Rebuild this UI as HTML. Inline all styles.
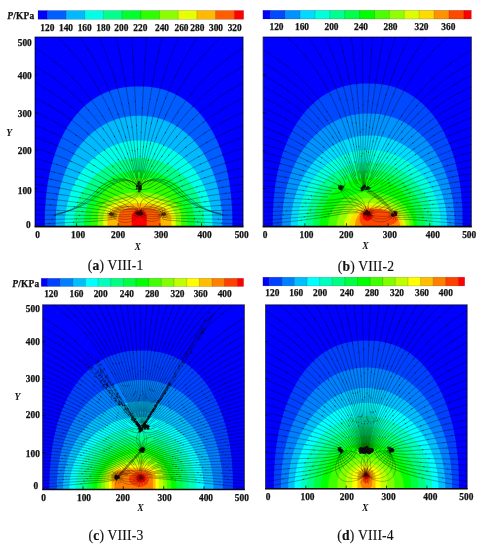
<!DOCTYPE html>
<html lang="en"><head><meta charset="utf-8"><title>Pressure contours and streamlines VIII-1 to VIII-4</title>
<style>
html,body{margin:0;padding:0;background:#fff}
svg{display:block}
.t{font-family:"Liberation Serif","DejaVu Serif",serif;font-weight:bold;font-size:9.4px;fill:#111;stroke:#111;stroke-width:.25px}
.ti{font-family:"Liberation Serif","DejaVu Serif",serif;font-weight:bold;font-style:italic;font-size:9.6px;fill:#111}
.cap{font-family:"Liberation Serif","DejaVu Serif",serif;font-size:13.6px;fill:#111;stroke:#111;stroke-width:.15px}
.sl{fill:none;stroke:#000;stroke-opacity:.55;stroke-width:.6}
.sl2{fill:none;stroke:#000;stroke-opacity:.5;stroke-width:.5}
.sv{fill:none;stroke:#000;stroke-opacity:.38;stroke-width:.5}
.sk{fill:none;stroke:#000;stroke-opacity:.75;stroke-width:.6}
.ar{fill:#000;fill-opacity:.5}
.bl{fill:#0a0a0a;fill-opacity:.9}
.fr{fill:none;stroke:#000;stroke-opacity:.75;stroke-width:.9}
.tk{stroke:#000;stroke-width:.8;stroke-opacity:.85}
</style></head><body>
<svg width="485" height="550" viewBox="0 0 485 550">
<rect width="485" height="550" fill="#fff"/>
<g>
<rect x="38" y="10.5" width="9.65" height="8.8" fill="#0000ff"/>
<rect x="47.3" y="10.5" width="18.99" height="8.8" fill="#005dff"/>
<rect x="66" y="10.5" width="18.99" height="8.8" fill="#00b9ff"/>
<rect x="84.7" y="10.5" width="18.99" height="8.8" fill="#00ffe8"/>
<rect x="103.4" y="10.5" width="18.99" height="8.8" fill="#00ff8b"/>
<rect x="122.1" y="10.5" width="18.99" height="8.8" fill="#00ff2e"/>
<rect x="140.8" y="10.5" width="18.99" height="8.8" fill="#2eff00"/>
<rect x="159.5" y="10.5" width="18.99" height="8.8" fill="#8bff00"/>
<rect x="178.2" y="10.5" width="18.99" height="8.8" fill="#e8ff00"/>
<rect x="196.9" y="10.5" width="18.99" height="8.8" fill="#ffb900"/>
<rect x="215.6" y="10.5" width="18.99" height="8.8" fill="#ff5d00"/>
<rect x="234.3" y="10.5" width="9.35" height="8.8" fill="#ff0000"/>
<line x1="47.3" x2="47.3" y1="10.5" y2="19.3" stroke="#000" stroke-opacity=".33" stroke-width=".5"/>
<line x1="66" x2="66" y1="10.5" y2="19.3" stroke="#000" stroke-opacity=".33" stroke-width=".5"/>
<line x1="84.7" x2="84.7" y1="10.5" y2="19.3" stroke="#000" stroke-opacity=".33" stroke-width=".5"/>
<line x1="103.4" x2="103.4" y1="10.5" y2="19.3" stroke="#000" stroke-opacity=".33" stroke-width=".5"/>
<line x1="122.1" x2="122.1" y1="10.5" y2="19.3" stroke="#000" stroke-opacity=".33" stroke-width=".5"/>
<line x1="140.8" x2="140.8" y1="10.5" y2="19.3" stroke="#000" stroke-opacity=".33" stroke-width=".5"/>
<line x1="159.5" x2="159.5" y1="10.5" y2="19.3" stroke="#000" stroke-opacity=".33" stroke-width=".5"/>
<line x1="178.2" x2="178.2" y1="10.5" y2="19.3" stroke="#000" stroke-opacity=".33" stroke-width=".5"/>
<line x1="196.9" x2="196.9" y1="10.5" y2="19.3" stroke="#000" stroke-opacity=".33" stroke-width=".5"/>
<line x1="215.6" x2="215.6" y1="10.5" y2="19.3" stroke="#000" stroke-opacity=".33" stroke-width=".5"/>
<line x1="234.3" x2="234.3" y1="10.5" y2="19.3" stroke="#000" stroke-opacity=".33" stroke-width=".5"/>
<rect x="38" y="10.5" width="205.6" height="8.8" fill="none" stroke="#000" stroke-opacity=".3" stroke-width=".5"/>
</g>
<g>
<rect x="262.9" y="10.3" width="7.74" height="8.7" fill="#0000ff"/>
<rect x="270.3" y="10.3" width="15.19" height="8.7" fill="#0049ff"/>
<rect x="285.2" y="10.3" width="15.19" height="8.7" fill="#0092ff"/>
<rect x="300.1" y="10.3" width="15.19" height="8.7" fill="#00dbff"/>
<rect x="315" y="10.3" width="15.19" height="8.7" fill="#00ffdb"/>
<rect x="329.9" y="10.3" width="15.19" height="8.7" fill="#00ff92"/>
<rect x="344.8" y="10.3" width="15.19" height="8.7" fill="#00ff49"/>
<rect x="359.7" y="10.3" width="15.19" height="8.7" fill="#00ff00"/>
<rect x="374.5" y="10.3" width="15.19" height="8.7" fill="#49ff00"/>
<rect x="389.4" y="10.3" width="15.19" height="8.7" fill="#92ff00"/>
<rect x="404.3" y="10.3" width="15.19" height="8.7" fill="#dbff00"/>
<rect x="419.2" y="10.3" width="15.19" height="8.7" fill="#ffdb00"/>
<rect x="434.1" y="10.3" width="15.19" height="8.7" fill="#ff9200"/>
<rect x="449" y="10.3" width="15.19" height="8.7" fill="#ff4900"/>
<rect x="463.9" y="10.3" width="7.44" height="8.7" fill="#ff0000"/>
<line x1="270.3" x2="270.3" y1="10.3" y2="19" stroke="#000" stroke-opacity=".33" stroke-width=".5"/>
<line x1="285.2" x2="285.2" y1="10.3" y2="19" stroke="#000" stroke-opacity=".33" stroke-width=".5"/>
<line x1="300.1" x2="300.1" y1="10.3" y2="19" stroke="#000" stroke-opacity=".33" stroke-width=".5"/>
<line x1="315" x2="315" y1="10.3" y2="19" stroke="#000" stroke-opacity=".33" stroke-width=".5"/>
<line x1="329.9" x2="329.9" y1="10.3" y2="19" stroke="#000" stroke-opacity=".33" stroke-width=".5"/>
<line x1="344.8" x2="344.8" y1="10.3" y2="19" stroke="#000" stroke-opacity=".33" stroke-width=".5"/>
<line x1="359.7" x2="359.7" y1="10.3" y2="19" stroke="#000" stroke-opacity=".33" stroke-width=".5"/>
<line x1="374.5" x2="374.5" y1="10.3" y2="19" stroke="#000" stroke-opacity=".33" stroke-width=".5"/>
<line x1="389.4" x2="389.4" y1="10.3" y2="19" stroke="#000" stroke-opacity=".33" stroke-width=".5"/>
<line x1="404.3" x2="404.3" y1="10.3" y2="19" stroke="#000" stroke-opacity=".33" stroke-width=".5"/>
<line x1="419.2" x2="419.2" y1="10.3" y2="19" stroke="#000" stroke-opacity=".33" stroke-width=".5"/>
<line x1="434.1" x2="434.1" y1="10.3" y2="19" stroke="#000" stroke-opacity=".33" stroke-width=".5"/>
<line x1="449" x2="449" y1="10.3" y2="19" stroke="#000" stroke-opacity=".33" stroke-width=".5"/>
<line x1="463.9" x2="463.9" y1="10.3" y2="19" stroke="#000" stroke-opacity=".33" stroke-width=".5"/>
<rect x="262.9" y="10.3" width="208.4" height="8.7" fill="none" stroke="#000" stroke-opacity=".3" stroke-width=".5"/>
</g>
<g>
<rect x="41.2" y="278.3" width="6.62" height="8.2" fill="#0000ff"/>
<rect x="47.5" y="278.3" width="12.95" height="8.2" fill="#0040ff"/>
<rect x="60.2" y="278.3" width="12.95" height="8.2" fill="#0080ff"/>
<rect x="72.8" y="278.3" width="12.95" height="8.2" fill="#00bfff"/>
<rect x="85.5" y="278.3" width="12.95" height="8.2" fill="#00ffff"/>
<rect x="98.1" y="278.3" width="12.95" height="8.2" fill="#00ffbf"/>
<rect x="110.8" y="278.3" width="12.95" height="8.2" fill="#00ff80"/>
<rect x="123.4" y="278.3" width="12.95" height="8.2" fill="#00ff40"/>
<rect x="136.1" y="278.3" width="12.95" height="8.2" fill="#00ff00"/>
<rect x="148.7" y="278.3" width="12.95" height="8.2" fill="#40ff00"/>
<rect x="161.4" y="278.3" width="12.95" height="8.2" fill="#80ff00"/>
<rect x="174" y="278.3" width="12.95" height="8.2" fill="#bfff00"/>
<rect x="186.7" y="278.3" width="12.95" height="8.2" fill="#ffff00"/>
<rect x="199.3" y="278.3" width="12.95" height="8.2" fill="#ffbf00"/>
<rect x="212" y="278.3" width="12.95" height="8.2" fill="#ff8000"/>
<rect x="224.6" y="278.3" width="12.95" height="8.2" fill="#ff4000"/>
<rect x="237.3" y="278.3" width="6.32" height="8.2" fill="#ff0000"/>
<line x1="47.5" x2="47.5" y1="278.3" y2="286.5" stroke="#000" stroke-opacity=".33" stroke-width=".5"/>
<line x1="60.2" x2="60.2" y1="278.3" y2="286.5" stroke="#000" stroke-opacity=".33" stroke-width=".5"/>
<line x1="72.8" x2="72.8" y1="278.3" y2="286.5" stroke="#000" stroke-opacity=".33" stroke-width=".5"/>
<line x1="85.5" x2="85.5" y1="278.3" y2="286.5" stroke="#000" stroke-opacity=".33" stroke-width=".5"/>
<line x1="98.1" x2="98.1" y1="278.3" y2="286.5" stroke="#000" stroke-opacity=".33" stroke-width=".5"/>
<line x1="110.8" x2="110.8" y1="278.3" y2="286.5" stroke="#000" stroke-opacity=".33" stroke-width=".5"/>
<line x1="123.4" x2="123.4" y1="278.3" y2="286.5" stroke="#000" stroke-opacity=".33" stroke-width=".5"/>
<line x1="136.1" x2="136.1" y1="278.3" y2="286.5" stroke="#000" stroke-opacity=".33" stroke-width=".5"/>
<line x1="148.7" x2="148.7" y1="278.3" y2="286.5" stroke="#000" stroke-opacity=".33" stroke-width=".5"/>
<line x1="161.4" x2="161.4" y1="278.3" y2="286.5" stroke="#000" stroke-opacity=".33" stroke-width=".5"/>
<line x1="174" x2="174" y1="278.3" y2="286.5" stroke="#000" stroke-opacity=".33" stroke-width=".5"/>
<line x1="186.7" x2="186.7" y1="278.3" y2="286.5" stroke="#000" stroke-opacity=".33" stroke-width=".5"/>
<line x1="199.3" x2="199.3" y1="278.3" y2="286.5" stroke="#000" stroke-opacity=".33" stroke-width=".5"/>
<line x1="212" x2="212" y1="278.3" y2="286.5" stroke="#000" stroke-opacity=".33" stroke-width=".5"/>
<line x1="224.6" x2="224.6" y1="278.3" y2="286.5" stroke="#000" stroke-opacity=".33" stroke-width=".5"/>
<line x1="237.3" x2="237.3" y1="278.3" y2="286.5" stroke="#000" stroke-opacity=".33" stroke-width=".5"/>
<rect x="41.2" y="278.3" width="202.4" height="8.2" fill="none" stroke="#000" stroke-opacity=".3" stroke-width=".5"/>
</g>
<g>
<rect x="262.9" y="277.2" width="6.61" height="8.7" fill="#0000ff"/>
<rect x="269.2" y="277.2" width="12.91" height="8.7" fill="#0040ff"/>
<rect x="281.8" y="277.2" width="12.91" height="8.7" fill="#0080ff"/>
<rect x="294.4" y="277.2" width="12.91" height="8.7" fill="#00bfff"/>
<rect x="307" y="277.2" width="12.91" height="8.7" fill="#00ffff"/>
<rect x="319.7" y="277.2" width="12.91" height="8.7" fill="#00ffbf"/>
<rect x="332.3" y="277.2" width="12.91" height="8.7" fill="#00ff80"/>
<rect x="344.9" y="277.2" width="12.91" height="8.7" fill="#00ff40"/>
<rect x="357.5" y="277.2" width="12.91" height="8.7" fill="#00ff00"/>
<rect x="370.1" y="277.2" width="12.91" height="8.7" fill="#40ff00"/>
<rect x="382.7" y="277.2" width="12.91" height="8.7" fill="#80ff00"/>
<rect x="395.3" y="277.2" width="12.91" height="8.7" fill="#bfff00"/>
<rect x="407.9" y="277.2" width="12.91" height="8.7" fill="#ffff00"/>
<rect x="420.6" y="277.2" width="12.91" height="8.7" fill="#ffbf00"/>
<rect x="433.2" y="277.2" width="12.91" height="8.7" fill="#ff8000"/>
<rect x="445.8" y="277.2" width="12.91" height="8.7" fill="#ff4000"/>
<rect x="458.4" y="277.2" width="6.31" height="8.7" fill="#ff0000"/>
<line x1="269.2" x2="269.2" y1="277.2" y2="285.9" stroke="#000" stroke-opacity=".33" stroke-width=".5"/>
<line x1="281.8" x2="281.8" y1="277.2" y2="285.9" stroke="#000" stroke-opacity=".33" stroke-width=".5"/>
<line x1="294.4" x2="294.4" y1="277.2" y2="285.9" stroke="#000" stroke-opacity=".33" stroke-width=".5"/>
<line x1="307" x2="307" y1="277.2" y2="285.9" stroke="#000" stroke-opacity=".33" stroke-width=".5"/>
<line x1="319.7" x2="319.7" y1="277.2" y2="285.9" stroke="#000" stroke-opacity=".33" stroke-width=".5"/>
<line x1="332.3" x2="332.3" y1="277.2" y2="285.9" stroke="#000" stroke-opacity=".33" stroke-width=".5"/>
<line x1="344.9" x2="344.9" y1="277.2" y2="285.9" stroke="#000" stroke-opacity=".33" stroke-width=".5"/>
<line x1="357.5" x2="357.5" y1="277.2" y2="285.9" stroke="#000" stroke-opacity=".33" stroke-width=".5"/>
<line x1="370.1" x2="370.1" y1="277.2" y2="285.9" stroke="#000" stroke-opacity=".33" stroke-width=".5"/>
<line x1="382.7" x2="382.7" y1="277.2" y2="285.9" stroke="#000" stroke-opacity=".33" stroke-width=".5"/>
<line x1="395.3" x2="395.3" y1="277.2" y2="285.9" stroke="#000" stroke-opacity=".33" stroke-width=".5"/>
<line x1="407.9" x2="407.9" y1="277.2" y2="285.9" stroke="#000" stroke-opacity=".33" stroke-width=".5"/>
<line x1="420.6" x2="420.6" y1="277.2" y2="285.9" stroke="#000" stroke-opacity=".33" stroke-width=".5"/>
<line x1="433.2" x2="433.2" y1="277.2" y2="285.9" stroke="#000" stroke-opacity=".33" stroke-width=".5"/>
<line x1="445.8" x2="445.8" y1="277.2" y2="285.9" stroke="#000" stroke-opacity=".33" stroke-width=".5"/>
<line x1="458.4" x2="458.4" y1="277.2" y2="285.9" stroke="#000" stroke-opacity=".33" stroke-width=".5"/>
<rect x="262.9" y="277.2" width="201.8" height="8.7" fill="none" stroke="#000" stroke-opacity=".3" stroke-width=".5"/>
</g>
<clipPath id="cpa"><rect x="35" y="37" width="208.1" height="189.4"/></clipPath>
<g clip-path="url(#cpa)">
<rect x="35" y="37" width="208.1" height="189.4" fill="#0000ff"/>
<path fill="#005dff" d="M133.2 86.5L140 86.4 145.5 86.6 150.5 87 155.5 87.7 160.5 88.8 165 90 170.4 92 174.9 94 179.5 96.4 183.6 99 187.8 102 192 105.5 196 109.3 199.5 113 203 117.2 206.5 121.9 209.5 126.5 212.5 131.5 215.5 137.3 218 142.7 220.5 148.8 222.5 154.5 224.5 160.8 226.5 168.3 228 175.1 229.3 182 231.1 196 232.2 211 232.5 228 44.7 228 45 211 46 196.6 47.5 184.5 50 171.3 51.5 165.2 53.5 158.2 57.5 146.8 59.5 142 62.5 135.7 65 131 68 126 71 121.5 74 117.4 77.5 113.2 81 109.5 84.5 106.1 88.2 103 92 100.1 96 97.5 100.3 95 104.5 93 109.4 91 114 89.5 118 88.5 123 87.5 128 86.9 133.2 86.5Z"/>
<path fill="#00b9ff" d="M128.5 116.4L136 115.7 141 115.7 149.5 116.4 154.5 117.2 158.5 118.2 163.5 119.8 167 121.2 171.5 123.2 175 125.2 179 127.7 182.5 130.2 186.5 133.4 190 136.6 193.3 140 196.8 144 202.3 151.5 204.8 155.5 207.9 161 212.3 170.5 214.2 175.5 216.2 181.5 218.8 191.5 220.9 203 221.6 209.5 222.1 215.5 222.4 228 55.6 228 55.8 217 56.7 206 58.3 196 60.8 185 63.8 175.5 67.2 167 71.7 158 76.7 150 81.6 143.5 84.7 140 88.5 136.1 91.5 133.4 95.5 130.2 102 125.7 108.5 122.3 116 119.3 123.5 117.2 128.5 116.4Z"/>
<path fill="#00ffe8" d="M135.1 140.5L141.5 140.5 145.5 140.7 149.5 141.3 154 142.2 157.5 143.2 162 144.8 165.5 146.2 169.5 148.2 173 150.2 179 154.3 182 156.7 185.5 159.8 190.9 165.5 195.3 171 199.8 178 203.7 185.5 207.2 194 209.7 202.5 211.3 210 212.3 218.5 212.6 228 64.7 228 64.9 220 65.8 211.5 67.4 203.5 69.8 195 72.7 187.5 75.8 181 79.7 174.5 84.7 167.5 89.1 162.5 94.5 157.4 100.5 152.7 107 148.6 114 145.3 121.5 142.7 128 141.3 132 140.7 135.1 140.5Z"/>
<path fill="#00ff8b" d="M134.2 158L140.5 157.8 147.5 158.3 155 159.8 161.5 161.8 168 164.7 173.5 167.8 179 171.7 184.5 176.6 189.4 182 193.4 187.5 197 193.6 200 200.2 202.5 207.7 204 214.5 204.8 221.5 205 228 73.5 228 73.7 221.5 74.5 214.5 76 207.7 78 201.5 80.5 195.6 83.2 190.5 86.8 185 90.8 180 95 175.6 99.5 171.7 105 167.8 110.5 164.7 116 162.2 122 160.2 128 158.8 134.2 158Z"/>
<path fill="#00ff2e" d="M136.1 170L140.5 169.9 146.5 170.3 152 171.3 158.5 173.2 164.5 175.9 169.5 178.7 175 182.8 178.5 186 182.2 190 186.3 195.5 188.9 200 191.2 205 192.8 209.5 194.3 215.5 195.2 222 195.3 228 83.6 228 83.7 223 84.3 218 85.2 213 87.2 206.5 89.1 202 91.8 197 94.8 192.5 97.6 189 102 184.5 106 181.2 111 177.8 115.5 175.3 120.5 173.2 125.5 171.7 130 170.7 136.1 170Z"/>
<path fill="#2eff00" d="M133.6 178L139 177.8 144.3 178 150 179 153.7 180 159 182 163 184 167.6 187 172 190.6 175.4 194 178.2 197.5 181.2 202 183.7 207 185.7 212.5 186.8 217 187.6 223 187.7 228 90.2 228 90.3 223.5 90.8 219 91.7 214.5 92.9 210.5 94.7 206 96.7 202 99.3 198 102 194.6 105.5 191 109 188 112.5 185.5 115.9 183.5 120.1 181.5 124.2 180 127.8 179 133.6 178Z"/>
<path fill="#8bff00" d="M127 193.2L133.5 192.6 142.5 192.5 147 192.6 152 193.2 157 194.2 162 195.7 167 197.8 171 200.1 174 202.5 176.5 205.1 178.5 207.9 180 211 180.7 213.5 181.1 216.5 181.2 228 97.8 228 97.8 217.5 98.3 213.5 99.2 210.5 100.2 208.5 101.5 206.4 103 204.5 105.5 202.1 108 200.1 111 198.3 114.5 196.6 118.5 195.2 122 194.2 127 193.2Z"/>
<path fill="#e8ff00" d="M130.3 198L136 197.6 141.5 197.5 147 197.8 152 198.5 156.5 199.5 160 200.6 164 202.3 167 204.1 169.5 205.9 171.6 208 173.1 210 174.7 213 175.3 215 175.8 217.5 175.8 228 103.2 228 103.2 218.5 103.7 215 104.3 213 105.3 211 107.5 207.9 109.4 206 111.5 204.4 114 202.8 117 201.4 123 199.4 126.9 198.5 130.3 198Z"/>
<path fill="#ffb900" d="M131.6 203.5L136 203.2 142 203.2 146 203.4 150.5 203.8 155 204.7 158.5 205.7 161.5 206.8 164.5 208.4 166 209.5 168 211.3 169 212.5 170.5 215 171 216.5 171.5 219.5 171.5 228 107.5 228 107.5 220 108 216.5 109 214 110 212.5 111.3 211 113 209.5 115 208.1 117.5 206.8 120 205.8 126 204.2 131.6 203.5Z"/>
<path fill="#ff5d00" d="M134.1 207.5L142.5 207.4 149 207.9 153.7 209 156 210 157.5 211 158.6 212 159.5 213.2 160 214.2 160.5 216 160.6 228 118.4 228 118.5 216.5 119 214.2 120 212.5 120.9 211.5 122.2 210.5 125.3 209 129.5 208 134.1 207.5Z"/>
<path fill="#ff0000" d="M137.3 210.5L141 210.5 142.8 211 144.4 212 145.8 213.5 146.3 214.5 146.7 216.5 146.8 228 131.7 228 131.7 217 132.2 214.5 133.1 213 134.1 212 135.7 211 137.3 210.5Z"/>
<path class="sl" d="M35.3 224.2L93.3 221.3 107.3 220.1 116.2 218.6M242.8 224.2L184.8 221.4 171.5 220.4 166.6 219.9 162.5 219.2M35.3 219.8L60.5 219.2 96.2 218.5 108.1 217.9 110.8 217.5 114.2 216.6 117 216.4M242.8 219.8L212.7 219.1 182.6 218.6 168.6 218 165.1 217.6 162.4 217.1M35.3 215L64 215 108.1 215.8 110.2 215.7 111.6 215.4M242.8 215L212 215.1 170 216 165.8 215.9 163.7 215.6M35.3 209.8L58.4 210.4 79.4 211.4 101 212.9 110.8 214M242.8 209.8L222.5 210.3 207.1 211 186.2 212.3 164.5 214.2M35.3 204.2L50.7 205 63.3 205.8 79.3 207.2 91.1 208.5 100.1 209.7 107 210.9 111.1 212.1 114.2 213.7 117.6 214.3M242.8 204.2L227.4 205 215.5 205.7 191.8 207.9 184.2 208.8 173.1 210.5 165.6 212.1 163 213.1M35.3 198.1L50 199.2 62.5 200.5 73.6 201.9 88.2 204 99.2 206 106 207.6 110 208.9 115.1 211.1 118.4 212.2M242.8 198.1L226.1 199.4 212.8 200.8 201.7 202.2 185.8 204.7 178.2 206.1 170.8 207.9 164.8 209.9 160.3 211.9M35.3 191.4L50.6 193.1 63.8 195 76.2 197.1 90.6 200 99.5 202.1 105.5 203.8 110.8 205.8 121 210.3M242.8 191.4L227.5 193.1 214.3 194.9 202.6 196.9 188.2 199.8 178.6 202 171.3 204.2 164.7 206.7 157.8 210.1M35.3 184.2L50.5 186.4 65 189 78 191.9 92.9 195.7 101.6 198.4 108.2 200.7 115.9 204.1 123.9 208.4M242.8 184.2L226.9 186.5 213.1 189 200.8 191.7 185.9 195.5 177.8 197.8 170.5 200.3 162.2 204.1 154.3 208.5M35.3 176.3L51.1 179.2 66.1 182.7 79.6 186.4 94.3 191.1 104.8 194.9 112.6 198.1 124.4 204.3 128.9 207.5M242.8 176.3L226.3 179.4 212 182.6 199.1 186.1 183.8 191 174.5 194.3 166.1 197.7 159.9 200.9 155 203.6 152.7 205.2 149.9 207.3M35.3 167.7L50.3 171.1 65.2 175.2 78.5 179.5 92.9 184.9 101.3 188.4 117.9 195.9 127.1 200.9 130.1 202.8 132.2 204.6 133.9 206.8M242.8 167.7L226.4 171.4 212.3 175.4 198.3 179.9 183.9 185.4 171.6 190.6 160.2 195.8 151.7 200.7 148.7 202.5 146.6 204.4 144.4 207.1M35.3 158.4L51.5 162.8 64.8 167.2 72 169.9 79.2 172.7 93.3 179 102.7 183.5 117.1 190.8 124.1 194 134.8 199.2 136.4 200.5 137.2 201.7 137.8 203.7 138.3 207.1M242.8 158.4L227.3 162.6 213.9 166.9 199.5 172.4 186.1 178.3 176 183.1 161 190.8 154.7 193.7 143.5 199.4 141.9 200.8 141.2 202 140.6 204 140.1 206.8M35.3 148.3L46 151.6 55.9 155.1 66.3 159.2 76.5 163.8 84.7 167.7 94 172.7 106.7 180 115.1 185.1 123.1 189.4M242.8 148.3L231.4 151.8 221.5 155.3 211.1 159.4 200.9 164 192.7 168 184.7 172.2 173.7 178.5 161.7 185.7 154.3 189.6M35.3 137.3L46.5 141.3 57.5 145.8 67.6 150.6 78.2 156.1 86.7 160.9 95 166.1 104.3 172.3 118.6 182.5 122.7 185.1 125.8 186.8 129 188.3 132.3 189.3 135.1 189.6 137.2 189.3M242.8 137.3L232.9 140.8 223.8 144.4 215.5 148 207.3 152 196.2 158 184.8 164.8 175.5 171 159.5 182.4 153.5 186.1 149.8 188 146.5 189.1 143.7 189.6 142.3 189.6 141 189.3M35.3 125.3L47.6 130.4 59 135.8 69.4 141.5 80.2 148 88.9 153.9 97.4 160.1 106.7 167.5 122.2 180.5 126.2 183.4 129.8 185.6M242.8 125.3L230.5 130.4 219.1 135.7 208.6 141.4 198.5 147.5 189.7 153.4 180.7 159.9 171.9 166.9 155.8 180.5 151.9 183.4 148.3 185.6M35.3 112.3L48 118.2 59.7 124.5 69.8 130.8 80.7 138.4 91.2 146.6 101.8 155.7 110.4 163.9 126.7 180.3 131.1 183.8 133.4 185.4 135.2 186.4M242.8 112.3L230.1 118.2 218.4 124.5 208.2 130.7 197.3 138.3 186.8 146.4 176.2 155.6 167.6 163.8 154.4 177.3 150.8 180.7 146.5 184.2 142.9 186.3M35.3 98.1L42.2 101.6 48.3 105 55 108.9 60.9 112.6 66.7 116.5 71.8 120.2 77.3 124.5 82.7 129 87.9 133.6 94.1 139.4 99 144.3 104.4 149.9 114.5 161.4 127.3 177.2M242.8 98.1L235.9 101.6 229.8 104.9 223.1 108.8 217.2 112.5 211.4 116.4 205.7 120.5 200.2 124.8 194.8 129.3 189.6 134 183.4 139.7 178 145.1 172.7 150.7 163 161.8 150.3 177.6M35.3 82.8L42.6 86.9 49.8 91.2 56.8 95.9 63.1 100.4 69.7 105.5 75.6 110.5 80.8 115.2 86.8 121.1 92.1 126.6 97.7 132.9 102.7 138.7 107.5 144.7 112.6 151.4 117.5 158.2 131.1 178.6 134.2 182.4 137.9 186.6M242.8 82.8L235.5 86.9 228.3 91.2 221.2 95.8 215 100.3 208.3 105.4 202.4 110.3 197.2 115 191.2 120.9 185.9 126.5 180.2 132.7 175.3 138.5 170 145.1 165.4 151.2 160.5 158.1 146.9 178.5 143.5 182.9 140.1 186.5M35.3 66.1L43 70.8 50 75.5 57.4 80.9 64 86.1 70.3 91.6 76.4 97.3 82.3 103.3 87.9 109.6 93.8 116.5 99.8 124.3 105.6 132.2 111.1 140.3 115.5 147.4 120.2 155.2 131.9 176.7 133.7 179.8M242.8 66.1L235 70.8 228 75.5 220.7 80.8 214.1 86 207.2 91.9 201.1 97.7 195.2 103.7 189.6 109.9 183.7 116.9 177.7 124.6 172 132.6 166.5 140.7 162 147.8 157.4 155.7 146.5 176 144.4 179.6M35.3 47.9L43.4 53.4 51.3 59.2 59 65.3 65.8 71.3 72.3 77.7 79 84.8 85.4 92.2 91.4 100 97.5 108.5 103.3 117.3 109.1 126.8 114.3 136 118.2 143.4 122.5 152.2 126.1 159.8 133.9 177.8 137.1 184M242.8 47.9L234.6 53.3 226.7 59.1 219.1 65.2 212.2 71.2 205.7 77.5 198.9 84.6 192.5 92.1 186.5 99.8 180.4 108.3 174.6 117.1 168.8 126.6 163.6 135.8 159.1 144.5 155.4 152 151.9 159.7 144.1 177.7 140.6 184.5M131.6 37.3L133.5 68 135.5 105.1 137 135.8 138.4 172.2M146.6 37.3L144.5 68 142.6 103 140.7 142.1 139.6 172.2M116.2 37.3L119.6 52.3 122.7 68.1 125.7 84.7 128.9 104.7 131.5 122.7 133.7 140.1 138.8 186M161.9 37.3L158.5 52.3 155.2 68.1 152.3 84.6 149.2 104 146.4 122.7 144 141.4 139.2 186M99.3 37.3L105.3 51.5 110.6 66 115.5 81.3 120.5 98.8 125.3 117.8 129.3 135.6 133 154.1 137.2 178.2M178.8 37.3L172.7 51.5 167.4 65.9 162.4 81.2 157.4 98.7 152.6 117.7 148.3 136.9 145 154 140.8 178.2M80.1 37.3L84.5 43.6 89 50.7 93.3 57.9 97.3 65.3 101.1 72.8 105 81 108.6 89.4 112.1 97.8 118.9 116.2 122 125.5 125.1 135.5 129.9 152.3 136.2 177.4 138.1 184.2M198 37.3L193.6 43.6 189 50.7 184.7 57.9 180.7 65.2 176.8 72.7 172.9 80.9 169.3 89.3 165.8 97.7 162.3 106.8 158.8 116.7 155.5 126.7 152.4 136.7 147.8 152.9 141.8 177.4 140 184.1M57.4 37.3L63.5 43.1 69.3 49.2 74.9 55.5 80.6 62.5 85.6 69.3 90.8 76.8 95.3 83.8 99.9 91.7 104.9 100.9 109.6 110.3 114.3 120.5 118.5 130.1 122.4 139.8 126.1 149.7 129 158.3 133.8 172.9M220.7 37.3L214.6 43.1 208.8 49.1 203.2 55.4 197.4 62.4 192.3 69.1 187.1 76.6 182.2 84.3 177.6 92.1 172.7 101.4 168 110.8 163.3 120.9 159.1 130.6 155.2 140.3 151.6 150.2 148.7 158.8 144 173.5"/>
<path class="ar" d="M48.2 223.6L50 222.8L50.1 224.1ZM72.2 222.4L74 221.6L74.1 222.9ZM222.9 223.2L221 223.8L221.1 222.5ZM199 222.1L197 222.7L197.1 221.4ZM51.2 219.4L53.1 218.7L53.1 220ZM75.2 218.9L77.1 218.2L77.1 219.5ZM219.9 219.2L218 219.8L218 218.5ZM195.9 218.8L194 219.4L194 218.1ZM54.2 215L56.1 214.4L56.1 215.7ZM78.2 215.3L80.1 214.7L80.1 216ZM227.9 215L226 215.7L226 214.4ZM203.9 215.2L202 215.9L202 214.6ZM57.2 210.4L59.1 209.8L59.1 211.1ZM81.2 211.6L83.1 211L83 212.3ZM224.9 210.3L223 211L223 209.7ZM200.9 211.3L199.1 212.1L199 210.8ZM49.2 204.9L51.1 204.3L51 205.6ZM73.1 206.7L75.1 206.2L74.9 207.5ZM221.9 205.3L220.1 206.1L220 204.8ZM198 207.4L196.2 208.2L196.1 206.9ZM52.1 199.4L54.1 199L54 200.3ZM76 202.2L78 201.8L77.8 203.1ZM229.9 199.1L228.1 199.9L228 198.6ZM206.1 201.7L204.3 202.5L204.1 201.3ZM55.1 193.7L57 193.4L56.9 194.7ZM78.7 197.6L80.7 197.3L80.5 198.6ZM227 193.2L225.2 194.1L225 192.8ZM203.3 196.8L201.5 197.8L201.3 196.5ZM57.9 187.8L59.9 187.5L59.7 188.7ZM81.4 192.8L83.4 192.6L83.1 193.9ZM224.1 187L222.4 188L222.1 186.7ZM200.6 191.7L198.9 192.8L198.6 191.6ZM49.9 179L51.9 178.7L51.7 180ZM73.3 184.6L75.3 184.5L74.9 185.8ZM96.2 191.7L98.2 191.8L97.8 193ZM221.3 180.5L219.6 181.5L219.3 180.3ZM198.1 186.5L196.5 187.7L196.1 186.4ZM52.7 171.8L54.7 171.7L54.4 172.9ZM75.7 178.6L77.7 178.6L77.3 179.8ZM98.2 187.1L100.2 187.2L99.7 188.4ZM229.2 170.8L227.5 171.8L227.3 170.6ZM206.2 177.3L204.6 178.5L204.2 177.3ZM183.6 185.5L182.1 186.8L181.6 185.6ZM55.4 164.1L57.4 164.1L57 165.3ZM78 172.2L80 172.3L79.5 173.5ZM99.8 182.1L101.8 182.4L101.3 183.5ZM226.5 162.8L224.9 164L224.5 162.8ZM203.8 170.7L202.3 172L201.8 170.8ZM181.8 180.3L180.4 181.7L179.9 180.6ZM47.6 152.2L49.6 152.2L49.2 153.4ZM70 160.8L72 161L71.4 162.2ZM91.5 171.4L93.5 171.7L92.9 172.8ZM112.3 183.4L114.3 183.8L113.6 184.9ZM223.9 154.4L222.3 155.7L221.9 154.4ZM201.7 163.6L200.3 165L199.7 163.8ZM180.4 174.7L179.1 176.2L178.5 175ZM50.2 142.8L52.2 142.9L51.7 144.1ZM72 152.8L74 153.1L73.4 154.3ZM92.8 164.7L94.8 165.2L94.1 166.3ZM112.7 178.2L114.6 178.8L113.8 179.9ZM221.4 145.4L219.9 146.8L219.4 145.6ZM199.9 156L198.5 157.5L197.9 156.3ZM179.4 168.4L178.1 170L177.4 168.9ZM52.6 132.8L54.6 133L54.1 134.2ZM73.8 144.1L75.7 144.6L75.1 145.7ZM93.7 157.4L95.7 158L94.9 159.1ZM112.5 172.4L114.4 173.1L113.6 174.1ZM229.1 131L227.6 132.4L227.1 131.3ZM207.7 141.9L206.4 143.5L205.7 142.4ZM187.5 154.9L186.4 156.6L185.6 155.5ZM168.6 169.7L167.6 171.4L166.7 170.4ZM54.9 122L56.9 122.3L56.3 123.4ZM75.3 134.6L77.2 135.2L76.5 136.2ZM94.3 149.2L96.2 150L95.3 151ZM112 165.5L113.8 166.4L112.9 167.3ZM226.7 120L225.3 121.5L224.7 120.4ZM206 132.2L204.8 133.8L204.1 132.8ZM186.7 146.5L185.7 148.2L184.9 147.2ZM168.9 162.5L168 164.3L167.1 163.4ZM47.6 104.6L49.6 105L48.9 106.1ZM67.9 117.4L69.8 118L69 119ZM86.6 132.5L88.4 133.2L87.6 134.2ZM103.8 149.2L105.5 150.2L104.5 151ZM119.4 167.4L121.1 168.5L120.1 169.3ZM224.4 108L223.1 109.6L222.4 108.4ZM204.5 121.5L203.4 123.1L202.6 122.1ZM186.3 137L185.3 138.8L184.4 137.9ZM169.6 154.3L168.8 156.1L167.9 155.3ZM49.9 91.3L51.8 91.8L51.1 92.9ZM69.4 105.3L71.3 106L70.4 107ZM87.1 121.4L88.9 122.4L88 123.3ZM103.2 139.3L104.9 140.3L103.8 141.1ZM117.6 158.4L119.2 159.6L118.1 160.4ZM231.6 89.2L230.3 90.7L229.6 89.6ZM211.8 102.7L210.7 104.4L209.9 103.4ZM193.7 118.5L192.8 120.3L191.9 119.3ZM177.4 136L176.7 137.9L175.7 137.1ZM162.7 155L162.1 156.9L161.1 156.2ZM52 76.9L53.9 77.5L53.1 78.6ZM70.7 91.9L72.5 92.7L71.6 93.7ZM87.5 109L89.2 110.1L88.2 110.9ZM102.4 127.8L104 129L103 129.7ZM115.7 147.8L117.3 149.1L116.2 149.7ZM229.4 74.6L228.2 76.2L227.4 75.1ZM210.4 89.2L209.3 90.9L208.5 89.9ZM193.2 105.9L192.4 107.7L191.4 106.9ZM177.9 124.4L177.3 126.3L176.3 125.6ZM164.3 144.2L163.9 146.2L162.8 145.5ZM152.4 165L152.1 167L150.9 166.4ZM53.9 61.2L55.8 61.9L55 62.9ZM71.8 77.2L73.6 78.1L72.7 79ZM87.7 95.2L89.4 96.3L88.3 97.1ZM101.6 114.7L103.2 115.9L102.1 116.6ZM113.9 135.3L115.4 136.7L114.2 137.3ZM124.6 156.8L126 158.2L124.8 158.8ZM227.3 58.7L226.2 60.4L225.4 59.3ZM209.1 74.3L208.2 76.1L207.3 75.1ZM192.7 91.8L192.1 93.7L191 92.9ZM178.5 111.2L178 113.1L176.9 112.4ZM166 131.6L165.6 133.6L164.5 133ZM155 153L154.8 154.9L153.6 154.4ZM132.5 52.2L133.3 54L132 54.1ZM133.9 76.1L134.7 78L133.4 78.1ZM135.2 100.1L136 102L134.7 102ZM136.4 124.1L137.1 125.9L135.8 126ZM137.5 148L138.2 149.9L136.9 150ZM145.1 59.2L145.6 61.1L144.3 61ZM143.7 83.1L144.2 85L142.9 85ZM142.4 107.1L142.9 109L141.6 108.9ZM141.2 131L141.8 133L140.5 132.9ZM140.2 155L140.8 156.9L139.5 156.9ZM120.1 54.8L121.1 56.5L119.8 56.8ZM124.5 78.4L125.5 80.1L124.2 80.3ZM128.4 102L129.4 103.8L128.1 104ZM131.9 125.8L132.8 127.6L131.5 127.8ZM134.8 149.6L135.6 151.4L134.4 151.6ZM158.8 50.8L159 52.8L157.7 52.6ZM154.1 74.4L154.4 76.4L153.1 76.1ZM150.1 98L150.4 100L149.2 99.8ZM146.6 121.8L147 123.8L145.7 123.6ZM143.6 145.6L144 147.6L142.7 147.4ZM107.2 56.7L108.4 58.2L107.2 58.7ZM114.9 79.4L116.1 81L114.9 81.4ZM121.4 102.5L122.5 104.2L121.2 104.5ZM127.1 125.8L128.2 127.5L126.9 127.8ZM132 149.3L133 151L131.7 151.3ZM172.2 52.9L172.2 54.9L171 54.4ZM164.3 75.5L164.3 77.5L163.1 77.1ZM157.5 98.5L157.6 100.5L156.4 100.2ZM151.7 121.8L151.9 123.8L150.6 123.5ZM146.7 145.3L147 147.3L145.7 147ZM87.3 48L88.8 49.3L87.8 50ZM99.1 68.9L100.6 70.3L99.4 70.9ZM109.2 90.7L110.5 92.2L109.3 92.7ZM117.7 113.1L119 114.6L117.8 115.1ZM125.3 135.9L126.4 137.5L125.2 137.9ZM131.6 159L132.7 160.7L131.4 161ZM187.1 53.9L186.7 55.9L185.5 55.2ZM175.7 75.1L175.5 77L174.3 76.5ZM166.1 97L166 99L164.8 98.6ZM157.8 119.6L157.9 121.6L156.6 121.2ZM150.7 142.5L150.9 144.5L149.6 144.1ZM68.7 48.5L70.4 49.5L69.5 50.4ZM84 67L85.6 68.2L84.6 68.9ZM97.2 87L98.7 88.3L97.6 89ZM108.5 108.2L110 109.6L108.8 110.2ZM118.5 130L119.8 131.5L118.6 132ZM127 152.4L128.3 154L127 154.4ZM204.7 53.7L203.9 55.5L202.9 54.7ZM189.9 72.6L189.4 74.5L188.3 73.8ZM177.2 92.9L176.9 94.9L175.7 94.3ZM166.3 114.3L166.1 116.3L164.9 115.8ZM156.8 136.4L156.7 138.4L155.5 137.9ZM148.7 158.9L148.7 160.9L147.5 160.5Z"/>
<path fill="none" stroke="#000" stroke-opacity=".5" stroke-width=".65" d="M140.5 186.0C149.0 176.5 163.0 178.0 177.0 190.0C191.0 203.0 205.0 211.5 223.0 214.5M140.5 186.0C151.2 175.2 166.3 176.9 180.3 189.3C194.3 203.0 207.2 212.4 225.2 215.6M140.5 186.0C147.0 177.7 160.0 179.0 174.0 190.6C188.0 203.0 203.0 210.7 221.0 213.5M137.5 186.0C129.0 176.5 115.0 178.0 101.0 190.0C87.0 203.0 73.0 211.5 55.0 214.5M137.5 186.0C126.8 175.2 111.7 176.9 97.7 189.3C83.7 203.0 70.8 212.4 52.8 215.6M137.5 186.0C131.0 177.7 118.0 179.0 104.0 190.6C90.0 203.0 75.0 210.7 57.0 213.5"/><path class="sl2" d="M139.3 212.5C136.1 224.8 117.3 226.1 112.5 214.3M139.3 212.5C135.8 220.8 117.1 222.1 112.5 214.3M139.3 212.5C135.6 217.3 116.8 218.6 112.5 214.3M139.3 212.5C135.4 214.4 116.6 215.6 112.5 214.3M139.3 212.5C135.1 210.6 116.4 211.9 112.5 214.3M139.3 212.5C134.9 207.4 116.2 208.7 112.5 214.3M139.3 212.5C134.7 203.7 115.9 204.9 112.5 214.3"/><path class="sl2" d="M139.3 212.5C142 223.3 158.4 224.6 162.7 214.3M139.3 212.5C142.3 219.8 158.7 221 162.7 214.3M139.3 212.5C142.5 216.7 158.9 218 162.7 214.3M139.3 212.5C142.7 214.2 159.1 215.4 162.7 214.3M139.3 212.5C143 210.9 159.3 212.2 162.7 214.3M139.3 212.5C143.2 208.1 159.6 209.3 162.7 214.3M139.3 212.5C143.4 204.8 159.8 206.1 162.7 214.3"/><path class="sl2" d="M138.6 191C136 199 122 202 100 207.5M138.2 190.5C134 197 118 199.5 96 204M138.9 191.3C137.5 201 126 204.5 112 209M139.4 191C142 199 156 202 178 207.5M139.8 190.5C144 197 160 199.5 182 204M139.1 191.3C140.5 201 152 204.5 166 209"/><path class="sl2" d="M138.5 210.5C137 205 128 205 116 210.5M137.5 211C134 207.5 127 208 118 212M140.5 210.5C142 205 151 205 163 210.5M141.5 211C145 207.5 152 208 161 212"/><g fill="#0b0b0b" fill-opacity="0.75"><ellipse cx="139" cy="187" rx="1.6" ry="2.9"/><circle cx="137" cy="189" r="0.7"/><circle cx="138.6" cy="189.3" r="0.8"/><circle cx="139.7" cy="189.8" r="1"/><circle cx="137.2" cy="186.2" r="1.2"/><circle cx="139.7" cy="191.2" r="0.7"/><circle cx="138.1" cy="184.1" r="1.1"/><circle cx="139.9" cy="189" r="1.3"/><circle cx="140.6" cy="186.4" r="1.3"/><circle cx="140.8" cy="183.9" r="0.8"/><circle cx="140.4" cy="187.6" r="1.4"/><circle cx="140.5" cy="188.9" r="1.5"/><circle cx="136.8" cy="186.2" r="1"/><circle cx="138.1" cy="183.1" r="0.7"/><circle cx="139" cy="182.4" r="1.3"/><circle cx="138.6" cy="191.1" r="0.8"/><circle cx="136.6" cy="188.4" r="0.9"/></g><g fill="#2a0000" fill-opacity="0.7"><ellipse cx="139.6" cy="212.8" rx="2.7" ry="1.4"/><circle cx="137.9" cy="213.2" r="1.1"/><circle cx="136.7" cy="213.4" r="1"/><circle cx="140.6" cy="214.6" r="0.9"/><circle cx="139.2" cy="214.7" r="1.1"/><circle cx="141.8" cy="214.1" r="0.8"/><circle cx="140.5" cy="210.7" r="1.1"/><circle cx="140.8" cy="211.9" r="1.1"/><circle cx="142.5" cy="213.5" r="0.8"/><circle cx="142.1" cy="214.1" r="0.9"/><circle cx="141.6" cy="213.6" r="1"/><circle cx="137.2" cy="213.1" r="1.2"/><circle cx="136.3" cy="213" r="1"/></g><path class="sl2" d="M112.2 214.3L116.9 214.3M112.2 214.5L116.2 216.3M112 214.7L114.9 218.9M111.8 214.8L113 218.5M111.6 214.8L111 219M111.4 214.7L109 218.3M111.2 214.5L107.6 216.1M111.2 214.3L106.7 214.1M111.2 214.1L107 212.5M111.4 213.9L108.6 210.7M111.6 213.8L110.3 209.3M111.8 213.8L112.6 210.1M112 213.9L115.1 210.1M112.1 214.1L115.6 212.3"/><path class="sl2" d="M163.7 214.3L168.1 214.7M163.6 214.6L167.7 217M163.5 214.7L165.8 217.8M163.3 214.8L163.8 218.3M163.1 214.8L162.3 219M162.9 214.7L160.3 217.6M162.7 214.5L157.9 216.4M162.7 214.3L158.2 214.6M162.7 214.1L158.8 212.6M162.9 213.9L159.3 210.2M163.1 213.8L161.9 208.8M163.3 213.8L164.7 209M163.5 213.9L165.6 210.9M163.7 214.1L167.1 212.5"/><path class="sl2" d="M141.5 212.5L146.1 212.2M141.3 213.5L145.5 215.6M140.5 214.3L142.6 217.9M139.4 214.6L139.2 218.5M138.6 214.4L137.1 217.2M137.9 213.7L134.3 216.2M137.5 212.6L134.4 212.7M137.9 211.5L135.1 209.6M138.5 210.9L136.7 208M139.6 210.6L139.7 206.6M140.5 210.9L142.3 208M141.2 211.5L144 209.7"/><g fill="#3a0000" fill-opacity="0.55"><ellipse cx="111.7" cy="214.3" rx="1.4" ry="1.4"/><circle cx="109.8" cy="213.7" r="0.6"/><circle cx="109.5" cy="214.2" r="0.9"/><circle cx="112.6" cy="215.2" r="0.5"/><circle cx="110.8" cy="214.7" r="0.7"/><circle cx="110.9" cy="213.1" r="0.8"/><circle cx="110.9" cy="213.8" r="0.8"/><circle cx="111.6" cy="215.9" r="0.6"/><circle cx="111.1" cy="212.7" r="0.6"/><circle cx="109.7" cy="213.7" r="0.7"/></g><g fill="#3a0000" fill-opacity="0.55"><ellipse cx="163.2" cy="214.3" rx="1.4" ry="1.4"/><circle cx="165" cy="213.9" r="1"/><circle cx="162.8" cy="212.4" r="0.6"/><circle cx="164.1" cy="214.2" r="0.6"/><circle cx="161.3" cy="215.1" r="0.6"/><circle cx="164.7" cy="212.6" r="0.6"/><circle cx="162.5" cy="213.8" r="0.7"/><circle cx="165.4" cy="214.9" r="0.7"/><circle cx="165.2" cy="213.6" r="0.9"/><circle cx="163.7" cy="215.2" r="0.8"/></g>
</g>
<rect class="fr" x="35" y="37" width="208.1" height="189.4"/>
<line class="tk" x1="76.6" x2="76.6" y1="226.4" y2="223.2"/>
<line class="tk" x1="35" x2="38.2" y1="188.5" y2="188.5"/>
<line class="tk" x1="118.2" x2="118.2" y1="226.4" y2="223.2"/>
<line class="tk" x1="35" x2="38.2" y1="150.6" y2="150.6"/>
<line class="tk" x1="159.9" x2="159.9" y1="226.4" y2="223.2"/>
<line class="tk" x1="35" x2="38.2" y1="112.8" y2="112.8"/>
<line class="tk" x1="201.5" x2="201.5" y1="226.4" y2="223.2"/>
<line class="tk" x1="35" x2="38.2" y1="74.9" y2="74.9"/>
<line x1="34.6" x2="243.5" y1="226.6" y2="226.6" stroke="#000" stroke-opacity=".88" stroke-width="1.6"/>
<clipPath id="cpb"><rect x="263.1" y="37" width="208.3" height="189.4"/></clipPath>
<g clip-path="url(#cpb)">
<rect x="263.1" y="37" width="208.3" height="189.4" fill="#0000ff"/>
<path fill="#0049ff" d="M356.7 84L362.6 83.6 369.1 83.5 375.1 83.7 380.6 84.2 385.6 85 390.6 86.1 395.6 87.6 400.6 89.5 405.1 91.6 409.6 94.1 414.1 97 418.2 100 422.6 103.8 426.6 107.7 430.1 111.6 434.1 116.6 437.6 121.5 441.1 127.2 444.1 132.6 447.1 138.9 449.6 144.8 452.1 151.5 454.1 157.7 456.1 165 457.6 171.5 459.1 179.1 460.3 186.5 461.2 194.5 462.4 210 462.7 228 272.7 228 272.9 213.5 273.6 200.5 275.1 186.7 276.1 180.2 277.6 172.3 280.6 160.2 282.6 153.6 284.6 147.9 289.1 137.1 294.1 127.5 297.1 122.6 300.6 117.5 304.1 113 307.1 109.5 313.7 103 317.2 100 321.2 97 325.1 94.5 329.6 91.9 333.6 90 338.6 88 343.1 86.6 347.4 85.5 352.1 84.6 356.7 84Z"/>
<path fill="#0092ff" d="M359 114L363.6 113.6 369.6 113.5 374.6 113.7 379.1 114.1 383.1 114.8 387.6 115.8 392.6 117.3 396.6 118.7 401.1 120.7 405.6 123.1 410.6 126.2 414.1 128.8 417.1 131.2 421.1 134.8 424.3 138 427.9 142 431.4 146.5 433.9 150 437.3 155.5 439.8 160 442.3 165 444.9 171 448.4 181 449.9 186.5 451.4 192.5 453.3 204 454.4 215.5 454.7 228 282 228 282.3 216 283.2 205.5 284.8 195 286.9 186 289.8 176.5 293.3 167.5 297.4 159 300.3 154 302.8 150 308.4 142.5 314.1 136.2 320.1 130.7 324.1 127.6 327.6 125.2 334.6 121.2 339.1 119.2 342.6 117.8 347.6 116.2 351.1 115.3 359 114Z"/>
<path fill="#00dbff" d="M362.1 135.7L371.6 135.4 376.1 135.7 380.1 136.3 384.6 137.2 388.6 138.2 393.1 139.8 396.6 141.2 403.6 144.7 410.6 149.3 416.6 154.1 420.2 157.5 423.9 161.5 429.5 168.5 433.9 175.5 437.9 183 441.4 191.5 443.8 199.5 445.9 209 447 218 447.3 228 290.7 228 290.9 219.5 291.9 210.5 293.8 201 296.3 192.5 299.2 185 302.9 177.5 306.8 171 312.4 163.5 317.6 157.7 323.6 152.2 329.6 147.7 333.6 145.2 337.1 143.2 343.6 140.3 351.1 137.8 358.1 136.2 362.1 135.7Z"/>
<path fill="#00ffdb" d="M364.1 150L371.6 149.8 379.6 150.6 387.1 152.2 393.6 154.3 400.1 157.2 407.1 161.3 413.1 165.7 418.6 170.8 423.6 176.4 428.1 182.6 432.1 189.4 435.1 196 437.6 203.1 439.6 211.4 440.6 218.5 441 228 297.6 228 297.8 221 298.6 213.7 300.1 206.4 302.1 199.7 304.6 193.4 308.1 186.5 311.9 180.5 316.1 175 321.1 169.7 326.1 165.3 331.6 161.2 337.6 157.7 344.1 154.7 351.1 152.3 357.6 150.8 364.1 150Z"/>
<path fill="#00ff92" d="M356.6 163.2L364.1 162.2 367.6 162 375.1 162.2 382.1 163.3 388.1 164.8 394.6 167.3 400.6 170.3 406.6 174.2 412.1 178.7 416.8 183.5 420.8 188.5 424.9 195 427.8 201 430.2 207.5 431.8 214 432.8 221 433 228 305.6 228 305.7 222 306.4 216 307.8 209.5 309.4 204.5 311.4 199.5 314.2 194 317.4 189 320.9 184.5 324.6 180.5 328.6 176.8 334.1 172.7 339.1 169.7 345.1 166.8 350.6 164.8 356.6 163.2Z"/>
<path fill="#00ff49" d="M369.1 170L374.6 170.3 380.1 171.1 385.1 172.4 390.6 174.3 395.6 176.7 400.6 179.8 405.1 183.3 409.1 187 413 191.5 416.2 196 419 201 421.2 206 423 211.5 424.2 217 424.9 222.5 425 228 313.2 228 313.3 222.5 314 217 315.3 211 317 206 319.4 200.5 322.3 195.5 326 190.5 329.1 187 333.1 183.2 337.6 179.8 342.6 176.7 347.6 174.3 353.1 172.4 358.1 171.1 363.6 170.3 369.1 170Z"/>
<path fill="#00ff00" d="M362.2 178L368.6 177.7 374.5 178 379.8 179 383.4 180 388.5 182 393.2 184.5 397.1 187 401.1 190.3 405.1 194.4 408.3 198.5 411.3 203.5 413.5 208 415.3 213.5 416.4 218 416.9 222.5 417.1 228 319.7 228 319.8 224 320.1 220 321.1 214.8 322.6 209.8 324.1 206.2 326.1 202.3 328.1 199 331.1 195 334.1 191.8 337.1 189 341.1 186 346.1 183 350.5 181 353.4 180 356.9 179 362.2 178Z"/>
<path fill="#49ff00" d="M360.1 192.7L365.6 192.1 372.6 192.1 375.1 192.2 381.1 193.2 386.6 194.7 390.6 196.2 394.6 198.2 398.6 200.6 402.6 203.8 405.4 206.5 407.8 209.5 410.3 213.5 411.8 217 412.9 220.5 413.4 224 413.5 228 328 228 328.1 224.5 328.3 222 329 219 329.9 216 331.2 213 332.9 210 334.7 207.5 337.1 204.7 341.6 200.7 344.6 198.7 348.1 196.7 351.6 195.2 356.1 193.7 360.1 192.7Z"/>
<path fill="#92ff00" d="M363.7 198.5L367.6 198.1 372.6 198.1 376.6 198.4 381.6 199.2 385.6 200.2 389.6 201.6 393.1 203.2 396.6 205.2 399.6 207.3 402.6 209.9 405.1 212.8 406.9 215.5 408.6 219 409.5 222 409.9 225 410 228 336.6 228 336.6 225 336.9 222.5 337.4 220 338.3 217.5 339.4 215 340.9 212.5 343.6 209 347.6 205.3 350.6 203.3 352.6 202.1 355.6 200.8 358.1 199.8 363.7 198.5Z"/>
<path fill="#dbff00" d="M364.1 203.7L368.1 203.1 372.6 203 376.1 203.2 380.1 203.7 384.6 204.8 387.6 205.7 391.1 207.2 394.1 208.7 397.1 210.7 399.6 212.9 402 215.5 403.4 217.5 404.5 219.5 405.4 222 405.9 224.5 406 228 344 228 344.2 223.5 344.8 220.5 345.8 218 346.8 216 349.2 212.5 352.6 209.2 356.1 206.8 360.6 204.7 364.1 203.7Z"/>
<path fill="#ffdb00" d="M367.1 206L370.1 205.6 373.1 205.5 377.1 205.8 380.6 206.3 383.6 207 386.7 208 390.1 209.4 393 211 395.1 212.5 397.5 214.5 399.3 216.5 400.7 218.5 401.7 220.5 402.6 223 402.9 225 403 228 349.6 228 349.7 224 350.5 220.5 352 217 354 214 356.8 211 360.1 208.7 363.1 207.2 367.1 206Z"/>
<path fill="#ff9200" d="M367.1 208.6L369.1 208.1 373.1 208 376.6 208.2 380.1 208.7 385.6 210.1 386.1 210.5 388.1 211.1 388.6 211.5 389.1 211.5 389.6 212 390.1 212.1 390.6 212.5 391.1 212.6 392.1 213.5 392.6 213.6 393.6 214.5 394.1 214.6 397.5 218 397.6 218.5 398.5 219.5 398.5 220 399 220.5 399.1 221.5 399.5 222 399.9 224 400 228 355 228 355 225 355.4 222 356.3 219 357.8 216 359.3 214 361.6 211.7 364.6 209.6 367.1 208.6Z"/>
<path fill="#ff4900" d="M366.8 209.5L370.1 209 378.6 209.5 380.1 209.8 382.1 210 383.1 210.4 384.6 210.5 385.1 210.9 386.6 211 387.1 211.5 388.1 211.5 388.6 212 389.1 212 389.6 212.5 390.1 212.5 390.6 213 391.1 213 392.1 214 392.6 214 393.6 215 394.1 215 397.1 218 397.1 218.5 397.6 219 397.7 219.5 397.6 220.5 395.7 222.5 393.3 224 389.1 225.6 384.6 226.7 377.6 227.7 373.6 228 368.1 227.9 365.6 227.3 363.1 225.9 360.8 223.5 359.7 221 359.5 218.5 359.7 217 360.2 215.5 361.6 213 363.8 211 365.5 210 366.8 209.5Z"/>
<path fill="#ff0000" d="M366.1 211L368.6 210.9 370.3 211.5 372 213 372.5 214 372.5 216.5 371.9 218 371.2 219 369.6 220.4 367.6 221 365.6 220.5 364.1 219.3 363.1 217.8 362.6 216.1 362.6 214.5 363.1 213 364.1 212 366.1 211Z"/>
<path class="sl" d="M263.4 224.2L296.8 220.8 308.6 219.3 320.4 217.7 339.7 214.3 348.7 213 357.1 212.7 359.9 212.8 362 213.1M471.1 224.2L440.4 222 416.7 219.9 398.5 219.1 397.8 219.3 397.1 219.2M263.4 220.3L298.3 217.4 310.8 216.2 321.3 215 340.6 212.1 346.9 211.4 351.1 211.1 358.1 211.5M471.1 220.3L415.9 217.3 397.7 217.3 396.3 217.6M263.4 216.1L299.7 214 317.2 212.7 322.8 212.2 342.2 209.7 347.1 209.3 352 209.3 355.5 209.6 360.3 210.5 362.3 211 363.6 211.6M471.1 216.1L450.8 215.5 415.8 214.7 410.9 214.8 398.3 215.6 395.6 215.5 394.9 215.6M263.4 211.8L312.4 209.9 322.8 209.4 334.7 208.1 344.4 207.2 348.6 207.1 352.8 207.3M471.1 211.8L448 211.5 415.1 211.9 406.7 212.5 400.5 213.3 395.6 214.1M263.4 207.2L321.5 206.5 327.8 206.1 341 204.8 348 204.6 352.9 205 357.7 206.1 361.5 207.8 363.3 208.9 364.9 210.2M471.1 207.2L457.1 207.2 446.6 207.5 413.7 209.1 407.5 209.7 400.6 211 397.2 211.9 394.7 213.1M263.4 202.3L283.7 202.5 312.4 203.2 323.6 203.3 331.3 202.9 341 201.8 347.3 201.7 351.5 202 355.6 202.9 359.5 204.4 361.9 205.9M471.1 202.3L455.7 202.8 444.5 203.4 422.9 205.2 409.7 206.6 403.5 207.7 399.4 208.8 396.8 209.7 395.5 210.3 393.7 211.4 392.3 212.9 391.2 213.8M263.4 197.2L284.4 197.9 315.1 199.8 326.3 200.2 330.5 200 334.7 199.7 345.1 198.1 346.5 198 348.6 198.1 352 198.7 356.1 199.8 358.7 200.8 360.5 201.8 362.2 203.1 363.6 204.6 365.1 207 366.4 209.5M471.1 197.2L455.7 198 443.9 199 426.5 201.1 409.2 203.6 403 204.8 396.4 207.1 393.8 208.3 392.6 209 389.2 211.3 388.3 212.4M263.4 191.7L285.8 193.2 317.1 196.3 328.3 197M471.1 191.7L455.8 193 442.5 194.5 425.9 197.1 409.4 200.2 401.3 202.2 396 204.2 390.3 206.8 385.4 209.5 384.4 210.4M263.4 186L276 187.1 286.4 188.2 297.5 189.7 320.4 193 326.6 193.7 330.8 194 332.9 194 335.7 193.7 337.8 193.3 339.7 192.7 341 191.9 341.9 190.9 342 190.2 341.6 188.9M471.1 186L455.1 187.8 441.3 189.8 424.1 193.3 408.4 197 400.3 199.3 395.7 200.9 386.2 205.3 380.1 208.7 378.9 209.5M263.4 180L276.6 181.6 288.4 183.3 299.4 185.2 322.8 189.7 331.8 191M471.1 180L455.2 182.2 441.4 184.7 427.1 188.1 412.9 191.9 402.9 195 394.3 198 381.6 204 375.1 208.1M263.4 173.6L277.2 175.7 289.6 178 301.2 180.6 327.7 187.2 333.2 188.3 336.7 188.6M471.1 173.6L454.5 176.4 440.2 179.6 433.4 181.3 425.4 183.7 410.1 188.7 400.2 192.3 391.1 195.9 382.9 199.9 377.9 202.5 376.1 203.6 372.4 206.8 371.5 207.8 370.7 208.9M263.4 166.9L278.5 169.8 293.5 173.3 306.3 176.9 325.7 183.1M471.1 166.9L458.7 169.3 448.5 171.6 437 174.8 427 178 415.2 182.4 397.1 189.9 386.2 194.6 376.9 199.5M263.4 159.8L273.7 162 283.2 164.4 293.2 167.3 303.2 170.6 313.7 174.4 325.4 179.1 335 183.4 339.3 185.8M471.1 159.8L460.2 162.2 450.7 164.7 440.6 167.7 430.7 171.1 422.3 174.5 412.6 178.6 381.7 193.4 373 198 371.3 199.2 370.3 200.2 369.1 201.9 368.5 203.2 368 205.9 367.9 209.4M263.4 152.3L273.6 154.9 282.3 157.4 291.6 160.5 300.8 163.9 309.2 167.4 318.8 171.7 328.1 176.4 334.2 179.9M471.1 152.3L459.6 155.2 448.8 158.5 438.3 162.2 427.9 166.4 419.6 170.1 411.5 174.2 385.7 188.3 380.7 190.8 373.6 193.9M263.4 144.4L275.5 147.9 286.7 151.9 299 156.9 311 162.6 322.1 168.6 331.6 174.5 335.6 177.4 338.2 179.7 340.1 181.8 341.2 183.6M471.1 144.4L461 147.3 451 150.5 441.2 154.3 431.6 158.5 421.5 163.4 411.1 169.1 404.5 173 389.1 182.8 379.4 188.4 375.6 190.2 373 191.1 370.2 191.7 368.2 191.5M263.4 136L274 139.5 283.8 143.3 292.8 147.2 301.6 151.5 311.4 156.9 320.4 162.4 328.5 167.9 335 173.2M471.1 136L459.1 139.9 448.6 143.9 437.8 148.7 426.5 154.4 417.4 159.6 407.3 165.9 400.4 170.6 386.3 181 380.5 184.9M263.4 127.2L271.3 130.1 279.1 133.2 286.8 136.6 293 139.8 301 144.2 308.8 148.9 315.8 153.5 322.6 158.4 328.7 163.1 334.4 168.2 338.8 172.7 341.9 176.6 344 180.2 344.7 182.1 345 183.5 344.8 184.9 344.5 185.6 344.2 186.1 343 187M471.1 127.2L459.2 131.5 447.6 136.4 437.6 141.3 426.6 147.5 415.9 154.2 406.2 161 396.8 168.3 382.9 180 377.8 183.8 374.9 185.7 372.5 187.1 369.9 188.2 367.8 188.7M263.4 117.9L270.6 120.8 277.6 123.8 283.9 126.9 290.1 130.1 295.6 133.2 301.5 136.9 307.3 140.9 313.6 145.3 319.7 150 325.1 154.5 330.2 159.2 334.7 163.7 338.4 167.8 341.9 172.2 344.6 176.3 346.2 179.5M471.1 117.9L463.9 120.7 457.4 123.4 451.1 126.3 445.4 129.1 439.9 132 434.4 135.2 422.7 142.8 412.4 150.1 402.6 158 393.2 166.4 380.1 179 374.2 184M263.4 108.1L271.1 111.4 278 114.8 284.9 118.4 290.9 121.9 296.2 125.2 303.1 130.1 309.3 134.7 315.2 139.6 322.1 145.6 328.6 151.9 333.9 157.5 338.8 163.4 342.5 168.5 345.5 173.3 347.7 177.6 350.7 184.7 352.3 187 354.5 188.8 357 190.1 359.6 190.8 361 191 362.4 190.9M471.1 108.1L464 111.1 457.6 114 450.7 117.4 444.6 120.7 438.6 124.3 432.7 128.1 426.9 132.1 420.7 136.7 410.4 145 401 153.4 396 158.3 389.7 164.9 377 178.9 372.5 183.3 368.7 186.3M263.4 97.7L270.4 101 276.6 104.2 283.3 108 289.3 111.6 295.1 115.5 300.2 119.2 306.2 124 312 129.1 318.2 134.8 323.6 140.2 328.9 145.9 333.9 151.7 337.7 156.7 341.7 162.4 345.1 167.8 348 173.4M471.1 97.7L464.1 100.9 457.8 104 451 107.6 445 111.2 439.1 114.9 433.3 118.9 427.1 123.5 421.2 128.4 414.8 133.8 409.1 139 403.6 144.4 398.3 150 393.2 155.7 386.4 163.8 376.1 177M263.4 86.8L270.9 90.6 278.2 94.7 284.8 98.7 291.2 103.1 297.3 107.6 303.3 112.5 309 117.7 315 123.6 322.2 131.2 327.7 137.6 333.3 144.7 338.6 152.1 342.3 158 345.8 164.1 348.9 170.4 353.1 180 354 181.9 355.2 183.7 357.1 185.7 358.8 187 361.3 188.2 363.3 188.7M471.1 86.8L463.5 90.5 456.1 94.4 448.9 98.7 441.9 103.3 435.6 107.8 429.6 112.5 423.2 118 416.5 124.2 410 130.6 404.3 136.7 398.7 143 393.8 148.9 385 160.7 373.2 178 366.4 186.9M263.4 75.3L271.4 79.6 279.2 84.3 286.7 89.4 293.5 94.4 299.9 99.8 306.1 105.4 312 111.4 318.1 118.2 323.9 125.2 330.3 133.5 335.5 141 340.3 148.7 343.4 154.2 346.6 160.4 349.7 167.5 354.4 179.2 355.7 181.7 357.3 184M471.1 75.3L463 79.5 455.8 83.7 448.7 88.2 441.8 93 435.1 98.1 428.7 103.5 423.1 108.8 416.6 115.2 410.5 121.9 404 129.3 397.9 136.9 392.9 143.7 387.3 151.7 381.7 160.6 370.3 179.9M263.4 63.1L271.9 68 279.5 72.9 286.9 78.2 293.5 83.4 299.8 89 306.3 95.4 312.5 102 318.3 109 323.8 116.3 329 123.7 334.4 132 339 139.8 343.6 148.4 347.7 157.3 350.3 163.8 354.8 176.4 356.4 180.2 357.4 182.1 358.6 183.8 360 185.3 361.6 186.6M471.1 63.1L463.1 67.5 455.4 72.3 447.9 77.4 440.6 82.9 433.6 88.7 427 94.9 420.6 101.4 414.1 108.7 407.4 116.8 401 125.2 395 133.7 389.6 141.9 383.9 151.6 378.1 162 366.9 184.5M263.4 50.2L271.8 55.3 279.3 60.4 286.6 65.9 293.5 71.8 300.2 78 306.5 84.5 312.5 91.4 318.5 99.1 324.5 107.7 330.5 117.2 336.4 127.5 341.2 136.9 345.6 146.4 349 154.8 351.8 162.7 356 176.1M471.1 50.2L462.7 55.2 455 60.2 447.7 65.5 440.6 71.2 433.8 77.3 427.3 83.6 421.1 90.3 415.2 97.3 408.8 105.6 402.3 114.7 396.2 124.1 390 134.3 385.3 142.8 380.2 152.8 375.8 162.3 370.8 173.9M362 37.3L362.6 70.2 363 105.2 363 142.3 362.7 173.8 362.9 178.7 363.2 181.5 363.9 184.2 365.1 187.5M372.5 37.3L367.2 113.4 363.8 167.2 363.5 174.9 363.6 179.8 364 183.3 364.9 186.7M351.2 37.3L353.3 52.6 355 67.9 356.6 83.2 358.2 102.7 359.6 122.3 360.6 139 361.2 151.6 361.7 171.2 362 176.1 362.4 179.6M383.3 37.3L380.4 53.1 377.5 70.4 374.5 90.5 371.3 113.3 368.5 135.6 365.4 162 364.5 172.5 364.2 178.7M339.2 37.3L343 51.5 346.4 65.8 349.5 80.9 352.4 97.4 355.8 120.3 358.1 139 359.2 150.2 360.7 170.4 361.2 176 362.1 180.8 362.7 182.8 363.4 184.8M395.3 37.3L390.2 53.3 385.4 70.9 380.6 90.6 375.6 113.1 371.2 135.8 366.8 162.1 365 176.6 364.7 180.8 364.8 184.3M325.2 37.3L328.1 43.7 331.2 50.7 334 57.9 336.9 65.8 341.8 81.1 346.6 98.7 349.1 108.9 351.7 120.5 355.3 139 357.4 152.9 360 173.7M409.3 37.3L402.8 50.5 396.7 64.6 391.1 79.7 385.3 97 379.9 115.1 374.4 135.4 368.9 159.9 366.4 173M308.3 37.3L312.7 43.6 316.9 50.1 320.9 56.7 324.9 64 328.7 71.5 332.2 79.2 335.4 86.9 338.7 95.4 342 104.6 345.1 113.9 348.3 124.7 351.1 134.8 353.3 143.6 355 151.8 358.7 173.2 359.9 178.7 360.8 181.3 361.7 183.3 362.8 185.1 364 186.7M426.2 37.3L421.2 44 416.4 50.9 411.5 58.6 407 66.5 402.7 74.5 398.4 83.3 394.1 92.9 390 102.6 385.4 114.3 381.3 125.5 377.7 136.1 373.9 148.8 370.3 161.6 367.3 173.9 365.8 181.4 365.4 184.2 365.4 186.3M287.2 37.3L293.8 43.5 299.6 49.6 305.2 55.9 310.8 63 316.1 70.4 321.1 78 325.7 85.9 330.3 94.5 334.9 104 339.1 113.6 343.6 124.6 347.1 134.5 350 143.1 352.1 150.5 354.4 159.4 357.9 175.1 358.8 178.4 359.8 181.1M447.3 37.3L441.1 42.9 434.6 49.3 428.9 55.5 423 62.4 417.5 69.6 412.3 77.1 407.4 84.7 402.4 93.2 396.7 103.6 391.4 114.3 386.4 125.1 381.7 136 376.7 149.1 372.5 161 367 179.1"/>
<path class="ar" d="M276.2 222.9L278.1 222L278.2 223.3ZM300.1 220.4L301.9 219.5L302.1 220.8ZM323.9 217.1L325.6 216.1L325.9 217.4ZM451.3 222.8L449.3 223.3L449.4 222ZM427.3 220.8L425.4 221.3L425.5 220ZM279.2 219L281.1 218.2L281.2 219.5ZM303.2 216.9L305 216.1L305.1 217.4ZM327 214.2L328.8 213.2L329 214.5ZM448.2 219.1L446.3 219.6L446.4 218.3ZM424.3 217.8L422.3 218.3L422.4 217ZM282.3 215L284.1 214.2L284.2 215.5ZM306.2 213.5L308.1 212.7L308.2 214ZM330.1 211.2L331.9 210.3L332.1 211.6ZM456.2 215.6L454.3 216.2L454.3 214.9ZM432.2 215L430.3 215.7L430.3 214.4ZM285.3 211L287.2 210.2L287.2 211.5ZM309.3 210.1L311.1 209.3L311.2 210.6ZM453.2 211.6L451.3 212.2L451.3 210.9ZM429.2 211.8L427.3 212.4L427.3 211.1ZM277.3 207L279.2 206.3L279.2 207.6ZM301.3 206.7L303.2 206L303.2 207.3ZM450.2 207.4L448.3 208.1L448.3 206.8ZM426.2 208.5L424.4 209.2L424.3 207.9ZM280.3 202.4L282.2 201.8L282.2 203.1ZM304.3 203L306.2 202.4L306.2 203.7ZM458.2 202.7L456.3 203.4L456.3 202.1ZM434.3 204.2L432.4 205L432.3 203.7ZM283.3 197.8L285.2 197.3L285.1 198.6ZM307.2 199.3L309.2 198.7L309.1 200ZM455.2 198L453.4 198.8L453.3 197.5ZM431.4 200.5L429.5 201.3L429.4 200.1ZM286.2 193.2L288.2 192.8L288.1 194.1ZM310.1 195.6L312.1 195.1L312 196.4ZM452.3 193.4L450.5 194.2L450.3 192.9ZM428.5 196.7L426.7 197.7L426.5 196.4ZM278.2 187.4L280.2 186.9L280.1 188.2ZM302.1 190.3L304 189.9L303.8 191.2ZM449.4 188.6L447.6 189.5L447.4 188.3ZM425.8 192.9L424 193.9L423.8 192.7ZM281.2 182.2L283.1 181.9L282.9 183.1ZM304.8 186.2L306.8 185.9L306.6 187.2ZM457.3 181.9L455.5 182.8L455.4 181.5ZM433.8 186.5L432.1 187.5L431.8 186.3ZM410.6 192.7L409 193.8L408.6 192.6ZM284 177L286 176.7L285.8 178ZM307.5 182.1L309.5 182L309.1 183.2ZM454.4 176.4L452.7 177.5L452.4 176.2ZM431.1 182L429.5 183.2L429.1 181.9ZM408.3 189.4L406.7 190.7L406.3 189.4ZM276.1 169.3L278.1 169L277.8 170.3ZM299.4 174.9L301.4 174.8L301 176.1ZM451.6 170.9L449.9 172L449.6 170.7ZM428.6 177.5L427 178.7L426.6 177.5ZM406.2 186.1L404.7 187.5L404.2 186.3ZM278.9 163.3L280.9 163.2L280.6 164.4ZM301.9 170.2L303.9 170.1L303.5 171.4ZM448.9 165.2L447.2 166.4L446.9 165.1ZM426.2 172.9L424.6 174.2L424.1 173ZM404.2 182.6L402.8 184L402.2 182.9ZM281.7 157.2L283.7 157.2L283.2 158.4ZM304.2 165.3L306.2 165.4L305.7 166.7ZM456.7 156.1L455.1 157.3L454.7 156ZM434 163.9L432.5 165.2L432 164ZM412.2 173.8L410.8 175.3L410.2 174.1ZM391.1 185.3L389.7 186.8L389.1 185.6ZM284.3 151L286.3 151L285.8 152.2ZM306.3 160.4L308.3 160.6L307.8 161.8ZM454 149.6L452.4 150.8L452 149.5ZM431.7 158.4L430.3 159.8L429.7 158.7ZM410.4 169.5L409.1 171L408.4 169.9ZM390.1 182.3L388.8 183.8L388.1 182.6ZM276.6 140.5L278.6 140.6L278.1 141.8ZM298.6 150L300.6 150.3L300 151.5ZM319.5 161.7L321.4 162.3L320.7 163.4ZM451.4 142.8L449.8 144.1L449.3 142.9ZM429.6 152.8L428.1 154.3L427.6 153.1ZM408.8 165L407.6 166.5L406.9 165.4ZM389.3 178.8L388.1 180.5L387.3 179.4ZM279.2 133.2L281.2 133.4L280.7 134.6ZM300.6 143.9L302.6 144.4L301.9 145.5ZM320.8 157L322.7 157.6L321.9 158.7ZM459 131.6L457.5 132.9L457 131.7ZM437.1 141.5L435.8 143L435.2 141.9ZM416.5 153.8L415.3 155.4L414.6 154.3ZM397.2 168L396.1 169.7L395.3 168.7ZM281.7 125.8L283.7 126L283.1 127.2ZM302.5 137.6L304.5 138.1L303.7 139.2ZM321.8 151.8L323.7 152.6L322.9 153.6ZM456.4 123.9L454.9 125.2L454.4 124.1ZM435 134.8L433.8 136.4L433.1 135.3ZM415.1 148.2L413.9 149.8L413.2 148.8ZM396.6 163.4L395.6 165.2L394.7 164.2ZM284.1 117.9L286 118.3L285.4 119.4ZM304.2 130.9L306.1 131.5L305.4 132.6ZM322.7 146.2L324.5 147L323.6 148ZM453.9 115.8L452.4 117.2L451.9 116.1ZM433.1 127.8L431.9 129.4L431.2 128.4ZM413.9 142.2L412.8 143.9L412 142.9ZM396.1 158.3L395.2 160.1L394.3 159.2ZM276.8 104.3L278.8 104.7L278.1 105.8ZM297.1 117L299 117.6L298.3 118.6ZM315.6 132.3L317.4 133.2L316.5 134.1ZM332.1 149.7L333.8 150.7L332.9 151.5ZM451.4 107.4L450.1 108.9L449.5 107.8ZM431.3 120.4L430.2 122.1L429.4 121ZM412.8 135.7L411.8 137.4L411 136.5ZM395.9 152.7L395.1 154.5L394.1 153.7ZM279.2 95.3L281.1 95.7L280.4 96.8ZM298.9 108.9L300.8 109.6L299.9 110.6ZM316.5 125.2L318.3 126.1L317.3 127ZM332.2 143.3L333.9 144.4L332.9 145.2ZM458.7 93.1L457.3 94.5L456.7 93.4ZM438.4 105.8L437.2 107.5L436.5 106.4ZM419.9 121L418.9 122.8L418 121.9ZM403 138.1L402.2 140L401.2 139.1ZM387.9 156.8L387.3 158.7L386.2 157.9ZM281.4 85.8L283.4 86.3L282.6 87.4ZM300.5 100.3L302.4 101.1L301.5 102.1ZM317.4 117.3L319.1 118.4L318.1 119.2ZM332.2 136.3L333.8 137.4L332.7 138.2ZM344.7 156.7L346.1 158.1L345 158.7ZM456.3 83.3L455 84.9L454.3 83.8ZM436.6 97L435.4 98.7L434.7 97.7ZM418.8 113.1L417.9 114.9L417 114ZM402.7 130.9L402 132.8L401 132ZM388.4 150.2L387.9 152.1L386.8 151.4ZM274.5 69.7L276.4 70.2L275.7 71.2ZM293.9 83.8L295.7 84.5L294.9 85.5ZM311.1 100.5L312.8 101.5L311.9 102.3ZM325.9 119.3L327.6 120.5L326.5 121.3ZM338.8 139.5L340.3 140.9L339.2 141.5ZM349.2 161.2L350.6 162.7L349.3 163.2ZM454 73.2L452.8 74.8L452 73.7ZM434.9 87.7L433.8 89.4L433 88.4ZM417.8 104.5L417 106.4L416 105.5ZM402.6 123.1L402 125L400.9 124.2ZM389 142.9L388.6 144.9L387.5 144.2ZM377.2 163.8L377 165.8L375.8 165.2ZM276.8 58.8L278.8 59.3L278 60.4ZM295.6 73.7L297.4 74.5L296.5 75.5ZM312.1 91L313.8 92.1L312.8 92.9ZM326.2 110.5L327.8 111.7L326.7 112.4ZM338.3 131.2L339.7 132.6L338.6 133.2ZM348.3 153L349.6 154.5L348.4 155ZM451.8 62.5L450.6 64.2L449.9 63.1ZM433.3 77.7L432.4 79.5L431.5 78.6ZM416.9 95.3L416.2 97.2L415.2 96.3ZM402.5 114.5L402 116.4L400.9 115.7ZM389.7 134.8L389.4 136.8L388.3 136.1ZM378.7 156.1L378.5 158.1L377.3 157.5ZM362.4 56.2L363.1 58.1L361.8 58.1ZM362.7 80.2L363.4 82.1L362.1 82.1ZM363 104.2L363.6 106.1L362.3 106.1ZM363 128.2L363.6 130.1L362.3 130.1ZM362.9 152.2L363.5 154.1L362.2 154.1ZM371.5 52.2L372 54.1L370.7 54ZM369.8 76.1L370.3 78L369 78ZM368.1 100L368.6 102L367.3 101.9ZM366.5 124L367 125.9L365.7 125.8ZM365 147.9L365.5 149.9L364.2 149.8ZM354 59L354.9 60.8L353.6 61ZM356.5 82.9L357.3 84.7L356 84.8ZM358.5 106.8L359.3 108.7L358 108.7ZM360.1 130.7L360.9 132.6L359.6 132.7ZM361.2 154.7L361.9 156.6L360.6 156.6ZM380.1 54.9L380.4 56.9L379.1 56.7ZM376.3 78.6L376.6 80.6L375.3 80.4ZM372.8 102.4L373.2 104.3L371.9 104.1ZM369.7 126.1L370.1 128.1L368.8 127.9ZM366.8 150L367.2 151.9L365.9 151.8ZM342.9 50.7L343.9 52.4L342.7 52.7ZM348.1 74.1L349.1 75.9L347.8 76.1ZM352.4 97.7L353.3 99.5L352 99.7ZM355.9 121.5L356.8 123.3L355.5 123.4ZM358.7 145.3L359.5 147.1L358.2 147.3ZM389.1 57.3L389.2 59.3L388 58.9ZM383 80.5L383.2 82.5L381.9 82.2ZM377.7 103.9L377.9 105.9L376.6 105.6ZM372.9 127.4L373.1 129.4L371.9 129.1ZM368.7 151L369 153L367.7 152.8ZM332 52.8L333.3 54.3L332.1 54.8ZM340 75.4L341.2 77L339.9 77.4ZM346.6 98.5L347.7 100.2L346.4 100.5ZM352 121.9L353 123.6L351.7 123.8ZM356.3 145.5L357.2 147.2L355.9 147.4ZM403.6 48.9L403.3 50.9L402.2 50.3ZM394.3 71L394.3 73L393.1 72.6ZM386.4 93.7L386.4 95.7L385.2 95.3ZM379.5 116.6L379.6 118.6L378.3 118.3ZM373.4 139.9L373.6 141.9L372.4 141.6ZM368.2 163.3L368.5 165.3L367.2 165ZM319.2 53.9L320.8 55.2L319.7 55.9ZM330.3 75.2L331.7 76.6L330.5 77.2ZM339.4 97.4L340.7 99L339.5 99.4ZM347 120.2L348.1 121.8L346.9 122.2ZM353.2 143.3L354.2 145.1L353 145.3ZM416.9 50.2L416.4 52.1L415.3 51.4ZM404.7 70.8L404.4 72.8L403.2 72.2ZM394.3 92.5L394.1 94.5L392.9 93.9ZM385.2 114.7L385.2 116.7L384 116.3ZM377.4 137.4L377.4 139.4L376.2 139ZM370.6 160.4L370.7 162.4L369.5 162ZM303.2 53.6L304.9 54.6L303.9 55.5ZM317.6 72.8L319.2 74L318.1 74.7ZM329.7 93.5L331.2 94.9L330 95.5ZM339.8 115.3L341.1 116.8L339.9 117.3ZM348.2 137.7L349.4 139.3L348.2 139.7ZM354.7 160.8L355.8 162.5L354.5 162.8ZM433.6 50.3L432.8 52.1L431.9 51.3ZM418.2 68.7L417.6 70.6L416.6 69.8ZM405 88.7L404.6 90.7L403.5 90ZM393.6 109.8L393.3 111.8L392.2 111.2ZM383.6 131.6L383.4 133.6L382.2 133.1ZM375 154L374.9 156L373.7 155.6Z"/>
<path class="sl" stroke-width="0.7" d="M368.6 189.2Q383.3 197.9 393.7 211.7M367.9 190.1Q382.7 198.6 393.2 212.2M367.1 190.9Q382.2 199.3 392.8 212.8M366.4 191.8Q381.6 200 392.3 213.3"/><path class="sl2" d="M367.3 213.5C370.8 224.1 389.2 224.8 393.5 214.5M367.3 213.5C371 220.2 389.3 220.9 393.5 214.5M367.3 213.5C371.1 216.8 389.4 217.5 393.5 214.5M367.3 213.5C371.3 211 389.7 211.7 393.5 214.5M367.3 213.5C371.5 207.9 389.8 208.6 393.5 214.5M367.3 213.5C371.6 204.2 389.9 204.9 393.5 214.5"/><path class="sl2" d="M341.5 189.5C352 185.8 368.6 201.9 365.3 212.5M341.5 189.5C348.5 189.4 365.2 205.5 365.3 212.5M341.5 189.5C345.1 192.9 361.7 209.1 365.3 212.5M341.5 189.5C341.6 196.5 358.3 212.6 365.3 212.5"/><g fill="#0b0b0b" fill-opacity="0.6"><ellipse cx="340.7" cy="187.5" rx="1.9" ry="1.6"/><circle cx="341.2" cy="189.9" r="0.9"/><circle cx="342.7" cy="186.5" r="1.2"/><circle cx="340.9" cy="185.5" r="0.9"/><circle cx="341.2" cy="188.6" r="1.3"/><circle cx="339.2" cy="188" r="1.4"/><circle cx="340.4" cy="189.3" r="0.9"/><circle cx="339" cy="186" r="1.2"/><circle cx="340.5" cy="189.1" r="0.9"/><circle cx="340" cy="188.7" r="0.8"/><circle cx="343.6" cy="186.9" r="0.9"/><circle cx="342.4" cy="187.7" r="1.3"/><circle cx="340.9" cy="186.4" r="1.2"/></g><g fill="#0b0b0b" fill-opacity="0.75"><ellipse cx="365.5" cy="188.5" rx="2.9" ry="1.8"/><circle cx="367.9" cy="187.3" r="1.4"/><circle cx="367.7" cy="188.9" r="1.2"/><circle cx="362.3" cy="188.1" r="1"/><circle cx="363.1" cy="187" r="1.3"/><circle cx="361.8" cy="188.2" r="1.2"/><circle cx="369.7" cy="188.3" r="1"/><circle cx="368.5" cy="186.6" r="0.7"/><circle cx="364.7" cy="185.9" r="1.3"/><circle cx="364.6" cy="186.3" r="0.8"/><circle cx="368.6" cy="188" r="0.9"/><circle cx="364.6" cy="185.7" r="0.9"/><circle cx="363.7" cy="186.4" r="1.3"/><circle cx="368.3" cy="187.8" r="0.9"/><circle cx="362.2" cy="190" r="1.3"/><circle cx="361.7" cy="190.1" r="1.1"/><circle cx="362.7" cy="190.3" r="0.8"/></g><path class="sl2" d="M368.3 213.5L374.8 213M368.2 214L374 216.7M367.9 214.4L371.1 219.4M367.5 214.6L368.6 219.2M367.1 214.6L366.1 220.3M366.7 214.4L362.4 219.4M366.4 214.1L362.2 216.2M366.3 213.6L359.5 213.9M366.4 213.2L361.1 211M366.7 212.8L364.1 208.9M367.1 212.6L365.7 205.8M367.5 212.6L368.5 206.8M368 212.9L371.3 209.3M368.2 213.2L374 210.4"/><path class="sl2" d="M395.3 214.6L401.1 215M395.2 215L399.4 217.4M395 215.3L397.5 218.1M394.5 215.5L395.6 220M394.1 215.5L393 220.2M393.7 215.3L390.5 219.1M393.4 214.9L388.5 217M393.3 214.5L388.6 214.4M393.4 214.1L388 211.8M393.7 213.7L390.9 210.5M394 213.5L392.3 207.9M394.5 213.5L395.2 209.1M394.9 213.7L397.3 210.1M395.2 214L400.3 211.5"/><g fill="#2a0000" fill-opacity="0.75"><ellipse cx="367.3" cy="213.6" rx="2.1" ry="1.7"/><circle cx="370" cy="214.8" r="1.1"/><circle cx="366.7" cy="210.9" r="1.1"/><circle cx="365.7" cy="213.6" r="0.9"/><circle cx="364.4" cy="213.6" r="1.3"/><circle cx="366.2" cy="214.5" r="0.9"/><circle cx="368.9" cy="212.7" r="1.1"/><circle cx="368.6" cy="213.1" r="1.2"/><circle cx="369.2" cy="213.1" r="1.1"/><circle cx="368.8" cy="212.8" r="1.1"/><circle cx="367.3" cy="211.2" r="1.1"/><circle cx="368" cy="215.6" r="1"/><circle cx="365" cy="213.9" r="1.4"/></g><g fill="#2a0000" fill-opacity="0.75"><ellipse cx="394.3" cy="214.5" rx="1.7" ry="1.7"/><circle cx="396.2" cy="212.5" r="1.4"/><circle cx="392.7" cy="214.2" r="0.7"/><circle cx="392.5" cy="215.3" r="1.1"/><circle cx="392.1" cy="214.8" r="1.1"/><circle cx="394.5" cy="212.1" r="1.2"/><circle cx="392.7" cy="215.3" r="1.5"/><circle cx="393.5" cy="215.9" r="0.8"/><circle cx="395.7" cy="214.3" r="1"/><circle cx="395.8" cy="215.2" r="1"/><circle cx="395.8" cy="213.4" r="1.5"/><circle cx="396.1" cy="214.8" r="1"/><circle cx="394.5" cy="211.8" r="1"/></g>
</g>
<rect class="fr" x="263.1" y="37" width="208.3" height="189.4"/>
<line class="tk" x1="304.8" x2="304.8" y1="226.4" y2="223.2"/>
<line class="tk" x1="263.1" x2="266.3" y1="188.5" y2="188.5"/>
<line class="tk" x1="346.4" x2="346.4" y1="226.4" y2="223.2"/>
<line class="tk" x1="263.1" x2="266.3" y1="150.6" y2="150.6"/>
<line class="tk" x1="388.1" x2="388.1" y1="226.4" y2="223.2"/>
<line class="tk" x1="263.1" x2="266.3" y1="112.8" y2="112.8"/>
<line class="tk" x1="429.7" x2="429.7" y1="226.4" y2="223.2"/>
<line class="tk" x1="263.1" x2="266.3" y1="74.9" y2="74.9"/>
<line x1="262.7" x2="471.8" y1="226.6" y2="226.6" stroke="#000" stroke-opacity=".88" stroke-width="1.6"/>
<clipPath id="cpc"><rect x="42.6" y="304.8" width="201.8" height="184.6"/></clipPath>
<g clip-path="url(#cpc)">
<rect x="42.6" y="304.8" width="201.8" height="184.6" fill="#0000ff"/>
<path fill="#0040ff" d="M132.6 350.8L138.1 350.5 144.6 350.5 150.1 350.8 155.1 351.4 160.1 352.3 164.6 353.4 169.1 354.8 174.1 356.8 179.1 359.3 183.4 361.8 187.7 364.8 192.1 368.3 196.1 372 199.6 375.6 203.6 380.3 206.6 384.3 209.6 388.8 212.6 393.8 215.6 399.4 218.6 405.8 221.1 412 223.1 417.6 226.6 429.6 228.1 436.1 229.6 443.8 230.6 450.3 231.6 458.5 232.7 473.8 233 491.3 49.4 491.3 49.6 475.8 50.5 461.8 52.1 448.3 54.1 437 57.1 424.8 60.6 413.9 62.6 408.7 65.1 402.9 67.6 397.8 70.6 392.4 73.1 388.3 76.6 383.2 79.6 379.3 83.1 375.3 86.5 371.8 89.7 368.8 94 365.3 97.6 362.7 101.6 360.2 106.1 357.8 110.6 355.8 114.6 354.4 118.6 353.2 123.1 352.1 127.6 351.3 132.6 350.8Z"/>
<path fill="#0080ff" d="M131.1 380.6L137.6 380 142.6 380 151.1 380.6 156.6 381.5 160.6 382.5 165.1 384 169.1 385.6 176.1 389.1 180.1 391.6 184.1 394.5 187.1 396.9 191.1 400.5 194.3 403.8 197.3 407.3 200.8 411.8 203.9 416.3 208.8 424.8 211.4 430.3 213.3 434.8 216.8 444.8 218.4 450.3 219.8 456.3 221.7 467.8 222.7 479.3 223 491.3 56.7 491.3 56.9 480.3 57.8 469.3 59.4 459.3 61.9 448.8 64.9 439.3 68.9 429.8 73.3 421.3 77.8 414.3 82.8 407.8 89.1 401.1 93.1 397.4 96.1 395 102.6 390.6 106.1 388.6 110.1 386.6 117.6 383.6 121.1 382.5 125.6 381.5 131.1 380.6Z"/>
<path fill="#00bfff" d="M132.8 401.8L136.1 401.5 140.1 401.3 147.6 401.6 151.1 402.1 155.6 403 159.1 404 163.6 405.6 167.1 407.1 171.1 409.2 175.1 411.5 178.1 413.6 184.1 418.5 189.9 424.3 192.9 427.8 195.9 431.8 200.4 438.8 204.3 446.3 207.9 455.3 210.4 463.8 212.3 473.3 213.3 482.3 213.5 491.3 63 491.3 63.2 483.3 64 475.3 65.4 467.8 67.8 458.8 70.9 450.8 74.3 443.8 77.8 437.8 82.4 431.3 88 424.8 93.1 419.9 98.6 415.5 104.6 411.5 111.1 408 118.6 405 125.6 403 132.8 401.8Z"/>
<path fill="#00ffff" d="M132.7 417.3L139.1 416.8 146.6 417 153.1 418.1 156.6 419 160.1 420.1 166.6 423 172.6 426.5 178.6 431 183.6 435.8 187.9 440.8 192.4 447.3 196 453.8 199 460.8 201.3 468.3 202.8 475.3 203.8 483.3 204 491.3 69.3 491.3 69.5 484.3 70.2 477.8 71.4 471.8 73.4 465.3 75.8 459.3 78.8 453.3 82.3 447.8 86.9 441.8 91.6 436.8 96.6 432.4 101.1 429.1 107.1 425.4 113.1 422.5 119.6 420.1 125.6 418.5 132.7 417.3Z"/>
<path fill="#00ffbf" d="M134.8 427.3L141.6 427 147.6 427.4 153.1 428.4 158.1 430 164.1 432.6 169.1 435.5 174.1 439.2 178.6 443.4 182.9 448.3 186.4 453.3 189.7 459.3 192.3 465.3 194.4 471.8 195.7 478.3 196.5 484.8 196.6 491.3 75.6 491.3 75.7 485.3 76.4 479.8 77.8 473.3 79.5 468.3 81.8 462.8 84.3 458.3 87.7 453.3 91.8 448.3 96.1 444.1 101.1 440 105.6 437 111.1 433.9 116.6 431.5 122.6 429.5 129.1 428 134.8 427.3Z"/>
<path fill="#00ff80" d="M134.9 435.8L140.1 435.5 145.1 435.7 150.6 436.5 155.6 438 160.6 440.1 165.1 442.6 169.1 445.5 173.6 449.5 177.3 453.8 180.8 458.8 183.3 463.3 185.5 468.3 187.3 473.8 188.5 479.3 189.2 485.3 189.3 491.3 81.5 491.3 81.6 485.8 82.3 480.8 83.4 475.8 85 471.3 87.3 466.3 89.9 461.8 92.8 457.8 96.1 454.1 99.6 450.7 104.1 447.2 108.1 444.5 113.6 441.6 118.6 439.5 124.6 437.6 129.6 436.5 134.9 435.8Z"/>
<path fill="#00ff40" d="M135.1 442.8L140.1 442.5 144.6 442.6 149.6 443.4 153.6 444.6 158.1 446.5 161.6 448.4 165.1 450.9 169.1 454.5 172.5 458.3 175.3 462.3 177.8 466.8 179.8 471.3 181.2 475.8 182.3 480.8 182.9 485.8 183 491.3 87.2 491.3 87.3 486.8 87.8 482.3 88.9 477.8 90.3 473.8 92.4 469.3 94.9 465.3 97.5 461.8 100.3 458.8 103.1 456.1 107.1 453 111.1 450.4 115.6 448.1 120.6 446 125.1 444.6 130.1 443.5 135.1 442.8Z"/>
<path fill="#00ff00" d="M135.3 448.3L139.6 448 143.6 448.1 147.1 448.6 151.1 449.6 154.6 451.1 158.1 453 161.6 455.5 165.1 458.8 168 462.3 170.3 465.8 172.4 469.8 173.8 473.3 174.9 476.8 175.9 481.3 176.5 485.8 176.6 491.3 92.5 491.3 92.5 487.8 92.9 483.8 93.8 479.8 95.2 475.8 96.8 472.3 98.9 468.8 101.2 465.8 104.1 462.6 107.1 459.8 110.1 457.5 114.1 455 118.1 452.9 121.6 451.5 126.1 450 130.6 449 135.3 448.3Z"/>
<path fill="#40ff00" d="M135.5 453.3L139.6 453 143.1 453.1 146.6 453.6 149.6 454.4 153.1 455.9 156.6 458 159.1 460 161.4 462.3 163.9 465.3 165.9 468.3 167.5 471.3 168.9 474.8 169.9 477.8 170.9 482.3 171.4 486.8 171.4 491.3 97 491.3 97 487.8 97.4 484.3 98.4 480.3 99.2 477.8 100.9 474.3 102.8 471.3 104.3 469.3 107.1 466.2 110.1 463.5 112.6 461.6 116.6 459.1 119.6 457.6 123.6 456 126.6 455 130.6 454 135.5 453.3Z"/>
<path fill="#80ff00" d="M137.2 457.8L141.6 457.7 144.6 457.9 147.6 458.4 150.6 459.3 153.6 460.6 156.1 462.1 158.6 464.1 160.6 466.1 162.3 468.3 163.8 470.8 165.2 473.8 166.1 476.8 166.7 479.8 166.9 482.3 167 491.3 101.3 491.3 101.3 482.8 101.7 480.3 102.3 477.8 103.3 475.3 104.8 472.8 106.2 470.8 108.6 468.3 110.6 466.6 113.6 464.5 117.1 462.6 120.6 461.1 124.1 459.9 128.1 458.9 133.1 458.1 137.2 457.8Z"/>
<path fill="#bfff00" d="M127.1 463.1L132.6 462.5 137.1 462.3 142.6 462.3 145.6 462.6 148.1 463 151.6 464.1 154.6 465.6 157.1 467.3 159.1 469.3 160.5 471.3 161.5 473.3 162.4 475.8 162.8 477.8 163 480.3 163 491.3 105 491.3 105 480.8 105.2 478.3 105.6 476.7 106.4 474.8 108.3 471.8 110.1 470 112.1 468.5 116.6 466 119.1 465 122.6 464 127.1 463.1Z"/>
<path fill="#ffff00" d="M127.1 465.8L130.6 465.5 135.1 465.3 141.1 465.3 144.6 465.6 147.6 466.1 150.6 467 152.6 468 154.6 469.3 156.1 470.8 157.2 472.3 158 473.8 158.5 475.8 158.8 478.8 158.8 491.3 108.9 491.3 108.9 477.8 109.4 475.3 110.7 472.8 112.1 471.3 113.6 470 117.1 468.2 122.1 466.6 127.1 465.8Z"/>
<path fill="#ffbf00" d="M127.8 467.8L138.1 467.6 144.6 468 147.1 468.5 149.1 469.1 151.1 470 152.6 471.1 153.8 472.3 154.5 473.3 154.9 474.3 155.5 476.3 155.6 491.3 111.5 491.3 111.6 477.3 112.1 474.9 113 473.3 113.8 472.3 115.1 471.2 116.6 470.3 118.6 469.5 122.6 468.4 127.8 467.8Z"/>
<path fill="#ff8000" d="M127 469.8L136.6 469.6 142.6 469.9 145.5 470.3 147.3 470.8 148.6 471.3 150.3 472.3 152.1 474.3 152.6 475.5 152.8 476.8 153 491.3 114.5 491.3 114.5 477.8 114.6 476.2 115.1 474.8 116.2 473.3 117.5 472.3 119.5 471.3 123 470.3 127 469.8Z"/>
<path fill="#ff4000" d="M134.1 472.9L137.6 472 140.1 471.8 143.1 472.2 145.7 473.3 147 474.3 147.8 475.3 148.4 476.3 148.9 477.8 148.9 480.3 148 482.8 147.1 484.1 146.1 485 144.6 486 143.1 486.6 141.1 487 138.6 486.9 136.6 486.6 133.6 485.5 131.6 484.1 130.3 482.8 129.4 481.3 128.9 479.3 129.2 477.3 129.7 476.3 132.1 474 134.1 472.9Z"/>
<path fill="#ff0000" d="M139.3 474.3L141.1 474.1 142.6 474.3 143.7 474.8 145.1 476.3 145.6 478.3 145.1 480.2 143.7 481.8 142.7 482.3 141.1 482.5 139.1 482.3 137.6 481.2 136.7 479.8 136.4 478.8 136.4 477.8 136.9 476.3 138.1 475 139.3 474.3Z"/>
<path class="sl" d="M42.9 487.2L102.2 482.1 113.2 480.4 115.2 479.7 116.5 479.1M244.1 487.2L175.9 480.2 149.4 477.7M42.9 483.9L76.4 481.6 93.2 480.7 103 480.3 112 479.2 115.5 478.5M244.1 483.9L188.3 479.2 175 478.2 154.8 477.1M42.9 480.6L59 479.7 76.5 478.9 94 478.5 105.1 478.4 115.6 477.6M244.1 480.6L203.6 477.8 176.3 476.4 156 475.9 149 476.1M42.9 477.3L61.1 476.6 78.6 476.3 94.7 476.3 105.2 476.8 115.7 476.9M244.1 477.3L214.7 475.7 195.2 474.9 174.2 474.4 163 474.6M42.9 474L63.2 473.5 84.2 473.8 100.3 474.5 105.8 475.1 112.8 475.6 115.6 476.1M244.1 474L222.4 473.1 202.8 472.6 186.7 472.4 174.8 472.4 167.8 472.6 158.1 473.4 153.2 473.9 147.7 474.9M42.9 470.7L56.9 470.5 65.3 470.6 78.6 471 91.2 471.7 102.3 472.7 113.4 474.6 115.4 475.1 116.7 475.7M244.1 470.7L211.9 470 201.4 470 186 470.2 172.7 470.6 167.1 470.9 158.8 471.9 154 472.7M42.9 467.3L56.9 467.4 66 467.7 79.3 468.4 92.5 469.5 103.6 471 113.2 473.3 115.8 474.2 117.1 474.8M244.1 467.3L221.7 467.2 201.4 467.4 185.3 467.9 173.4 468.6 166.5 469.2 158.2 470.6 152.7 471.9 146.7 473.9M42.9 464L58.3 464.3 69.5 464.9 83.4 466.2 96.6 467.8 104.2 469.1 109.6 470.6 115.5 472.8 117.4 473.7 119.8 475.2M244.1 464L220.3 464.2 197.9 465 184.6 465.7 173.5 466.7 165.8 467.5 161 468.4M42.9 460.6L57.6 461.2 68.1 461.9 82 463.4 95.1 465.3 100.7 466.3 106.1 467.5 109.5 468.6 112.7 469.9 120.8 474 123.5 474.6 127.7 475M244.1 460.6L221 461.2 202.1 462.1 184 463.6 171.5 464.9 164.5 466 157.1 467.8 153.8 469 151.2 470.1 145.6 473.1M42.9 457.3L57.6 458.1 68.7 459 82.6 460.8 96.4 463.2 102.6 464.5 108 466 113.2 468.1 115.6 469.5 119.1 471.8 121 472.6 123.7 473.5 127.8 474.2M244.1 457.3L225.2 458 210.5 458.9 198 459.8 182 461.5 170.2 463.2 163.3 464.4 156.6 466.4 151.5 468.6M42.9 453.9L57.6 454.9 69.4 456.2 83.9 458.4 97.7 461.1 104.4 462.8 109.8 464.5 112.4 465.6 115.5 467.2 121.2 471.2 124.5 472.5 129.9 473.7M244.1 453.9L221.7 455.1 202.9 456.8 183.4 459.1 169.6 461.3 162.1 462.9 158.1 464.2 154.8 465.4 152.3 466.7 149.9 468.1 147.7 469.8 145 472M42.9 450.4L57.5 451.7 69.4 453.2 81.1 455.2 93.4 457.7 102.9 460.2 110.9 462.8 114.1 464.2 116.5 465.6 118.9 467.1 121 468.9M244.1 450.4L219 452.3 207.1 453.5 195.3 455 180.1 457.3 171.8 458.9 162.3 461 157 462.8M42.9 447L58.9 448.7 72.1 450.6 79.6 452.1 87.1 453.7 94.6 455.5 101.4 457.4 108.7 459.8 112.6 461.3 114.5 462.2 119.4 465 121.6 466.6 124.8 469.4 125.9 470.3 128.4 471.5 131.7 472.7M244.1 447L221.1 449 201 451.6 192 453 179.6 455.2 172 456.7 165.9 458.2 158.5 460.4 154.6 462 151.6 463.6 149.3 465.3 147.2 467.2 145.4 469.3 143.3 472.1M42.9 443.5L58.9 445.4 72.7 447.8 80.9 449.5 88.4 451.3 101.2 455 110.4 458.2 114.9 460.1 117.4 461.4 122.2 464.4 124.3 466.2 127.9 469.5 129.7 470.7M244.1 443.5L225.3 445.4 208.7 447.7 194.1 450 177 453.4 165.4 456.3 157.4 458.9 154.2 460.3 151.2 462 149.5 463.2 147.4 465.1M42.9 439.9L59.5 442.3 74 445 82.8 447.1 90.3 449.1 98.3 451.6 104.3 453.6 113.4 457.2 117.2 459 120.2 460.7 124.8 463.9 127 465.7 130.9 469.6 132.6 470.9 134.4 472M244.1 439.9L221.9 442.7 201.8 445.9 192.2 447.8 179.9 450.5 171.1 452.7 163.7 454.8 159.7 456.1 155.8 457.6 152 459.5 149.1 461.5 147.1 463.4 145.4 465.6 144 468 142.6 471.2M42.9 436.3L56 438.3 68.4 440.7 80.7 443.7 92.1 447 103.4 450.8 107.9 452.6 113.1 454.8 119.4 457.8 122.9 460.1 125.8 462.1M244.1 436.3L229.5 438.3 217.1 440.3 203.3 442.8 191 445.4 175.4 449.3 165.9 452 160.6 453.7 156.7 455.2 153.5 456.7 151.1 458M42.9 432.7L51.9 434.1 60.1 435.7 68.3 437.5 76.5 439.5 86.6 442.5 94.6 445.1 102.5 447.9 109 450.5 115.3 453.4 119.7 455.7 122.7 457.5 126.1 459.8 129.4 462.5 130.4 463.5 132.2 465.6 135.6 470.1 137 471.7M244.1 432.7L232.3 434.4 222 436.2 211.7 438.2 200.7 440.5 189.1 443.3 175.6 446.9 165.6 449.9 159 452.3 155.1 453.9 151.3 455.7 148.4 457.6 146.2 459.4 144.6 461.7 143.4 464.2 142.4 467.5 141.5 471.7M42.9 429L58.7 432 66.9 433.9 74.3 435.9 88.4 440.2 97 443.2 104.1 446 111.2 449.1 115 450.9 119.4 453.1 124.2 455.9 127.6 458.4 130.8 461.1 132.2 462.6 134.3 465.5M244.1 429L223.4 432.6 213.1 434.7 203.6 436.9 186.6 441.3 172.6 445.5 164.6 448.1 160 449.8 154.8 451.9 149.8 454.4 146.8 456.2 145.2 457.6 144 459.3 143.1 461.2 142.3 463.9M42.9 425.2L52.5 427.1 61.4 429.1 70.2 431.4 80.2 434.5 90.2 437.9 98.6 441.2 107.7 444.9 114.7 448.2 120.9 451.5 125 454 127.9 456 131.1 458.7 133.1 460.7 134.7 463 136.1 465.4 138.6 471.2M244.1 425.2L232.4 427.3 221.4 429.6 210.5 432.2 198.3 435.3 186.2 438.8 169.6 444.1 160.3 447.4 155.2 449.6 145.8 454.3 144 455.5 143.1 456.5 142.3 458.4 141.6 461.9 141.1 466.7 140.9 470.9M42.9 421.3L55.9 424.2 68 427.5 81.4 431.7 93.2 436.1 108 442.5 118 447.4 123.5 450.5 127.1 452.8 129.9 454.8 133 457.6M244.1 421.3L231.8 423.8 220.8 426.3 210 429.1 197.2 432.7 184.5 436.7 163.3 444 155.5 447.2 145.5 452.1 144.1 452.5 142.8 452.6 142.1 452.5 141.8 451.9M42.9 417.3L53.1 419.7 62.6 422.3 71.9 425.2 82.5 429 94.2 433.6 103.2 437.6 112.6 442.1 120.7 446.3 126.1 449.5 130.2 452.3 133.5 454.9 135.9 457.4 137 459.2 138.1 461.8 138.9 465.2 139.9 471.4M244.1 417.3L231.1 420.2 219.6 423.1 208.1 426.4 194.8 430.6 182.2 434.8 158.6 443.6 153.4 445.8 146 449.8 144.1 450.6M42.9 413.3L51.7 415.5 60.5 418 69.1 420.8 78.3 424.1 86.2 427.2 97.1 431.9 106.6 436.5 115.9 441.1 123.3 445.1 127.5 447.7 132.7 451.3 137 454.8 138.4 456.4 139.2 458.4 139.6 460.4 139.9 463.9M244.1 413.3L231.2 416.4 219 419.7 207.6 423.2 193.1 428.2 180.6 432.8 153.9 443.2 149.5 445.4 143.7 449.3M42.9 409.1L53 411.8 62.4 414.8 72.3 418.3 82.7 422.5 89.1 425.3 99.9 430.3 117.9 439.6 127.1 444.7 136.9 451.5 138.7 452.5 140.6 453.3 141.2 453.7 141.2 455.8 140.7 466.3 140.7 471.2M244.1 409.1L230.6 412.6 218.5 416.2 206.5 420.2 191.4 425.8 150.5 442.3 148.7 443.3 147 444.5 145.4 445.9 143.1 448.5M42.9 404.8L54.3 408.1 64.9 411.8 76.6 416.4 89.4 422.2 101.9 428.4 126 441.3 130.8 444.2 138 449.7 139.3 450.3 140.6 450.7M244.1 404.8L234.6 407.4 225.9 410 218 412.6 208.7 415.9 189.9 423.4 162.9 435 153 438.7M42.9 400.4L54.3 403.9 65.4 408 77 412.9 89.6 419 103.9 426.5 117.9 434.4 131.5 441.7 133.2 442.8 134.9 444.1 139.9 449M244.1 400.4L235.4 402.9 227.4 405.5 220.1 408 212.2 410.9 203.1 414.6 193.5 418.7 167.4 430.7 161 433.5 155.1 435.7 145.7 438.6 144 439.8 143.5 440.3 142.9 441.5 142.1 444.9 141.8 449.1M42.9 395.8L54.9 399.7 65.9 404.1 78.7 409.9 91.7 416.7 101.5 422.2 120.2 433.1 132.1 439.2 135.1 440.9 136.7 442.2 137.7 443.2 138.9 445 140.9 448.7M244.1 395.8L228.8 400.7 214.4 406.2 204.7 410.3 195.2 414.6 185.1 419.5 166.9 428.5 161.2 431.2 157.3 432.8 154 433.9 150.6 434.8 147.8 435.1M42.9 391L51.5 394 59.3 397 67.1 400.3 75.2 404.3 83.9 408.8 93.7 414.3 116.4 428.2 122.4 431.7 127.4 434.3 135.7 437.9 137.6 438.9 139.2 440.2 140.2 442.1 140.7 444.1 141.4 448.2M244.1 391L234.8 394.1 225.6 397.5 217.2 400.9 208.8 404.6 200.6 408.5 191.9 412.9 164 427.6 157 430.8 152.4 432.3 150.3 432.7 148.2 432.9 146.8 432.8 145.5 432.5 144.2 431.8 143.3 430.8M42.9 386L52.1 389.4 60.5 392.9 68.1 396.4 76.8 400.9 84.1 405.1 91.4 409.4 100.3 414.9 118.4 426.8 123.8 430 127.5 432M244.1 386L234.9 389.3 225.7 392.9 216.7 396.8 208.5 400.7 193 408.7 164.4 425 158.2 428.2M42.9 380.9L52 384.4 60.4 388 68.5 392 76.5 396.4 84.9 401.5 93.8 407.1 120.9 425.8 124.4 428 128.8 430.3 131.3 431.4 134 432.3 136.1 432.6 138.2 432.6 139.5 432.2 140.7 431.5 141.6 430.4 142.3 428.4M244.1 380.9L234.3 384.6 225.2 388.4 216.3 392.5 207.6 396.9 200.2 400.9 192.3 405.4 163.1 423.4 157 426.8 152.4 428.6 149.1 429.5 146.3 429.6 144.9 429.3 143.6 428.6M42.9 375.4L51.3 378.9 59.6 382.6 67.7 386.8 75.6 391.3 84.5 396.9 93.7 403.2 123.1 424.8 126 426.7 129.1 428.3 131.6 429.5 133.6 430.2M244.1 375.4L234.4 379.4 224.8 383.6 216 388 207.3 392.6 198.3 397.9 189.4 403.5 160.2 422.9 156 425.3 152.2 427.1M42.9 369.8L51.3 373.3 58.9 376.9 66.3 380.9 73.5 385.1 82.9 391.3 93.1 398.7 103 406.4 117.7 418.3 122.7 422.1 126.2 424.5 129.7 426.7 133.6 428.4 136.3 429.2 137.7 429.3 139.1 429.2M244.1 369.8L234.4 373.9 225.6 378 216.9 382.5 208.3 387.4 198.8 393.3 188.9 399.9 179.2 406.8 164.6 417.6 157.7 422.4 154.7 424.2 151.6 425.8 149 426.8 147 427.3M42.9 363.7L52.5 368.1 61.8 372.9 70.2 377.9 79 383.7 86.9 389.5 95.7 396.4 104.8 404.1 119 416.5 127.2 423.1M244.1 363.7L233.3 368.7 223.3 373.7 213.5 379.2 204.6 384.8 195.4 391.1 186.3 397.7 176.9 405 162.7 416.4 157.2 420.7M42.9 357.4L51.8 361.6 60.4 366.2 68.8 371.3 76.9 376.8 86.3 384 96 392.1 105.3 400.6 121 415.5 127.9 421.5 131.3 424 134.3 425.7 137.6 427 140.3 427.4M244.1 357.4L233.4 362.5 223.5 367.8 213.9 373.5 204.5 379.7 194.9 386.7 185 394.5 175.4 402.7 160.2 416.1 154.2 421 151.4 423 149 424.5 146.5 425.7 144.5 426.4M42.9 350.6L53.5 355.9 63.2 361.6 72.5 367.8 81.5 374.6 88.9 380.9 97.2 388.5 106.7 397.8 124.2 415.9 129.3 420.7 133.2 423.7M244.1 350.6L232.2 356.7 221.3 362.9 211.3 369.4 201.1 376.8 191.8 384.2 182.3 392.5 172.6 401.5 158 415.6 153.3 419.9 150.6 422.1M42.9 343.4L53.4 348.9 58.9 352.1 63.6 355.1 72.8 361.6 82 369 90.8 377 100.7 387 109.2 396.2 124 413 129.8 419.1 132.4 421.5 134.6 423.2 136.9 424.8 138.8 425.7M244.1 343.4L231.8 350 220.4 357 210.1 364.1 199.6 372.3 191.1 379.6 181.9 388.2 171.6 398.7 154.3 417.1 149.8 421.4 146 424.5M42.9 335.7L48.5 338.6 53.9 341.7 59.3 345 64.5 348.5 69.6 352.2 74.6 356.1 79.4 360.2 84.1 364.4 93 373.3 102.4 383.6 109.7 392.2 125 411.3 130 417.2M244.1 335.7L231.9 342.5 226 346.2 220.1 350.1 209.4 358 204 362.4 198.7 367 188.5 376.5 178.3 387.1 168.5 398.1 153.6 415.8M42.9 327.3L49 330.7 54.4 333.9 60.3 337.8 65.4 341.4 70.4 345.2 75.8 349.7 80.5 353.9 85.5 358.8 89.9 363.4 94.6 368.5 104.4 380.4 112.9 391.5 127.6 411.9 132.4 418 134.7 420.6 136.7 422.6 138.9 424.4 141.2 426M244.1 327.3L237.4 331.1 230.9 335.2 224.5 339.5 218.2 344 212.1 348.7 206.7 353.1 201 358.2 195.4 363.5 185.7 373.6 175.5 385.2 165.9 397.2 149.8 418.4 147.2 421.6 143.8 425.2M42.9 318.2L49.6 322.1 55.5 325.8 61.2 329.8 66.8 334 72.2 338.5 77.4 343.1 82.4 348 87.7 353.6 91.9 358.3 96.4 363.7 101.1 369.8 106.1 376.6 114.8 389.3 129.7 412.2 135.5 420M244.1 318.2L236.9 322.6 230.5 326.8 224.2 331.2 218 335.9 212.1 340.7 206.3 345.8 200.7 351.1 194.8 357.1 189.6 362.7 184.1 369.1 178.8 375.6 173.2 382.8 163.4 396.4 148.2 419.1M140.2 305.1L140.4 358.3 140.7 389.1 141.2 409.4 141.5 416.4 142 422.7M146.8 305.1L144.5 342.8 142.8 380.6 142 406.5 142 415.6 142.2 422.6M133.7 305.1L135.7 334.4 139.1 392.4 140.5 411.3M153.3 305.1L149.9 331.5 146.7 360.7 144.2 389.3 142.7 411.6M127.1 305.1L129.5 321.7 131.8 340.5 139.3 408 140.8 418.4 142.3 425.9M159.9 305.1L156.9 319.5 154.1 334.6 151.4 350.5 148.6 368.5 146.4 385.1 144.4 401.1 143.1 415.1 142.5 424.8M120.2 305.1L124.2 322.9 128 342.8 131.8 365.6 138 405.7 140.2 417.4M166.8 305.1L163.2 317.2 159.8 330.1 156.6 343.7 153.4 358 150.2 374.5 147.4 389.7 145.1 404.2 143.3 417.4M113.2 305.1L116 313.8 118.7 323.2 121.4 333.3 124 343.5 129.4 368.1 137.8 409.3 139.7 417.4 141.3 422.8M173.8 305.1L169.1 317.5 164.6 330.8 160.5 344.2 156.5 359 152.2 376 148.5 392.4 145.3 408.9 143 422.7M105.9 305.1L109.6 314.2 113.3 324 117 334.6 120.5 345.9 123.8 357.4 127.2 370.2 137.7 412.3M181.1 305.1L176 315.9 171.1 327.4 166.5 339.2 162.1 351.7 157.7 365.7 153.3 380.5 149 396.8 145.5 411.7M98.2 305.1L103.1 314.4 107.5 323.9 111.9 334.2 116.1 345.4 120.3 357.3 124.8 371.2 136.9 412.2 139.4 419.5 142.1 425.9M188.8 305.1L182.2 316.6 175.8 329.1 169.7 342.5 164 356.8 158 373.2 152.5 389.8 147.4 407.3 142.8 424.9M90.2 305.1L96.2 314.5 101.8 324.3 107.1 334.9 112.6 347 117.1 358 122 371.1 126.5 383.7 135 408.9 138.4 418.1M196.8 305.1L189.3 316.1 182.3 327.4 175.6 339.7 169.5 352.3 163.1 367.1 156.9 382.7 150.8 399.8 145 417.8M81.8 305.1L89.1 314.5 95.7 324.4 102.2 335.2 108.4 347 113.2 357.1 118.5 369.3 124 382.9 135.1 411.6 138.2 418.7 140.4 423.1M205.2 305.1L200.7 310.5 196.4 316 192.2 321.6 188.3 327.4 184.4 333.2 180.4 339.8 176.6 346.5 173 353.3 165.5 368.3 158.4 384.3 151.4 401.9 143.7 422.9M72.9 305.1L76.8 309.1 81 313.8 85 318.7 88.9 323.6 92.6 328.7 96.5 334.5 103.5 345.9 109.8 357.6 116.9 372 122.7 384.8 134.9 413.1M214.1 305.1L209.2 310.1 204.4 315.2 199.9 320.5 195.5 326 191.2 331.6 187.2 337.3 183.3 343.1 179.1 349.6 175.2 356.2 171.1 363.5 163.4 378.4 156 394.3 148.3 412.3M63.5 305.1L68.2 309.2 73.3 314 77.8 318.5 82.5 323.7 87 329.1 91.2 334.6 95.3 340.3 99.2 346.1 105.5 356.2 112.3 368.5 119.9 383.4 134.1 413.1 137.8 419.9 141.3 425.1M223.5 305.1L217.7 310.2 212.1 315.4 206.7 320.9 201.5 326.6 196.4 332.4 191.2 339 186.6 345.1 181.8 352 177.6 358.5 172.5 366.8 167.9 374.7 163.6 382.7 155.1 399.6 143.2 425M53.5 305.1L59.7 309.6 65.2 314 70.4 318.6 75.5 323.4 80.4 328.4 85.5 334.2 90 339.6 94.6 345.7 98.7 351.4 102.9 357.8 111.2 371.6 119 385.7 132.2 411.2 136.7 419.1M233.5 305.1L226.8 310.1 220.8 315 214.5 320.5 208.9 325.8 203.5 331.3 197.8 337.5 192.8 343.3 187.6 349.9 182.6 356.7 177.9 363.6 172.9 371.2 167.8 379.6 163.2 387.4 158.5 396 146.8 418.4"/>
<path class="ar" d="M55.8 486.1L57.6 485.3L57.7 486.6ZM79.7 484L81.5 483.2L81.6 484.5ZM224.3 485.2L222.3 485.6L222.5 484.3ZM200.4 482.7L198.5 483.2L198.6 481.9ZM176.6 480.3L174.6 480.7L174.7 479.4ZM58.8 482.8L60.6 482L60.7 483.3ZM82.7 481.2L84.6 480.5L84.6 481.8ZM221.3 482L219.3 482.5L219.4 481.2ZM197.4 479.9L195.4 480.4L195.5 479.1ZM173.4 478.1L171.5 478.7L171.6 477.4ZM61.8 479.5L63.6 478.8L63.7 480.1ZM85.8 478.7L87.6 478L87.7 479.3ZM229.2 479.6L227.3 480.1L227.4 478.8ZM205.3 477.9L203.4 478.4L203.4 477.1ZM181.3 476.6L179.4 477.2L179.5 475.9ZM64.8 476.5L66.7 475.8L66.7 477.1ZM88.8 476.3L90.7 475.7L90.7 477ZM226.2 476.3L224.3 476.9L224.4 475.6ZM202.3 475.2L200.3 475.8L200.4 474.5ZM178.3 474.5L176.3 475.1L176.4 473.8ZM56.8 473.7L58.7 473L58.7 474.3ZM80.8 473.7L82.7 473.1L82.7 474.4ZM223.2 473.2L221.3 473.8L221.3 472.5ZM199.2 472.5L197.3 473.2L197.3 471.9ZM175.2 472.4L173.3 473.1L173.3 471.8ZM59.8 470.5L61.7 469.9L61.7 471.2ZM83.8 471.3L85.7 470.8L85.6 472.1ZM231.2 470.4L229.3 471L229.3 469.7ZM207.2 470L205.3 470.6L205.3 469.3ZM183.2 470.2L181.3 471L181.3 469.7ZM62.8 467.6L64.7 467L64.7 468.3ZM86.7 469L88.7 468.6L88.6 469.9ZM228.2 467.2L226.3 467.9L226.3 466.6ZM204.2 467.4L202.3 468L202.3 466.7ZM180.2 468.2L178.4 469L178.3 467.7ZM65.8 464.7L67.7 464.2L67.6 465.5ZM89.7 466.9L91.6 466.5L91.5 467.8ZM225.2 464.2L223.3 464.8L223.3 463.5ZM201.2 464.8L199.3 465.6L199.3 464.3ZM177.3 466.4L175.4 467.2L175.3 465.9ZM57.8 461.2L59.7 460.7L59.6 462ZM81.7 463.4L83.7 463L83.5 464.3ZM222.2 461.2L220.3 461.9L220.3 460.6ZM198.2 462.4L196.4 463.2L196.3 461.9ZM174.3 464.6L172.5 465.5L172.4 464.2ZM60.8 458.3L62.7 457.9L62.6 459.2ZM84.6 461.2L86.6 460.9L86.4 462.1ZM230.2 457.8L228.3 458.5L228.3 457.2ZM206.3 459.2L204.4 460L204.3 458.7ZM182.4 461.5L180.6 462.4L180.4 461.1ZM63.7 455.6L65.7 455.1L65.5 456.4ZM87.5 459.1L89.4 458.8L89.2 460.1ZM227.2 454.8L225.4 455.6L225.3 454.3ZM203.3 456.7L201.5 457.6L201.3 456.3ZM179.5 459.7L177.7 460.7L177.5 459.4ZM55.8 451.6L57.7 451.1L57.6 452.4ZM79.5 454.9L81.5 454.6L81.3 455.9ZM224.3 451.9L222.4 452.7L222.3 451.4ZM200.4 454.4L198.6 455.3L198.4 454ZM176.7 458L174.9 458.9L174.7 457.7ZM58.7 448.6L60.7 448.3L60.5 449.6ZM82.4 452.7L84.4 452.4L84.1 453.7ZM221.3 449L219.5 449.9L219.3 448.6ZM197.5 452.1L195.7 453L195.5 451.8ZM173.9 456.3L172.1 457.4L171.9 456.1ZM61.6 445.9L63.6 445.6L63.4 446.8ZM85.2 450.6L87.2 450.4L86.9 451.6ZM229.3 445L227.5 445.9L227.3 444.6ZM205.5 448.2L203.7 449.1L203.5 447.8ZM181.9 452.5L180.1 453.5L179.9 452.2ZM64.5 443.2L66.5 442.9L66.3 444.2ZM87.9 448.5L89.9 448.4L89.6 449.6ZM226.3 442.1L224.5 443L224.4 441.7ZM202.6 445.8L200.9 446.8L200.6 445.5ZM179.1 450.7L177.4 451.8L177.1 450.5ZM56.6 438.4L58.6 438.2L58.4 439.4ZM80.1 443.5L82.1 443.4L81.7 444.7ZM103 450.7L105 450.7L104.5 452ZM223.4 439.3L221.6 440.2L221.4 438.9ZM199.8 443.6L198.1 444.6L197.8 443.3ZM176.4 449L174.8 450.1L174.4 448.9ZM59.5 435.6L61.5 435.3L61.3 436.6ZM82.8 441.4L84.8 441.3L84.5 442.5ZM105.5 449.2L107.5 449.3L107 450.5ZM231.3 434.6L229.6 435.6L229.4 434.3ZM207.8 439L206 440L205.8 438.8ZM184.4 444.5L182.7 445.7L182.4 444.4ZM62.4 432.8L64.4 432.6L64.1 433.9ZM85.5 439.3L87.5 439.2L87.1 440.5ZM108 447.7L110 447.8L109.5 449ZM228.4 431.7L226.7 432.7L226.5 431.4ZM205 436.6L203.2 437.7L203 436.4ZM181.8 442.8L180.1 443.9L179.7 442.7ZM65.2 430.1L67.3 430L66.9 431.3ZM88.2 437.2L90.2 437.2L89.8 438.4ZM110.4 446.2L112.4 446.4L111.9 447.6ZM225.5 428.7L223.8 429.8L223.5 428.5ZM202.2 434.3L200.5 435.4L200.2 434.2ZM179.2 441.1L177.6 442.2L177.2 441ZM57.4 424.6L59.4 424.4L59.1 425.7ZM80.4 431.4L82.4 431.4L82 432.7ZM102.7 440.2L104.7 440.4L104.2 441.6ZM222.7 425.9L221 426.9L220.7 425.7ZM199.5 432.1L197.9 433.2L197.5 432ZM176.7 439.4L175.1 440.7L174.7 439.4ZM60.3 421.7L62.3 421.5L61.9 422.8ZM83 429.2L85.1 429.3L84.6 430.5ZM105.1 438.5L107.1 438.8L106.6 439.9ZM230.5 420.4L228.8 421.5L228.5 420.2ZM207.4 426.6L205.7 427.8L205.4 426.6ZM184.5 434L183 435.3L182.5 434ZM63 418.8L65.1 418.8L64.7 420ZM85.6 427L87.6 427.1L87.1 428.3ZM107.5 436.9L109.4 437.2L108.9 438.3ZM227.7 417.3L226 418.5L225.7 417.2ZM204.7 424.2L203.1 425.4L202.7 424.2ZM182.1 432.2L180.5 433.5L180.1 432.3ZM55.3 412.6L57.3 412.5L56.9 413.7ZM77.9 420.6L79.9 420.7L79.4 421.9ZM99.9 430.3L101.8 430.6L101.3 431.8ZM224.9 414.3L223.3 415.5L222.9 414.2ZM202.1 421.8L200.6 423.1L200.1 421.9ZM179.7 430.5L178.2 431.8L177.7 430.6ZM58.1 409.4L60.1 409.4L59.7 410.7ZM80.4 418.2L82.4 418.3L81.9 419.5ZM102.1 428.5L104.1 428.8L103.5 430ZM222.1 411.3L220.5 412.5L220.1 411.2ZM199.6 419.5L198.1 420.9L197.6 419.6ZM177.5 428.8L176 430.1L175.5 428.9ZM60.8 406.3L62.8 406.3L62.4 407.6ZM82.9 415.7L84.9 416L84.3 417.2ZM104.2 426.7L106.2 427.1L105.6 428.2ZM229.8 404.7L228.2 405.9L227.8 404.6ZM207.3 412.9L205.8 414.2L205.3 413ZM185.3 422.5L183.9 423.9L183.3 422.7ZM63.5 403.1L65.5 403.2L65 404.4ZM85.2 413.3L87.2 413.6L86.6 414.8ZM106.2 424.9L108.2 425.3L107.6 426.4ZM227.1 401.4L225.6 402.7L225.1 401.4ZM204.8 410.2L203.3 411.6L202.8 410.4ZM183.1 420.5L181.7 421.9L181.1 420.7ZM56 395.7L58 395.8L57.5 397ZM77.8 405.6L79.8 405.9L79.2 407.1ZM98.7 417.4L100.7 417.8L100 419ZM224.4 398L222.9 399.3L222.4 398.1ZM202.4 407.6L201 409L200.4 407.8ZM181.1 418.6L179.7 420L179.1 418.9ZM58.7 392.1L60.7 392.2L60.2 393.4ZM80.1 402.8L82.1 403.2L81.5 404.3ZM100.7 415.2L102.6 415.7L101.9 416.8ZM232 390.5L230.5 391.8L230 390.6ZM210 400L208.5 401.4L208 400.2ZM188.7 411.2L187.4 412.7L186.8 411.5ZM167.9 423.1L166.5 424.6L165.9 423.4ZM61.3 388.5L63.3 388.7L62.7 389.9ZM82.4 399.9L84.3 400.3L83.7 401.5ZM102.4 413.1L104.3 413.6L103.6 414.7ZM229.3 386.7L227.8 388L227.3 386.8ZM207.6 396.9L206.2 398.4L205.6 397.2ZM186.8 408.8L185.5 410.4L184.8 409.3ZM63.8 384.8L65.8 385.1L65.2 386.2ZM84.5 396.9L86.4 397.5L85.7 398.5ZM104 410.8L106 411.4L105.2 412.5ZM226.7 382.8L225.2 384.2L224.7 383ZM205.4 393.8L204 395.3L203.4 394.2ZM185 406.4L183.7 408L183 406.9ZM56.5 375.8L58.5 376L57.9 377.2ZM77.3 387.7L79.3 388.2L78.6 389.3ZM96.9 401.6L98.8 402.3L98 403.3ZM115.6 416.6L117.5 417.3L116.7 418.3ZM224.2 378.8L222.8 380.2L222.2 379.1ZM203.2 390.5L202 392.1L201.3 391ZM183.3 403.9L182.1 405.5L181.4 404.4ZM59 371.5L61 371.8L60.4 372.9ZM79.5 384L81.4 384.6L80.6 385.7ZM98.4 398.7L100.3 399.5L99.5 400.4ZM116.6 414.4L118.5 415.2L117.6 416.1ZM231.5 369.6L230.1 371L229.5 369.8ZM210.5 381.1L209.2 382.7L208.5 381.6ZM190.6 394.6L189.4 396.2L188.7 395.2ZM171.6 409.3L170.6 411L169.7 410ZM61.5 366.9L63.5 367.3L62.8 368.4ZM81.4 380.3L83.3 380.9L82.5 381.9ZM99.8 395.6L101.7 396.4L100.8 397.4ZM117.3 412L119.2 412.9L118.3 413.8ZM229 364.9L227.6 366.4L227 365.2ZM208.4 377.2L207.1 378.8L206.4 377.7ZM189 391.4L187.9 393.1L187.1 392ZM170.7 406.8L169.7 408.6L168.8 407.6ZM54.4 356.5L56.4 356.8L55.7 358ZM74.6 369.4L76.5 370L75.7 371ZM93.1 384.7L94.9 385.5L94 386.5ZM110.2 401.5L112 402.4L111.1 403.3ZM226.5 359.9L225.2 361.5L224.6 360.3ZM206.4 373L205.2 374.6L204.5 373.5ZM187.6 387.9L186.6 389.6L185.7 388.6ZM169.9 404.1L169 405.9L168.1 405ZM56.9 350.9L58.9 351.4L58.2 352.5ZM76.6 364.6L78.5 365.3L77.7 366.3ZM94.4 380.7L96.2 381.6L95.3 382.5ZM110.9 398.1L112.6 399.1L111.7 400ZM224.2 354.7L222.9 356.2L222.2 355.1ZM204.5 368.4L203.4 370.1L202.6 369.1ZM186.3 384.1L185.4 385.9L184.5 384.9ZM169.4 401L168.5 402.9L167.6 402ZM59.3 345L61.2 345.6L60.5 346.6ZM78.5 359.4L80.4 360.1L79.5 361.1ZM95.7 376.2L97.4 377.1L96.4 378ZM111.4 394.3L113.1 395.4L112 396.2ZM231.1 343L229.9 344.6L229.2 343.5ZM211.4 356.6L210.2 358.2L209.4 357.2ZM193.1 372.2L192.2 373.9L191.3 373ZM176.3 389.3L175.6 391.1L174.6 390.3ZM160.6 407.4L159.9 409.3L158.9 408.5ZM61.6 338.7L63.5 339.2L62.8 340.3ZM80.3 353.7L82.1 354.6L81.2 355.5ZM96.7 371.2L98.4 372.2L97.4 373ZM111.7 389.9L113.3 391.1L112.3 391.8ZM228.8 336.6L227.6 338.2L226.9 337.1ZM209.5 350.8L208.4 352.5L207.6 351.5ZM191.9 367.1L191 368.9L190.1 368ZM175.8 384.9L175.1 386.8L174.1 386ZM160.9 403.7L160.3 405.7L159.3 404.9ZM54.8 325.4L56.8 325.9L56 327ZM73.9 339.9L75.7 340.7L74.8 341.7ZM90.7 357L92.5 358L91.5 358.8ZM105.6 375.8L107.2 377L106.1 377.8ZM119 395.7L120.6 397L119.5 397.7ZM226.6 329.6L225.4 331.2L224.6 330.1ZM207.8 344.5L206.8 346.2L205.9 345.3ZM190.8 361.4L190 363.2L189 362.4ZM175.5 379.9L174.8 381.8L173.8 381ZM161.5 399.4L160.9 401.3L159.9 400.6ZM140.3 322L140.9 323.9L139.6 323.9ZM140.3 346L141 347.9L139.7 347.9ZM140.5 370L141.1 371.9L139.8 371.9ZM140.8 394L141.5 395.9L140.2 395.9ZM146 318L146.5 319.9L145.2 319.8ZM144.6 341.9L145.1 343.9L143.8 343.8ZM143.5 365.9L144 367.8L142.7 367.8ZM142.5 389.9L143.1 391.8L141.8 391.8ZM135 325L135.8 326.8L134.5 326.9ZM136.5 348.9L137.3 350.8L136 350.8ZM137.9 372.9L138.7 374.7L137.4 374.8ZM139.4 396.8L140.2 398.7L138.9 398.8ZM151.3 320.9L151.7 322.8L150.4 322.7ZM148.5 344.7L148.9 346.7L147.6 346.5ZM146 368.6L146.5 370.5L145.2 370.4ZM143.9 392.5L144.5 394.4L143.2 394.3ZM130.2 327.8L131.1 329.6L129.8 329.7ZM133.1 351.6L133.9 353.4L132.6 353.6ZM135.7 375.5L136.6 377.3L135.3 377.4ZM138.4 399.3L139.2 401.1L137.9 401.3ZM156.1 323.6L156.4 325.6L155.2 325.4ZM151.9 347.2L152.3 349.2L151 349ZM148.3 371L148.7 372.9L147.4 372.8ZM145.2 394.8L145.6 396.7L144.3 396.6ZM123.5 319.6L124.5 321.4L123.2 321.6ZM128 343.2L129 345L127.7 345.2ZM132 366.9L132.9 368.7L131.6 368.9ZM135.7 390.6L136.6 392.4L135.3 392.6ZM160.9 326.2L161 328.2L159.7 327.9ZM155.3 349.5L155.5 351.5L154.3 351.3ZM150.5 373L150.7 375L149.5 374.8ZM146.3 396.7L146.7 398.7L145.4 398.5ZM118.5 322.2L119.6 323.9L118.3 324.2ZM124.4 345.5L125.5 347.2L124.2 347.5ZM129.6 368.9L130.6 370.6L129.3 370.9ZM134.4 392.4L135.4 394.1L134.1 394.4ZM168.9 318.1L168.9 320.1L167.7 319.7ZM161.5 340.9L161.6 343L160.4 342.6ZM155.2 364.1L155.4 366.1L154.1 365.8ZM149.7 387.4L149.9 389.4L148.6 389.2ZM113.5 324.5L114.7 326.1L113.5 326.6ZM120.9 347.4L122 349L120.8 349.4ZM127.3 370.5L128.4 372.2L127.1 372.5ZM133.1 393.8L134.2 395.5L132.9 395.8ZM174.1 320.5L173.9 322.5L172.7 321.9ZM165.3 342.8L165.3 344.8L164 344.4ZM157.7 365.5L157.8 367.6L156.5 367.2ZM151.2 388.6L151.3 390.6L150.1 390.3ZM104.1 316.6L105.5 318L104.3 318.6ZM113.6 338.6L114.9 340.2L113.6 340.6ZM121.6 361.3L122.8 362.9L121.5 363.3ZM128.6 384.2L129.8 385.8L128.5 386.2ZM179.2 322.5L178.9 324.5L177.7 323.9ZM169 344.3L168.9 346.3L167.7 345.8ZM160.4 366.6L160.3 368.7L159.1 368.2ZM152.7 389.4L152.8 391.4L151.5 391ZM98.6 318.6L100.1 320L98.9 320.6ZM109.4 340L110.8 341.5L109.6 342ZM118.6 362.2L119.9 363.7L118.7 364.2ZM126.8 384.7L128 386.3L126.8 386.7ZM184.2 324.3L183.8 326.2L182.7 325.5ZM172.9 345.4L172.6 347.4L171.5 346.8ZM163 367.3L162.9 369.3L161.7 368.8ZM154.4 389.7L154.4 391.7L153.2 391.2ZM93 320.3L94.6 321.5L93.5 322.3ZM105.2 341L106.7 342.3L105.5 342.9ZM115.6 362.6L116.9 364.1L115.7 364.6ZM124.7 384.8L126 386.3L124.8 386.8ZM195.9 316.7L195.2 318.6L194.2 317.8ZM182.4 336.6L182 338.5L180.9 337.9ZM170.8 357.6L170.6 359.6L169.4 359ZM160.6 379.3L160.5 381.3L159.3 380.8ZM151.5 401.5L151.5 403.5L150.3 403.1ZM87.3 321.6L89 322.7L88 323.5ZM100.8 341.4L102.3 342.7L101.2 343.4ZM112.2 362.5L113.7 363.9L112.5 364.5ZM122.4 384.2L123.8 385.7L122.6 386.2ZM201.9 318.2L201.1 320.1L200.2 319.2ZM187.2 337.2L186.7 339.1L185.6 338.4ZM174.5 357.5L174.1 359.5L173 358.8ZM163.3 378.7L163.1 380.7L161.9 380.2ZM153.3 400.6L153.2 402.6L152 402.1ZM73.8 314.4L75.6 315.3L74.6 316.3ZM89.6 332.5L91.3 333.6L90.2 334.4ZM103.1 352.3L104.6 353.6L103.5 354.3ZM114.7 373.3L116.2 374.7L115 375.3ZM125.3 394.8L126.7 396.2L125.6 396.8ZM208.2 319.3L207.3 321.1L206.4 320.2ZM192.4 337.4L191.8 339.3L190.7 338.5ZM178.6 357L178.1 358.9L177 358.2ZM166.4 377.6L166 379.6L164.9 379ZM155.4 399L155.2 401L154 400.4ZM66.8 315.4L68.7 316.2L67.8 317.2ZM83.8 332.3L85.6 333.3L84.6 334.2ZM98.6 351.3L100.1 352.5L99.1 353.2ZM111.2 371.6L112.7 373L111.6 373.6ZM122.6 392.8L124.1 394.1L122.9 394.7ZM223.3 313L222.3 314.7L221.4 313.7ZM205.6 329.1L204.7 331L203.8 330ZM189.8 347.2L189.1 349.1L188.1 348.3ZM175.8 366.7L175.3 368.6L174.3 367.9ZM163.3 387.2L163 389.1L161.8 388.5Z"/>
<path class="sv" d="M143 425.2Q177.1 370.4 208.6 313.9M143.2 425.3Q174.4 376.1 203.1 325.4M143.5 425.5Q168.8 386.1 192.2 345.4M143.8 425.7Q179.5 371 212.5 314.6M144 425.8Q177.4 375.4 208.4 323.5"/><g fill="#000" fill-opacity="0.55"><circle cx="144.3" cy="423.7" r="0.7"/><circle cx="154.8" cy="408.2" r="0.5"/><circle cx="196.7" cy="335.3" r="0.5"/><circle cx="167.4" cy="389.7" r="0.8"/><circle cx="210.2" cy="319.2" r="0.6"/><circle cx="161" cy="398.9" r="0.6"/><circle cx="198.9" cy="339.7" r="0.8"/><circle cx="167.1" cy="386.1" r="0.6"/><circle cx="153" cy="409.9" r="0.7"/><circle cx="169.2" cy="382.8" r="0.8"/><circle cx="186.4" cy="359.4" r="0.6"/><circle cx="176.1" cy="374.6" r="0.6"/><circle cx="161.4" cy="398.9" r="0.7"/><circle cx="201.4" cy="331.1" r="0.8"/><circle cx="198.8" cy="338.5" r="0.8"/><circle cx="182.5" cy="362.5" r="0.6"/><circle cx="192.3" cy="343.2" r="0.6"/><circle cx="150.9" cy="414.3" r="0.8"/><circle cx="156.3" cy="406.7" r="0.8"/><circle cx="178.9" cy="366.8" r="0.8"/><circle cx="165.1" cy="392.7" r="0.7"/><circle cx="199" cy="337.4" r="0.5"/><circle cx="149.1" cy="418" r="0.6"/><circle cx="157.8" cy="400.8" r="0.7"/><circle cx="193.9" cy="347.7" r="0.5"/><circle cx="196" cy="337.1" r="0.6"/><circle cx="159" cy="401.4" r="0.7"/><circle cx="169" cy="385.2" r="0.9"/><circle cx="150.9" cy="412.7" r="0.8"/><circle cx="154.7" cy="408.7" r="0.9"/><circle cx="145.4" cy="423.4" r="0.5"/><circle cx="167.3" cy="387.5" r="0.8"/><circle cx="188.1" cy="349.5" r="0.5"/><circle cx="175.4" cy="376" r="0.5"/><circle cx="174.5" cy="373.7" r="0.7"/><circle cx="211.7" cy="317.7" r="0.8"/><circle cx="165.2" cy="393.5" r="0.8"/><circle cx="144" cy="425.3" r="0.7"/><circle cx="165.1" cy="390.9" r="0.6"/><circle cx="153.8" cy="410.4" r="0.8"/><circle cx="148.3" cy="418.9" r="0.8"/><circle cx="185.2" cy="356.2" r="0.6"/><circle cx="153.6" cy="411.2" r="0.9"/><circle cx="174.7" cy="373.1" r="0.5"/><circle cx="157.1" cy="402.4" r="0.7"/><circle cx="151.4" cy="411.6" r="0.5"/><circle cx="155.8" cy="406.9" r="0.6"/><circle cx="168.1" cy="385.5" r="0.5"/><circle cx="145.1" cy="422.2" r="0.5"/><circle cx="145.2" cy="423.7" r="0.7"/><circle cx="153.4" cy="411.2" r="0.6"/><circle cx="148.9" cy="416.5" r="0.8"/><circle cx="152.8" cy="409.9" r="0.8"/><circle cx="170.3" cy="384.4" r="0.9"/><circle cx="152.9" cy="411" r="0.5"/><circle cx="209.6" cy="320.9" r="0.7"/><circle cx="150.2" cy="416.6" r="0.5"/><circle cx="162.5" cy="397.7" r="0.6"/><circle cx="191.6" cy="352.1" r="0.8"/><circle cx="155.2" cy="409.1" r="0.6"/><circle cx="205" cy="320.7" r="0.9"/><circle cx="186.1" cy="352.9" r="0.7"/><circle cx="150.6" cy="414.5" r="0.7"/><circle cx="146.5" cy="421.9" r="0.9"/><circle cx="173.2" cy="377.5" r="0.7"/><circle cx="159.9" cy="400.1" r="0.6"/><circle cx="148" cy="419.6" r="0.6"/><circle cx="145.2" cy="421.4" r="0.7"/><circle cx="147" cy="420.8" r="0.5"/><circle cx="143.2" cy="424.8" r="0.8"/><circle cx="184.2" cy="363.1" r="0.8"/><circle cx="150.6" cy="414.4" r="0.7"/><circle cx="153.6" cy="409.2" r="0.6"/><circle cx="145.9" cy="422.5" r="0.8"/><circle cx="143.4" cy="424.9" r="0.6"/><circle cx="191.1" cy="348.7" r="0.7"/><circle cx="152.4" cy="411.9" r="0.8"/><circle cx="208.8" cy="312.7" r="0.7"/><circle cx="144.8" cy="424.4" r="0.7"/><circle cx="159.3" cy="399.7" r="0.5"/><circle cx="203.2" cy="332.6" r="0.9"/><circle cx="201.4" cy="326" r="0.8"/><circle cx="145" cy="424.5" r="0.8"/><circle cx="202.3" cy="332.4" r="0.9"/><circle cx="188" cy="357.4" r="0.5"/><circle cx="182.3" cy="366.1" r="0.8"/><circle cx="144.3" cy="424.1" r="0.7"/><circle cx="150.2" cy="414.7" r="0.8"/><circle cx="210.6" cy="317.4" r="0.9"/><circle cx="147.2" cy="419.6" r="0.5"/><circle cx="148.7" cy="417.5" r="0.8"/><circle cx="152.9" cy="411.3" r="0.8"/><circle cx="187.8" cy="354.7" r="0.8"/><circle cx="156.1" cy="406.2" r="0.8"/><circle cx="143.8" cy="423.7" r="0.6"/><circle cx="192.6" cy="345.5" r="0.8"/><circle cx="153.4" cy="409.1" r="0.8"/><circle cx="158.7" cy="401.6" r="0.8"/><circle cx="155.1" cy="405" r="0.7"/><circle cx="156.8" cy="404.3" r="0.6"/><circle cx="178.9" cy="368.8" r="0.8"/><circle cx="157.2" cy="402.7" r="0.7"/><circle cx="190.6" cy="353.4" r="0.6"/><circle cx="144.8" cy="423.2" r="0.8"/><circle cx="175.5" cy="376.3" r="0.7"/><circle cx="156.2" cy="406" r="0.8"/><circle cx="175.4" cy="371.2" r="0.6"/><circle cx="163.2" cy="393.5" r="0.5"/><circle cx="179" cy="365" r="0.7"/><circle cx="143.9" cy="424.3" r="0.9"/><circle cx="204.7" cy="324.6" r="0.5"/><circle cx="208.9" cy="323.6" r="0.6"/><circle cx="144.1" cy="423.5" r="0.9"/><circle cx="145.2" cy="422.6" r="0.6"/><circle cx="149.8" cy="414.2" r="0.5"/><circle cx="148.2" cy="418.5" r="0.6"/><circle cx="182.9" cy="361.9" r="0.8"/><circle cx="148.6" cy="416.6" r="0.9"/><circle cx="203.2" cy="329" r="0.9"/><circle cx="199.9" cy="337.6" r="0.7"/><circle cx="146.5" cy="421.3" r="0.9"/><circle cx="162.7" cy="395.4" r="0.5"/><circle cx="155.1" cy="405.7" r="0.9"/><circle cx="213.6" cy="315.1" r="0.8"/><circle cx="169.5" cy="383.5" r="0.6"/><circle cx="185.9" cy="353.3" r="0.8"/><circle cx="158.3" cy="401.3" r="0.8"/><circle cx="165.1" cy="393.6" r="0.7"/><circle cx="200.3" cy="333.4" r="0.9"/><circle cx="151.6" cy="412" r="0.9"/></g><path class="sk" stroke-width="0.55" d="M143.1 425.2Q156.1 403.9 169.2 382.5M143.5 425.5Q156.8 404.2 170 383M143.9 425.8Q157.4 404.6 170.8 383.5"/><path class="sv" d="M138.8 427Q111.1 397.8 88.6 365M139.1 426.8Q116.3 401.6 97.9 373.2M139.4 426.6Q116.4 399.9 98 369.9M139.6 426.4Q123.6 406.7 110.8 384.7M139.9 426.2Q115 394.1 95.3 358.1M140.2 426Q118.3 396.3 101.2 363.1"/><g fill="#000" fill-opacity="0.55"><circle cx="130.5" cy="414.1" r="0.5"/><circle cx="94.7" cy="376.5" r="0.7"/><circle cx="102.2" cy="370.9" r="0.5"/><circle cx="139.5" cy="425.6" r="0.9"/><circle cx="104.7" cy="384.2" r="0.8"/><circle cx="106.4" cy="384.8" r="0.7"/><circle cx="122.5" cy="404.3" r="0.8"/><circle cx="137.1" cy="421.7" r="0.9"/><circle cx="110.5" cy="383.3" r="0.5"/><circle cx="134.8" cy="418.7" r="0.8"/><circle cx="115.4" cy="400.4" r="0.7"/><circle cx="116.1" cy="399" r="0.5"/><circle cx="119.4" cy="405.4" r="0.5"/><circle cx="110.5" cy="382.3" r="0.5"/><circle cx="135.5" cy="421.8" r="0.5"/><circle cx="102.7" cy="375" r="0.6"/><circle cx="91.8" cy="354" r="0.5"/><circle cx="134.2" cy="419.9" r="0.6"/><circle cx="88.7" cy="366.6" r="0.6"/><circle cx="132.8" cy="416.9" r="0.8"/><circle cx="100.9" cy="381.3" r="0.8"/><circle cx="138.8" cy="426.1" r="0.9"/><circle cx="85.8" cy="364.3" r="0.8"/><circle cx="134.4" cy="420" r="0.6"/><circle cx="134.5" cy="420.4" r="0.7"/><circle cx="119.9" cy="401.6" r="0.6"/><circle cx="92.3" cy="367.7" r="0.8"/><circle cx="112" cy="387.6" r="0.5"/><circle cx="113.2" cy="383.9" r="0.7"/><circle cx="91.5" cy="361.5" r="0.5"/><circle cx="103.4" cy="371.4" r="0.5"/><circle cx="100.6" cy="375.3" r="0.8"/><circle cx="124" cy="409.9" r="0.8"/><circle cx="114.8" cy="389.6" r="0.5"/><circle cx="108.7" cy="381.1" r="0.6"/><circle cx="132.1" cy="419.4" r="0.9"/><circle cx="108.3" cy="377.9" r="0.6"/><circle cx="108.2" cy="386.6" r="0.7"/><circle cx="111.3" cy="396.7" r="0.8"/><circle cx="126.2" cy="409.6" r="0.5"/><circle cx="138.9" cy="424.1" r="0.5"/><circle cx="104.2" cy="381.6" r="0.8"/><circle cx="113" cy="384.9" r="0.7"/><circle cx="137.6" cy="425.6" r="0.8"/><circle cx="121.4" cy="402.5" r="0.8"/><circle cx="120.1" cy="398" r="0.7"/><circle cx="118.9" cy="403.5" r="0.8"/><circle cx="114.6" cy="400.7" r="0.5"/><circle cx="88.3" cy="367.3" r="0.7"/><circle cx="137.3" cy="423.6" r="0.8"/><circle cx="138.8" cy="424" r="0.6"/><circle cx="88.2" cy="358.1" r="0.7"/><circle cx="128.3" cy="415" r="0.7"/><circle cx="88.2" cy="354.2" r="0.6"/><circle cx="132" cy="419.9" r="0.7"/><circle cx="121.2" cy="399.1" r="0.6"/><circle cx="132" cy="413.8" r="0.8"/><circle cx="137.3" cy="424.5" r="0.5"/><circle cx="101.5" cy="380.7" r="0.6"/><circle cx="111.9" cy="385" r="0.8"/><circle cx="124.6" cy="405.1" r="0.6"/><circle cx="106.2" cy="388.1" r="0.8"/><circle cx="98.1" cy="371.1" r="0.6"/><circle cx="139.1" cy="425.9" r="0.7"/><circle cx="138.2" cy="424.7" r="0.9"/><circle cx="101" cy="372.7" r="0.8"/><circle cx="101.4" cy="376.5" r="0.6"/><circle cx="107.6" cy="391.3" r="0.5"/><circle cx="138" cy="422.7" r="0.8"/><circle cx="118.9" cy="404.1" r="0.5"/><circle cx="107.2" cy="385.1" r="0.9"/><circle cx="113.9" cy="398.6" r="0.7"/><circle cx="138.4" cy="425.2" r="0.8"/><circle cx="121.5" cy="404.1" r="0.9"/><circle cx="105.7" cy="380.6" r="0.5"/><circle cx="102.5" cy="380.3" r="0.8"/><circle cx="111.1" cy="390.6" r="0.7"/><circle cx="135.1" cy="421.7" r="0.9"/><circle cx="116.2" cy="396.2" r="0.6"/><circle cx="109.5" cy="392.3" r="0.9"/><circle cx="130.1" cy="414.4" r="0.8"/><circle cx="109.1" cy="381.8" r="0.7"/><circle cx="136.2" cy="421.8" r="0.9"/><circle cx="134.9" cy="419.3" r="0.6"/><circle cx="115.7" cy="398.2" r="0.7"/><circle cx="119.9" cy="402.4" r="0.7"/><circle cx="107.2" cy="379" r="0.6"/><circle cx="136.1" cy="422.7" r="0.6"/><circle cx="116" cy="389.9" r="0.5"/><circle cx="136.4" cy="424.4" r="0.6"/><circle cx="136.5" cy="424.5" r="0.7"/><circle cx="112.4" cy="393.3" r="0.7"/><circle cx="136.9" cy="422.9" r="0.9"/><circle cx="100.9" cy="364.9" r="0.6"/><circle cx="86.9" cy="355" r="0.5"/><circle cx="137" cy="423.4" r="0.7"/><circle cx="138.6" cy="425" r="0.5"/><circle cx="133.1" cy="419.9" r="0.7"/><circle cx="105.4" cy="377.1" r="0.8"/><circle cx="122.6" cy="405.5" r="0.7"/><circle cx="127.6" cy="408.6" r="0.8"/><circle cx="126.8" cy="413.2" r="0.7"/><circle cx="135.4" cy="419.1" r="0.9"/><circle cx="137.6" cy="425.7" r="0.8"/><circle cx="137.3" cy="425.4" r="0.7"/><circle cx="131.4" cy="417.5" r="0.6"/><circle cx="137.3" cy="424.6" r="0.7"/><circle cx="117.3" cy="396.3" r="0.6"/><circle cx="114.1" cy="398.1" r="0.7"/><circle cx="117.1" cy="396.9" r="0.6"/><circle cx="83.5" cy="361.3" r="0.9"/><circle cx="118" cy="397.2" r="0.7"/><circle cx="117.8" cy="397.8" r="0.5"/><circle cx="130.3" cy="415.5" r="0.6"/><circle cx="125.8" cy="408.7" r="0.6"/><circle cx="131.6" cy="418.6" r="0.6"/><circle cx="126" cy="412.3" r="0.7"/><circle cx="102.5" cy="385.2" r="0.7"/><circle cx="95.8" cy="360.3" r="0.5"/><circle cx="136.6" cy="424" r="0.6"/><circle cx="136.6" cy="422.3" r="0.7"/><circle cx="136.8" cy="424.7" r="0.7"/><circle cx="117.1" cy="394.7" r="0.9"/><circle cx="122.7" cy="405.3" r="0.8"/><circle cx="119.2" cy="401.5" r="0.9"/><circle cx="128.6" cy="408.9" r="0.5"/><circle cx="90.9" cy="368" r="0.7"/><circle cx="107.3" cy="376.1" r="0.6"/><circle cx="98.9" cy="375.6" r="0.9"/><circle cx="131.6" cy="416.2" r="0.6"/><circle cx="99.1" cy="361.2" r="0.9"/><circle cx="119.7" cy="404.7" r="0.7"/><circle cx="103.7" cy="387.4" r="0.5"/><circle cx="138.2" cy="424" r="0.9"/><circle cx="139.8" cy="425.3" r="0.6"/><circle cx="138.2" cy="426.1" r="0.8"/><circle cx="120" cy="404.3" r="0.7"/><circle cx="133.3" cy="418.2" r="0.5"/><circle cx="96" cy="373.2" r="0.8"/><circle cx="106.7" cy="375.7" r="0.8"/><circle cx="117.7" cy="393.3" r="0.9"/><circle cx="106.7" cy="383.9" r="0.6"/><circle cx="121.6" cy="403.5" r="0.5"/><circle cx="113.4" cy="386.5" r="0.5"/><circle cx="104.1" cy="369.6" r="0.7"/><circle cx="105.7" cy="378.1" r="0.5"/><circle cx="138.9" cy="424.9" r="0.7"/><circle cx="118.5" cy="404.8" r="0.8"/><circle cx="131.7" cy="415.4" r="0.5"/><circle cx="139.4" cy="425.2" r="0.6"/><circle cx="132.3" cy="419.2" r="0.7"/><circle cx="97.7" cy="362.4" r="0.5"/><circle cx="100.9" cy="371" r="0.9"/><circle cx="133.9" cy="422.1" r="0.9"/><circle cx="91.1" cy="369.2" r="0.8"/><circle cx="139.1" cy="425.3" r="0.6"/><circle cx="129.3" cy="412.2" r="0.7"/><circle cx="133.2" cy="420.8" r="0.8"/><circle cx="131.8" cy="419.3" r="0.9"/><circle cx="130.3" cy="411.9" r="0.5"/><circle cx="114.8" cy="394" r="0.7"/><circle cx="137.8" cy="424.3" r="0.5"/><circle cx="101.8" cy="377" r="0.6"/><circle cx="104.2" cy="368.3" r="0.6"/><circle cx="124.3" cy="405.1" r="0.9"/><circle cx="106.1" cy="389.7" r="0.6"/><circle cx="100" cy="369.2" r="0.8"/><circle cx="115.8" cy="401.1" r="0.9"/><circle cx="128.5" cy="409.9" r="0.6"/><circle cx="97.9" cy="361.7" r="0.8"/><circle cx="107.6" cy="383.1" r="0.8"/><circle cx="103.6" cy="384.6" r="0.7"/><circle cx="100.9" cy="382.9" r="0.7"/><circle cx="124.9" cy="405.4" r="0.7"/><circle cx="101.8" cy="373.2" r="0.5"/><circle cx="102.9" cy="386.5" r="0.7"/><circle cx="133.3" cy="417.9" r="0.6"/><circle cx="107.4" cy="385.8" r="0.8"/><circle cx="134" cy="420.6" r="0.8"/><circle cx="134.4" cy="420.9" r="0.6"/><circle cx="132.4" cy="417.9" r="0.8"/><circle cx="110" cy="387.4" r="0.7"/><circle cx="135.6" cy="421.9" r="0.7"/><circle cx="107.3" cy="384.7" r="0.5"/><circle cx="100.1" cy="364.5" r="0.7"/><circle cx="109.8" cy="393.6" r="0.7"/><circle cx="96.3" cy="373.3" r="0.5"/><circle cx="139.4" cy="424.8" r="0.7"/><circle cx="137.8" cy="425.9" r="0.9"/><circle cx="97.3" cy="362.5" r="0.7"/><circle cx="124.8" cy="412.1" r="0.7"/><circle cx="126.2" cy="410.6" r="0.6"/><circle cx="138.1" cy="424.6" r="0.5"/><circle cx="87.5" cy="364.1" r="0.5"/><circle cx="125.3" cy="408.8" r="0.8"/><circle cx="138.6" cy="423.6" r="0.7"/><circle cx="99.6" cy="378.7" r="0.6"/><circle cx="135.8" cy="423.9" r="0.9"/><circle cx="138.2" cy="425.9" r="0.8"/><circle cx="109" cy="390.5" r="0.8"/></g><path class="sk" stroke-width="0.55" d="M139 426.8Q131.3 416.6 124.5 405.9M139.5 426.5Q132.3 416 126 405M140 426.2Q133.3 415.4 127.5 404.1"/><path class="sk" stroke-width="0.9" d="M141.2 452Q130.3 464.2 119.4 476.3M140.6 451.5Q129.7 463.6 118.8 475.8M140 451Q129.1 463.1 118.2 475.3"/><path class="sl2" d="M141.2 477.5C137.8 486.6 121.9 486.5 118.5 477.4M141.2 477.5C137.8 483.2 121.9 483.1 118.5 477.4M141.2 477.5C137.8 479.8 121.9 479.7 118.5 477.4M141.2 477.5C137.8 475.2 121.9 475.1 118.5 477.4M141.2 477.5C137.8 471.8 121.9 471.7 118.5 477.4M141.2 477.5C137.8 468.4 121.9 468.3 118.5 477.4"/><path class="sl2" d="M141.6 430.5C148.6 433 148.8 445.3 141.8 448M141.6 430.5C145.1 433.1 145.3 445.3 141.8 448M141.6 430.5C138.1 433.2 138.3 445.4 141.8 448M141.6 430.5C134.6 433.2 134.8 445.5 141.8 448"/><g fill="#0b0b0b" fill-opacity="0.95"><ellipse cx="140.5" cy="428.6" rx="1.8" ry="1.7"/><circle cx="139.9" cy="431.3" r="1.3"/><circle cx="142.2" cy="428.5" r="0.8"/><circle cx="141.6" cy="427.9" r="0.8"/><circle cx="139.2" cy="428.2" r="1"/><circle cx="139.5" cy="426.8" r="0.7"/><circle cx="141.2" cy="430.5" r="0.8"/><circle cx="139.7" cy="431.2" r="0.9"/><circle cx="140.3" cy="430.6" r="1.4"/><circle cx="138.7" cy="428.5" r="1"/><circle cx="142.1" cy="428.4" r="0.9"/><circle cx="139.8" cy="426.8" r="1.1"/><circle cx="139.9" cy="427.4" r="0.9"/><circle cx="139.2" cy="428.4" r="0.8"/><circle cx="142.1" cy="429.5" r="1.4"/></g><g fill="#0b0b0b" fill-opacity="0.95"><ellipse cx="145.8" cy="426.9" rx="1.7" ry="1.6"/><circle cx="147" cy="425.6" r="1.1"/><circle cx="148.2" cy="426.3" r="1.4"/><circle cx="148" cy="428.3" r="1.2"/><circle cx="144.7" cy="426.2" r="1"/><circle cx="144.7" cy="425.4" r="1.1"/><circle cx="145.2" cy="425" r="0.7"/><circle cx="143.5" cy="426.1" r="1.4"/><circle cx="148" cy="428.2" r="1.1"/><circle cx="143.1" cy="427.6" r="0.8"/><circle cx="145.4" cy="425.6" r="1.3"/><circle cx="147.9" cy="427.3" r="0.8"/><circle cx="145.4" cy="427.9" r="0.9"/><circle cx="144.7" cy="424.9" r="1.3"/><circle cx="144.8" cy="428.6" r="1.1"/></g><g fill="#0b0b0b" fill-opacity="0.8"><ellipse cx="143" cy="425.6" rx="2.2" ry="0.9"/><circle cx="143" cy="426.6" r="0.7"/><circle cx="142.8" cy="426.9" r="0.6"/><circle cx="146.5" cy="425.8" r="0.8"/><circle cx="139.5" cy="425.7" r="0.7"/><circle cx="145.1" cy="426" r="0.6"/><circle cx="146.4" cy="425.5" r="0.7"/><circle cx="140.9" cy="426.2" r="0.9"/><circle cx="143" cy="426.8" r="0.6"/></g><g fill="#0b0b0b" fill-opacity="0.9"><ellipse cx="141.8" cy="450" rx="1.9" ry="1.4"/><circle cx="144.4" cy="450.5" r="0.8"/><circle cx="141" cy="449.3" r="1.4"/><circle cx="140.2" cy="450.6" r="0.9"/><circle cx="140.8" cy="450.5" r="1.2"/><circle cx="143.5" cy="448.6" r="1.3"/><circle cx="142.7" cy="448.7" r="1.4"/><circle cx="141.5" cy="451.2" r="1.3"/><circle cx="139.5" cy="450.3" r="1"/><circle cx="143.1" cy="449.6" r="1.4"/><circle cx="143" cy="451.4" r="0.9"/><circle cx="142.8" cy="451.6" r="1.4"/><circle cx="144.3" cy="449" r="1.1"/></g><g fill="#0b0b0b" fill-opacity="0.85"><ellipse cx="116.9" cy="477.4" rx="1.6" ry="1.7"/><circle cx="115.4" cy="477.9" r="0.9"/><circle cx="116.5" cy="479.9" r="0.8"/><circle cx="115.8" cy="476.2" r="1.2"/><circle cx="115.9" cy="475.1" r="0.7"/><circle cx="118.1" cy="476.6" r="0.9"/><circle cx="118.3" cy="477.3" r="1.5"/><circle cx="116.9" cy="475.8" r="0.8"/><circle cx="115.2" cy="477.2" r="0.8"/><circle cx="116.4" cy="478.4" r="1.3"/><circle cx="118.3" cy="475.9" r="0.8"/></g><path class="sl2" d="M141.7 477.6L150.3 477.9M141.7 477.8L148.2 480.7M141.6 477.9L147.4 483.2M141.5 478L145.5 484.4M141.3 478.1L142.3 484.8M141.1 478.1L138.8 487.4M140.9 478L137.2 484.3M140.8 477.9L135.9 482.4M140.7 477.8L133.4 480.8M140.7 477.6L133.2 477.7M140.7 477.4L133.8 475M140.8 477.3L134.7 471.9M141 477.2L137.2 470.4M141.1 477.1L139.5 469.9M141.3 477.1L142.1 470.4M141.5 477.2L145.8 470M141.6 477.3L147.8 471.7M141.7 477.4L148.8 474.4"/><path class="sl2" d="M117.9 477.5L123.6 477.9M117.8 477.8L123.4 480.1M117.5 478.2L121.3 483.2M117.2 478.4L119.1 484.5M116.7 478.4L115.5 484.7M116.2 478.1L112.2 482.7M116 477.8L109.8 480.9M115.9 477.3L110.8 477M116 477L110.6 474.3M116.3 476.6L112.2 471.1M116.6 476.4L115.1 471.7M117.1 476.4L117.9 471M117.6 476.7L122.2 471.4M117.8 476.9L122.9 474.3"/><g fill="#400000" fill-opacity="0.4"><ellipse cx="141.2" cy="477.6" rx="1.2" ry="1.2"/><circle cx="141" cy="476" r="1"/><circle cx="142.3" cy="479" r="0.7"/><circle cx="141.7" cy="478.7" r="0.8"/><circle cx="143.1" cy="478" r="1"/><circle cx="140.1" cy="477.3" r="0.6"/><circle cx="142.4" cy="477.6" r="0.7"/></g>
</g>
<rect class="fr" x="42.6" y="304.8" width="201.8" height="184.6"/>
<line class="tk" x1="83" x2="83" y1="489.4" y2="486.2"/>
<line class="tk" x1="42.6" x2="45.8" y1="452.5" y2="452.5"/>
<line class="tk" x1="123.3" x2="123.3" y1="489.4" y2="486.2"/>
<line class="tk" x1="42.6" x2="45.8" y1="415.6" y2="415.6"/>
<line class="tk" x1="163.7" x2="163.7" y1="489.4" y2="486.2"/>
<line class="tk" x1="42.6" x2="45.8" y1="378.6" y2="378.6"/>
<line class="tk" x1="204" x2="204" y1="489.4" y2="486.2"/>
<line class="tk" x1="42.6" x2="45.8" y1="341.7" y2="341.7"/>
<line x1="42.2" x2="244.8" y1="489.5" y2="489.5" stroke="#000" stroke-opacity=".88" stroke-width="1.6"/>
<clipPath id="cpd"><rect x="265.5" y="304.8" width="201.7" height="183.9"/></clipPath>
<g clip-path="url(#cpd)">
<rect x="265.5" y="304.8" width="201.7" height="183.9" fill="#0000ff"/>
<path fill="#0040ff" d="M359.4 340.8L365 340.6 371.5 340.7 377 341.1 382 341.8 387 342.9 392 344.3 396.1 345.8 400.6 347.8 405.2 350.3 409.9 353.3 414 356.4 418 359.8 422 363.7 426 368.2 430 373.3 432.5 376.9 436 382.4 439 387.8 441.5 392.8 444 398.5 446.5 404.8 448.5 410.6 450.5 417.1 452.5 424.8 454 431.6 455.5 439.7 457.5 454.9 458.2 463.3 458.7 471.8 459 490.3 273.8 490.3 274 473.8 275 458 276.5 444.8 279 430.6 282 418.2 284 411.5 286 405.6 288 400.4 290.5 394.6 293 389.4 296 383.8 299 378.8 302 374.4 305.5 369.8 308.5 366.2 312 362.5 315.9 358.8 319.5 355.8 323.6 352.8 327.6 350.3 332.2 347.8 336.7 345.8 340.8 344.3 345.5 342.9 350 341.9 354.5 341.3 359.4 340.8Z"/>
<path fill="#0080ff" d="M357 368.1L365 367.6 369.5 367.6 374.5 368 379 368.6 383.5 369.5 389 371.1 393 372.6 397.5 374.6 404.5 378.6 408 381 412.5 384.5 416 387.6 419.7 391.3 423.3 395.3 426.8 399.8 430.3 404.8 432.8 408.8 435.3 413.3 437.8 418.3 440.3 423.8 442.3 428.8 445.7 439.3 447.3 445.3 448.8 451.8 450.7 463.8 451.9 476.3 452.2 490.3 280.8 490.3 281.1 477.8 282 465.8 283.8 454.3 286.2 443.3 289.3 432.8 293.1 422.8 297.7 413.3 302.7 404.8 308.1 397.3 314.5 390 321 384.1 325 381 328.5 378.6 332 376.5 336.5 374.1 340 372.6 344 371.1 347.5 370 352 369 357 368.1Z"/>
<path fill="#00bfff" d="M358 388.6L364 388 368 388 375.5 388.6 380.5 389.5 384.5 390.5 389 392 392.5 393.5 399.5 397.1 403.5 399.6 407.5 402.5 410.5 404.9 414.5 408.6 420.7 415.3 426.3 422.8 431.2 430.8 433.8 435.8 435.8 440.3 439.2 449.3 440.8 454.3 442.2 459.8 444.1 469.8 445.2 479.8 445.5 490.3 288.1 490.3 288.3 481.3 289.3 471.3 290.7 462.8 293.2 452.8 296.3 443.8 299.8 435.8 303.8 428.3 308.3 421.3 313.7 414.3 319.5 408.2 326 402.5 332.5 398 339 394.5 346 391.5 353 389.5 358 388.6Z"/>
<path fill="#00ffff" d="M366.5 402.8L373.5 403.2 381 404.5 387.5 406.5 394.5 409.5 401.5 413.6 407 417.6 412.5 422.5 417.8 428.3 422.3 434.3 426.6 441.3 430.4 448.8 433.3 456.3 435.8 464.8 437.4 472.8 438.3 481.3 438.6 490.3 294.4 490.3 294.6 481.8 295.6 473.3 297.2 464.8 299.6 456.8 302.6 448.8 306.4 441.3 310.7 434.3 315.2 428.3 320.5 422.5 326 417.6 332.5 412.9 338.5 409.5 345.5 406.5 352 404.5 359.5 403.2 366.5 402.8Z"/>
<path fill="#00ffbf" d="M360.5 416.3L367.5 416 374.5 416.5 378 417.1 382 418 388 420 394.5 422.9 400.5 426.5 406 430.6 411.1 435.3 416.3 441.3 420.2 446.8 423.9 453.3 427 460.3 429.3 467.3 431 474.8 432 482.8 432.2 490.3 300.8 490.3 300.9 483.8 301.7 476.8 302.8 470.8 304.8 463.8 307.2 457.3 310.1 451.3 313.8 445.3 317.9 439.8 322.4 434.8 327 430.6 332.5 426.5 337.5 423.4 343.5 420.6 349 418.6 355 417.1 360.5 416.3Z"/>
<path fill="#00ff80" d="M360.4 426.8L366.5 426.5 373 426.9 379 427.9 384.5 429.5 390.5 431.9 396 434.9 401.5 438.7 406.5 443 410.9 447.8 414.6 452.8 417.9 458.3 420.8 464.3 423 470.8 424.5 477.3 425.3 483.8 425.5 490.3 307 490.3 307.2 484.3 307.8 478.8 309 472.8 310.5 467.6 312.5 462.5 315.1 457.3 318.2 452.3 321.6 447.8 325.5 443.5 330 439.5 334 436.5 339 433.5 344 431 349.5 429 355 427.6 360.4 426.8Z"/>
<path fill="#00ff40" d="M360.6 435.8L365.5 435.5 371 435.7 376.5 436.5 382.5 438.1 387.5 440.1 393 443 397.5 446 401.9 449.8 405.8 453.8 409.2 458.3 412 462.9 414.5 468.1 416.5 473.8 417.7 478.8 418.5 484.8 418.6 490.3 313.8 490.3 313.9 485.3 314.5 480.3 315.5 475.3 316.9 470.8 318.7 466.3 320.7 462.3 323.2 458.3 326.6 453.8 330 450.2 333.5 447.1 337.5 444.2 342 441.5 346 439.6 351.5 437.6 356 436.5 360.6 435.8Z"/>
<path fill="#00ff00" d="M360.8 443.3L365.5 443 370 443.2 375 443.9 379.5 445.1 384.5 447 388.5 449.1 393 452.1 396.5 455 400.2 458.8 403.2 462.8 405.7 466.8 407.8 471.3 409.4 475.8 410.4 480.3 411.1 485.3 411.2 490.3 320.7 490.3 320.8 485.8 321.2 481.8 322 477.8 323.4 473.3 325 469.3 327 465.4 329 462.3 331.7 458.8 334.5 455.8 337.9 452.8 341.5 450.2 345 448.2 348.5 446.5 352.5 445.1 356.5 444 360.8 443.3Z"/>
<path fill="#40ff00" d="M361.2 450.3L365.5 450 369.5 450.2 373.5 450.8 377.5 451.8 381.5 453.4 385 455.2 388.5 457.6 391.7 460.3 394.6 463.3 397 466.5 399.1 469.8 401 473.8 402.5 478.3 403.4 482.8 403.8 486.3 403.9 490.3 328 490.3 328.1 486.8 328.5 482.5 329 479.8 330 476.3 331.5 472.5 333 469.5 335 466.3 337 463.7 339.5 460.9 342 458.7 345 456.4 348 454.6 351 453.1 354.5 451.8 358 450.9 361.2 450.3Z"/>
<path fill="#80ff00" d="M359.5 457.7L365 457 368.5 457.1 372 457.6 375.5 458.5 378 459.5 381 461 384 463 386.6 465.3 388.8 467.8 390.3 469.8 392.2 473.3 393.3 476.3 393.8 478.3 394.4 481.8 394.4 490.3 337.5 490.3 337.5 482.3 338.2 477.8 339.7 473.3 341.3 470.3 342.7 468.3 344.5 466.1 346.5 464.2 348.5 462.6 351 461 354 459.5 356.5 458.5 359.5 457.7Z"/>
<path fill="#bfff00" d="M362.5 463L367 462.7 370 462.9 374.5 464 377 465.1 379.5 466.5 381.5 468.1 383.2 469.8 384.7 471.8 385.7 473.8 386.8 477.3 387 479.3 387 490.3 346 490.3 346 479.3 346.2 477.3 347.2 473.8 348.6 471.3 349.8 469.8 351.5 468.1 355 465.6 357 464.6 360 463.5 362.5 463Z"/>
<path fill="#ffff00" d="M363.3 466.3L365.5 466 368 466 370.5 466.4 372.5 467.1 374.5 468 376 469 377.5 470.3 378.8 471.8 380.1 474.3 380.7 476.8 380.7 490.3 352.3 490.3 352.3 477.3 352.6 475.3 353.3 473.3 355 470.8 357.3 468.8 360.5 467.1 363.3 466.3Z"/>
<path fill="#ffbf00" d="M364.5 468.8L366 468.6 367.5 468.6 369 468.9 370.5 469.4 372 470.3 373 471.1 374.7 473.3 375.3 474.8 375.5 476.3 375.5 490.3 357.5 490.3 357.5 476.3 357.9 474.3 358.9 472.3 360.3 470.8 362.5 469.4 364.5 468.8Z"/>
<path fill="#ff8000" d="M365.5 470.8L366.5 470.6 368 471 369.9 472.8 371.3 475.8 371.9 477.8 372.2 480.3 372.2 483.8 372 485.2 371.5 486.4 371 487.3 369 489.3 367.5 489.8 365.4 489.8 364 489.3 363 488.4 362 487.3 361.4 486.3 361 485.2 360.7 483.3 360.7 480.3 361.1 477.8 361.6 475.8 362.2 474.3 363.1 472.8 364.5 471.3 365.5 470.8Z"/>
<path fill="#ff4000" d="M364.8 472.8L365.5 472.4 366.5 472.3 367.5 472.6 368 472.9 369.1 474.3 369.8 476.3 369.8 478.8 369.3 480.8 368.8 481.8 368 482.8 367.5 483.2 366.5 483.5 365.5 483.3 364.2 482.3 363.3 480.8 362.8 478.8 362.8 477.3 363.1 475.3 363.8 473.8 364.8 472.8Z"/>
<path fill="#ff0000" d="M365.5 473.8L366.5 473.7 367.2 473.8 368 474.3 368.6 475.3 368.7 476.3 368.5 477.8 368 478.6 367 479.3 365.5 479.2 364.6 478.3 364.2 477.3 364 476.3 364.5 474.8 365.5 473.8Z"/>
<path class="sl" d="M265.8 486.5L284.4 483.3 296.8 480.9 307.1 478.7 319.9 475.4 325.3 473.7 330.6 471.9 335.7 469.7 340.1 467.6 343.8 465.5 347.3 463.1 349.9 460.9 352.4 458.4 354.1 456.2 356.8 452.1M466.9 486.5L445.5 482.9 426.3 479 418.1 477.1 412 475.4 405.3 473.4 400.1 471.5 394.9 469.4 390.5 467.2 386.3 464.7 382.8 462.4 380.7 460.6 378.3 458 376.6 455.8 374.3 452.2 373.4 451.2M265.8 481.4L292.1 477.5 308 474.7 320.9 471.8 326.3 470.3 331 468.8 335.6 467.1 339.4 465.3 343.1 463.3 346.6 461 349.3 458.7 351.2 456.8 353.8 453.4 355.3 450.3 356 450.3M466.9 481.4L444 478.1 425.4 475 412.4 472.2 406.3 470.6 400.9 469 396.3 467.3 391.9 465.3 388.2 463.4 384.6 461.1 381.4 458.4 379 455.8 377 453 376.2 451M265.8 476.2L293.6 472.8 307.5 470.9 319.2 468.8 328.7 466.5 332.7 465.3 336.7 463.8 340.5 462.1 343.5 460.4 346.4 458.4 348.6 456.6 350.5 454.6 353.2 451.4M466.9 476.2L442.6 473.3 425.2 471 412.8 468.9 402.6 466.5 398.6 465.3 394.6 463.9 390.8 462.2 387.7 460.5 384.8 458.5 382.7 456.7 380.7 454.7 377.9 451.6M265.8 470.7L295.8 468 309 466.6 320.1 465.1 328.3 463.5 332.4 462.5 335.7 461.4 339 460.1 341.5 458.9 344.5 457 346.7 455.3 348.3 453.9 350.6 451.4 352 450.9M466.9 470.7L440.4 468.4 424.4 466.9 412.6 465.3 402.9 463.5 398.9 462.5 395.5 461.5 392.3 460.2 389.7 459 386.7 457.2 384.5 455.5 382.4 453.6 380.6 451.5 380 451.2 378.6 450.8M265.8 465.1L309.1 462.6 318.2 461.8 326.5 460.7 333.4 459.3 336.1 458.5 338.7 457.5 341.2 456.3 343 455.3 347.5 452M466.9 465.1L422.9 462.6 412.4 461.7 404.1 460.6 397.2 459.2 394.6 458.4 391.9 457.4 389.4 456.1 387.6 455.1 382.6 451.2M265.8 459.3L312 458.3 320.4 457.9 327.4 457.4 332.9 456.6 337 455.6 339.6 454.5 342.1 453.2 343.8 452.1 344.8 451.1 345.4 450.8 347.5 450.5M466.9 459.3L420.7 458.4 411.6 458 403.9 457.4 397.7 456.5 393.6 455.5 391.1 454.4 388.6 453.1 385.8 450.9 384.5 450.7M265.8 453.2L288.9 453.5 315.5 454.2 326.7 454.2 331.6 453.9 335.7 453.4 337.8 452.8 340.3 451.6 342.3 451M466.9 453.2L448 453.5 417.2 454.3 404.6 454.3 399.7 454 395.6 453.5 393.5 453 390.3 451.5 388.3 451M265.8 447L291 448.3 325.9 450.9 333.6 451.1 337.7 450.9M466.9 447L443.8 448.2 406.1 451 398.4 451.2 393.6 451M265.8 440.5L281.8 441.9 296.5 443.5 322.1 446.9 333.2 448.5 337.3 449.3M466.9 440.5L451.6 441.8 436.9 443.4 400.9 448.2 393.3 449.5M265.8 433.8L279 435.4 291.5 437.3 302.5 439.2 316.2 441.8 327.2 444.3 334 446 337.2 447.2 338.5 447.8 340.2 449 342.2 449.7M466.9 433.8L453.7 435.4 441.9 437.1 429.5 439.2 416.4 441.7 404.8 444.2 397.3 446.1 393.4 447.5 390.4 449.4 388.4 449.9M265.8 426.8L279.6 429.1 292.7 431.7 304.9 434.5 318.5 438 328.5 441.1 335.1 443.6 337.6 444.8 339.4 445.8 343.3 448.8M466.9 426.8L453.1 429.1 440 431.6 426.4 434.7 413.5 438.1 403.4 441.1 396.2 443.7 392.4 445.5 387.9 448.8M265.8 419.6L280.2 422.6 294.5 426.2 307.9 430.1 321.2 434.5 330.3 438.2 334.1 439.9 337.2 441.6 339.5 443.1 341.8 444.7 343.9 446.6 345.8 448.6 347 449.4M466.9 419.6L451.8 422.7 438.2 426.1 424.1 430.1 410.8 434.5 401 438.4 397.2 440.1 394.1 441.7 391.7 443.2 389.5 444.8 387.4 446.7 385.4 448.7 384.3 449.5M265.8 412.2L280.7 415.9 294.2 419.9 308 424.8 321 430 326.1 432.3 331.1 434.8 334.8 436.9 338.3 439.1 341.1 441.2 343.3 443 345.2 445 348 448.2M466.9 412.2L451.9 415.9 438.5 419.8 424.6 424.6 417.4 427.3 410.9 430 400.8 434.7 397.1 436.7 393.5 438.9 390.7 440.9 388 443.2 386 445.1 383.2 448.3M265.8 404.5L281.3 409 295.1 413.9 302.9 417 310 420 317 423.3 323.2 426.4 328.1 429.1 332.9 432 337 434.7 340.3 437.3 343.5 440.1 345.9 442.6 348.5 445.9 350.3 448.9 350.8 449.4 351.4 449.8M466.9 404.5L451.4 409 444.1 411.4 436.9 414 429.1 417.1 422 420.1 414.3 423.6 408.1 426.7 403.2 429.4 398.4 432.3 394.3 435 390.9 437.5 387.8 440.3 384.9 443.3 382.3 446.6 380.5 449.6 379.2 450.1M265.8 396.5L273.8 399.1 281.1 401.6 287.6 404.1 295.3 407.4 303 410.9 310.5 414.6 317.3 418.2 323.4 421.7 328.7 425.1 333.3 428.2 337.8 431.6 341.5 434.8 344.5 437.8 347.2 441 349.3 443.8 352.3 448.5M466.9 396.5L458.9 399.1 451.6 401.6 445.1 404 437.3 407.2 429.6 410.7 422.1 414.3 415.2 417.9 408.5 421.7 402.6 425.4 398 428.5 393.5 431.9 389.8 435.1 386.8 438 384 441.2 381.9 444 378.9 448.7M265.8 388.3L273.7 391.1 281.5 394.2 288.6 397.3 295.5 400.6 303 404.4 310.3 408.5 317.5 412.8 324 417.1 329.7 421.1 334.6 425 338.9 428.7 342.9 432.6 346.1 436.3 349.1 440.2 351.6 444.3 353.5 448.1M466.9 388.3L459 391.1 451.2 394.1 443.4 397.4 436.5 400.7 428.4 404.9 421 408.9 413.8 413.2 407.3 417.4 401.6 421.5 396.6 425.3 391.9 429.4 387.9 433.4 384.7 437 381.8 441 379.2 445.2 377.4 449M265.8 379.7L274.2 383.1 281.9 386.5 289.5 390.2 296.3 393.8 304.1 398.4 311.8 403.2 318.8 408 325.5 413 331 417.4 336.2 422 340.7 426.4 344.4 430.6 347.9 435 350.9 439.7 353.5 444.7 355.3 449.2 355.7 449.8 357 450.2M466.9 379.7L458.4 383.1 450.7 386.4 443.2 390.1 436.3 393.6 428.4 398.2 420.7 402.9 413.7 407.6 406.9 412.5 401.4 416.9 396.1 421.4 391.6 425.8 387.7 429.9 383.4 435.3 379.9 440.6 378.3 443.7 376.8 446.9 376.1 448.9 376 450.2 376 449.5 375.8 450.2 373.7 450.3M265.8 370.9L274.1 374.6 281.7 378.2 289.1 382.2 296.3 386.4 304 391.3 312 396.9 319.3 402.4 325.8 407.8 331.5 412.9 337 418.3 341.7 423.5 345.7 428.4 348.9 433 351.8 437.8 353.9 442.2 356.7 448.6M466.9 370.9L458.6 374.5 451 378.1 443.5 382 436.3 386.2 428.6 391.1 420.5 396.6 413.2 402 406.1 407.7 400.3 412.8 394.8 418.2 390 423.3 386 428.2 382.7 432.7 379.8 437.5 377.5 441.8 375.1 447.6 374.5 448.9M265.8 361.7L274 365.7 282 369.9 289.9 374.5 297.5 379.4 304.9 384.7 312.7 390.7 320.2 397 326.9 403.2 332.9 409.1 338.1 414.8 342.9 420.7 347 426.4 350.4 431.8 353 436.7 355.2 441.8 357.9 449M466.9 361.7L458.7 365.6 450.6 369.8 442.7 374.4 435.1 379.2 427.6 384.5 420.3 390 412.8 396.2 405.9 402.2 399.9 408 394.2 414.2 389.2 420 385 425.6 381.6 430.9 378.5 436.4 376.2 441.5 373.7 448.1M265.8 352.2L274.5 356.8 282.4 361.3 290.6 366.6 298.1 371.8 305.3 377.4 312.7 383.7 320.5 390.8 327.4 397.7 333.5 404.5 338.9 410.9 343.9 417.7 348.1 424.1 351.5 430.2 354.5 436.6 357.2 443.8 358.3 447.8 358.5 449.2M466.9 352.2L458.2 356.7 450.3 361.2 442 366.4 434.5 371.6 427.3 377.1 419.7 383.4 412.4 389.9 405.4 396.8 399.2 403.4 393.3 410.3 388.2 417 383.9 423.4 380.3 429.4 377.2 435.7 374.9 441.5 372.8 448.2M265.8 342.4L274.3 347.2 282.7 352.3 290.8 357.9 298.6 363.8 305.5 369.7 313.3 376.8 320.2 383.7 327.3 391.4 333.6 398.9 339.1 406.2 344.3 413.7 348.6 420.9 352.1 427.7 355.2 434.8 357.7 442.1 358.8 446.1 359.2 448.2M466.9 342.4L457.7 347.5 449.4 352.6 441.3 358.1 433.5 364 426.4 369.9 418.7 376.9 410.7 384.8 404.1 392 397.7 399.5 391.8 407.2 386.6 414.8 382.3 422 378.5 429.4 375.5 436.5 374.1 440.5 372.7 445.2 372.1 447.9 372.1 449.3M265.8 332.2L274.8 337.6 283 343 290.9 348.8 298.5 355 305.8 361.6 312.7 368.5 319.9 376.2 327.1 384.7 333.6 393 339.2 401 344.5 409.3 348.9 417.2 352.6 424.8 355.7 432.6 358.2 440.6 360 448.1M466.9 332.2L457.9 337.6 449.1 343.3 440.6 349.5 433 355.7 425.2 362.7 418.3 369.6 410.6 377.9 403.4 386.4 397 394.7 390.9 403.3 385.7 411.6 381.1 420.2 377.3 428.5 374.1 437 372.6 442.4 371.5 447.2 371.3 449.2 371.6 449.9M265.8 321.7L274.7 327.3 283.2 333.4 291.5 339.9 298.9 346.3 306 353.1 313.2 360.7 320 368.7 326.9 377.5 333.5 386.6 339.6 396 344.6 404.4 349.1 413.1 352.8 421.4 355.8 429.2 358.5 437.9 360.9 448.9 361.3 449.5 361.9 449.9M466.9 321.7L458 327.3 449.4 333.3 441.1 339.7 433.7 346.1 426.5 352.8 419.3 360.4 411.9 368.8 404.9 377.6 398.3 386.6 392.1 396 386.8 405 382.2 413.7 378.7 421.3 375.6 429.1 374.1 433.8 372.7 438.5 370.2 449.4 369.8 449.9 369.1 450.1M265.8 310.8L274.5 316.6 283 322.9 291 329.6 298.8 336.7 306.1 344.2 313.5 352.6 320.1 360.8 327.1 370.4 334 380.9 339.8 390.5 345.2 400.3 350 410.4 353.7 419.5 356.9 428.8 359.2 437.6 361.5 448.5M466.9 310.8L457.6 317 449.1 323.2 441 329.9 433.3 337 425.9 344.4 418.4 352.8 411.8 361 404.8 370.5 397.7 381 391.5 391.1 386.1 401 381.3 411 377.5 420.1 374.3 429.4 372.1 437.5 370 447.7 369.5 449.1M362.1 305.1L363.5 347.1 364.7 395.4 365.3 433.2 365.4 447.9 365.2 449.9M370.6 305.1L368.7 346.4 367.2 387.6 366.1 429.6 365.9 446.4 366 449.2M353.5 305.1L355.9 323.9 358.1 344 360.2 366.3 362.1 389.4 363.4 408.2 364.3 426.4 365 446 364.9 448.1 364.6 449.4M379.2 305.1L376.7 323.1 374.4 341.9 372 363.5 370.1 383.7 368.5 402.5 367.4 420 366.5 439.5 366.3 446.5 366.4 448.6M344.7 305.1L348.5 322.2 352 340.1 355.5 360.8 358.7 382.2 361 400.3 362.7 417.7 364 435.8 364.5 445.6 364.4 448.4M388 305.1L384 322.1 380.3 340 376.5 360.6 373.2 381.4 370.7 399.4 368.8 416.8 367.3 434.9 366.8 444.7 366.8 448.2M335.5 305.1L341 321.7 345.9 339.2 351 359.6 355.4 380.2 358.8 398.7 361.3 416.1 363.2 433.5 363.9 443.2 364.1 448.1M397.2 305.1L391.5 321.7 386.2 339.8 380.8 360.8 376.2 381.3 372.5 400.6 369.8 418.5 368.7 428.3 367.8 438 367.2 446.4 367.2 447.8 367.3 449.2M325.8 305.1L329.4 312.7 332.9 321.1 336.3 329.6 339.7 338.8 343.1 348.7 346.2 358.7 349.2 368.8 352.1 379.6 354.7 389.8 356.7 398.6 358.6 408.2 360.2 417.2 361.7 426.9 362.7 435.9 363.6 446.4 363.5 449.2M406.9 305.1L403.3 312.7 399.6 321 396.1 329.4 392.7 338.6 389.4 347.8 386.1 357.8 383 367.8 380.1 377.9 377.6 387.4 375.3 396.9 373.4 405.8 371.7 414.8 370.2 423.7 369.1 432.1 368.1 441.1 367.6 448.1M315.6 305.1L319.9 312.3 324.3 320.3 328.4 328.4 332.6 337.2 336.5 346.2 340.5 355.9 344.2 365.8 347.8 376.4 350.8 385.7 353.8 395.8 356.1 404.6 358.1 413.4 359.9 422.4 361.4 431.3 362.5 439.7 363.3 448M417.1 305.1L412.4 312.9 407.9 320.8 403.7 328.9 399.5 337.7 395.5 346.6 391.4 356.3 387.7 366.1 383.9 376.7 380.8 386 378 395.4 375.4 404.8 373.3 413.7 371.5 422.6 370 430.9 368.9 439.2 367.9 448.2M304.6 305.1L310.1 312.4 315.3 319.8 320.5 328.1 325.5 336.5 330.1 345.2 334.8 354.6 339.2 364.1 343.5 374.4 347.4 384.2 350.9 394.1 353.9 403.4 356.3 412.2 358.5 421 360.3 429.9 361.7 438.2 362.9 448M428.1 305.1L422.6 312.3 417.3 319.7 412 327.9 406.9 336.3 402.2 344.9 397.4 354.3 392.7 364.4 388.2 374.7 384.3 384.4 380.7 394.3 377.7 403.6 374.9 413 372.7 421.9 370.9 430.8 369.6 438.4 368.3 448.1M292.7 305.1L299 311.7 305.4 319.1 311.5 326.8 317.2 334.8 322.6 342.9 328 351.9 333.4 361.7 338.5 371.7 343.2 381.9 347.6 392.2 351.4 402 354.5 411.2 357.2 420.7 359.4 429.5 361 437.8 362.5 448.1M440 305.1L433.2 312.2 426.8 319.5 420.7 327.2 414.9 335.1 409.4 343.3 404 352.2 398.5 362 393.3 371.9 388.5 382 384 392.3 380.2 402.1 377 411.3 374.2 420.7 372 429.6 370.3 437.8 368.7 448.2M279.8 305.1L287.8 311.9 295 318.6 301.8 325.7 308.7 333.6 315.2 341.8 321.3 350.4 327.4 359.7 333.2 369.4 338.9 379.8 343.9 389.8 348.5 400 352.4 409.8 355.5 419 358.2 428.5 360.2 437.3 362.2 448.4M452.9 305.1L444.8 311.9 437.6 318.5 430.8 325.5 423.8 333.4 417.3 341.6 411.1 350.1 404.9 359.4 398.7 369.5 392.8 379.9 387.5 390.5 382.8 400.7 378.9 410.5 375.7 419.7 373 429.1 371.1 437.3 369.1 448.3"/>
<path class="ar" d="M278.5 484.3L280.3 483.3L280.5 484.6ZM302.1 479.8L303.8 478.7L304.1 480ZM325.3 473.7L326.9 472.5L327.3 473.7ZM447.3 483.2L445.3 483.5L445.5 482.2ZM423.8 478.4L421.8 478.6L422.1 477.4ZM281.5 479.1L283.3 478.1L283.5 479.4ZM305.2 475.2L307 474.2L307.2 475.5ZM444.2 478.2L442.2 478.5L442.5 477.2ZM420.6 474L418.6 474.2L418.9 472.9ZM284.6 473.9L286.4 473L286.5 474.3ZM308.3 470.7L310.1 469.7L310.3 471ZM452.1 474.5L450.1 474.9L450.3 473.6ZM428.3 471.4L426.3 471.8L426.5 470.5ZM287.6 468.8L289.4 467.9L289.6 469.2ZM311.5 466.3L313.3 465.4L313.5 466.7ZM449.1 469.2L447.1 469.7L447.2 468.4ZM425.2 467L423.2 467.4L423.4 466.1ZM279.7 464.3L281.5 463.5L281.6 464.8ZM303.6 462.9L305.5 462.1L305.6 463.4ZM446 463.9L444.1 464.5L444.2 463.2ZM422.1 462.6L420.1 463L420.2 461.8ZM282.7 458.9L284.6 458.2L284.6 459.5ZM306.7 458.4L308.6 457.7L308.6 459ZM454 459L452.1 459.6L452.1 458.3ZM430 458.6L428.1 459.2L428.1 457.9ZM285.7 453.5L287.6 452.9L287.6 454.2ZM309.7 454.1L311.6 453.5L311.6 454.8ZM451 453.4L449.1 454.1L449.1 452.8ZM427 454L425.1 454.7L425.1 453.4ZM288.7 448.2L290.6 447.6L290.5 448.9ZM312.6 449.9L314.5 449.4L314.5 450.7ZM448 447.9L446.2 448.7L446.1 447.4ZM424.1 449.6L422.2 450.4L422.1 449.1ZM280.6 441.8L282.6 441.3L282.5 442.6ZM304.5 444.5L306.5 444.2L306.3 445.4ZM445.1 442.5L443.3 443.3L443.1 442ZM421.3 445.5L419.5 446.4L419.3 445.1ZM283.5 436.1L285.5 435.7L285.3 437ZM307.2 440.1L309.2 439.8L309 441.1ZM453.1 435.5L451.3 436.4L451.1 435.1ZM429.4 439.2L427.7 440.2L427.4 439ZM286.4 430.4L288.4 430.2L288.1 431.4ZM309.8 435.8L311.8 435.6L311.5 436.9ZM450.2 429.6L448.5 430.6L448.2 429.4ZM426.8 434.6L425.1 435.7L424.8 434.5ZM278.4 422.3L280.4 422L280.2 423.3ZM301.7 428.3L303.7 428.2L303.3 429.4ZM447.4 423.8L445.8 424.9L445.4 423.6ZM424.3 430.1L422.7 431.3L422.3 430ZM281.2 416.1L283.2 416L282.9 417.2ZM304.1 423.4L306.1 423.4L305.7 424.6ZM444.7 418L443.1 419.1L442.7 417.9ZM422 425.6L420.4 426.9L420 425.6ZM283.9 410L285.9 410L285.5 411.2ZM306.3 418.5L308.3 418.6L307.8 419.8ZM452.6 408.6L450.9 409.8L450.6 408.5ZM430 416.7L428.5 418L428 416.8ZM408.2 426.7L406.8 428.1L406.2 427ZM286.5 403.7L288.5 403.8L288 405ZM308.4 413.5L310.4 413.8L309.8 414.9ZM329.2 425.4L331.2 425.9L330.4 427ZM449.9 402.2L448.4 403.5L447.9 402.3ZM427.8 411.5L426.4 412.9L425.8 411.8ZM406.7 422.8L405.4 424.4L404.7 423.3ZM278.8 393.2L280.8 393.2L280.3 394.5ZM300.6 403.2L302.6 403.5L302 404.7ZM321.3 415.3L323.3 415.8L322.5 416.9ZM447.4 395.8L445.9 397.1L445.4 395.9ZM425.8 406.3L424.5 407.8L423.9 406.6ZM405.4 418.8L404.2 420.4L403.5 419.4ZM281.4 386.3L283.4 386.5L282.8 387.7ZM302.6 397.5L304.5 397.9L303.9 399ZM322.6 410.8L324.5 411.4L323.7 412.4ZM455 384.6L453.5 386L453 384.8ZM433.5 395.3L432.2 396.8L431.5 395.7ZM413.1 408L412 409.6L411.2 408.6ZM394.4 423L393.5 424.8L392.6 423.9ZM283.8 379.4L285.8 379.7L285.2 380.8ZM304.4 391.6L306.3 392.2L305.6 393.2ZM323.6 406L325.5 406.7L324.7 407.7ZM340.9 422.6L342.7 423.6L341.7 424.4ZM452.4 377.4L451 378.9L450.4 377.7ZM431.5 389.2L430.3 390.8L429.6 389.7ZM411.9 403L410.9 404.7L410 403.7ZM394 419L393.2 420.8L392.3 419.9ZM286.1 372.3L288.1 372.7L287.4 373.8ZM306.1 385.6L308 386.2L307.2 387.3ZM324.5 400.9L326.3 401.7L325.5 402.7ZM341 418.3L342.7 419.4L341.7 420.2ZM450 370.2L448.7 371.7L448 370.6ZM429.7 383L428.5 384.6L427.8 383.5ZM410.9 397.8L409.9 399.6L409 398.6ZM393.8 414.6L393 416.5L392 415.7ZM278.9 359.3L280.9 359.7L280.2 360.8ZM298.9 372.5L300.8 373.1L300 374.2ZM317.3 387.9L319.1 388.7L318.3 389.7ZM334.1 405.1L335.8 406.1L334.8 407ZM348.3 424.4L349.8 425.7L348.6 426.4ZM447.7 362.8L446.5 364.4L445.8 363.3ZM428 376.5L427 378.2L426.2 377.2ZM410 392.3L409.1 394.1L408.2 393.2ZM393.6 409.8L393 411.7L392 411ZM281.2 351.4L283.2 351.9L282.5 353ZM300.6 365.6L302.5 366.3L301.7 367.3ZM318.3 381.8L320.1 382.7L319.1 383.6ZM334.2 399.7L335.9 400.9L334.8 401.6ZM347.8 419.5L349.3 420.8L348.2 421.5ZM454.8 349.3L453.5 350.8L452.9 349.7ZM435 362.8L433.9 364.5L433.1 363.5ZM417 378.6L416.1 380.4L415.2 379.5ZM400.6 396.1L399.9 398L398.9 397.2ZM386.3 415.4L385.8 417.3L384.7 416.7ZM283.5 343.4L285.4 344L284.6 345ZM302.2 358.4L304 359.2L303.2 360.1ZM319.1 375.3L320.9 376.4L319.9 377.2ZM334.3 394L335.9 395.1L334.8 395.9ZM347.2 414.2L348.7 415.5L347.6 416.1ZM452.5 341.1L451.3 342.7L450.6 341.6ZM433.3 355.5L432.3 357.2L431.5 356.2ZM416 372.1L415.2 373.9L414.2 373ZM400.4 390.3L399.7 392.2L398.7 391.4ZM386.7 410L386.3 412L385.2 411.3ZM276.6 328.7L278.6 329.3L277.8 330.3ZM295.6 343.4L297.4 344.2L296.6 345.1ZM312.7 360.2L314.4 361.2L313.4 362.1ZM327.8 378.8L329.5 380L328.4 380.7ZM341.2 398.7L342.7 400L341.6 400.7ZM352.2 420L353.6 421.5L352.4 422ZM450.3 332.6L449.2 334.3L448.4 333.2ZM431.8 347.9L430.8 349.7L429.9 348.7ZM415.1 365.2L414.4 367L413.4 366.2ZM400.3 384L399.7 385.9L398.6 385.1ZM387.2 404.1L386.9 406.1L385.8 405.5ZM278.9 319.8L280.8 320.5L280 321.5ZM297.2 335.3L299.1 336.1L298.2 337ZM313.7 352.7L315.4 353.8L314.3 354.6ZM328.1 371.9L329.7 373.1L328.6 373.8ZM340.8 392.3L342.3 393.6L341.1 394.2ZM351.4 413.8L352.7 415.3L351.5 415.8ZM448.2 324L447.1 325.7L446.3 324.7ZM430.3 340L429.4 341.8L428.5 340.8ZM414.3 357.9L413.7 359.7L412.6 358.9ZM400.2 377.3L399.7 379.2L398.6 378.5ZM387.9 397.8L387.5 399.8L386.4 399.2ZM377.7 419.5L377.7 421.6L376.5 421.1ZM362.7 324L363.4 325.9L362.1 325.9ZM363.5 348L364.2 349.9L362.9 349.9ZM364.1 372L364.8 373.9L363.5 373.9ZM364.7 396L365.4 397.9L364.1 397.9ZM365.1 420L365.8 421.8L364.5 421.9ZM369.9 320L370.5 321.9L369.2 321.9ZM368.8 344L369.4 345.9L368.1 345.8ZM367.9 367.9L368.5 369.9L367.2 369.8ZM367.1 391.9L367.7 393.8L366.4 393.8ZM366.5 415.9L367.1 417.8L365.8 417.8ZM356.2 326.8L357 328.7L355.7 328.8ZM358.7 350.7L359.5 352.5L358.2 352.7ZM360.9 374.6L361.7 376.4L360.4 376.6ZM362.8 398.5L363.5 400.4L362.2 400.5ZM364.1 422.5L364.9 424.4L363.6 424.4ZM376.7 322.8L377.1 324.8L375.8 324.6ZM373.9 346.7L374.3 348.6L373 348.5ZM371.3 370.5L371.8 372.5L370.5 372.4ZM369.2 394.4L369.7 396.4L368.4 396.3ZM367.5 418.4L368 420.3L366.7 420.2ZM347.7 318.7L348.8 320.4L347.5 320.7ZM352.3 342.2L353.3 344L352 344.2ZM356.3 365.9L357.2 367.7L355.9 367.9ZM359.7 389.7L360.5 391.5L359.2 391.6ZM362.3 413.5L363.2 415.3L361.9 415.5ZM383.3 325.5L383.5 327.5L382.3 327.2ZM378.6 349L378.9 351L377.7 350.8ZM374.6 372.7L374.9 374.6L373.6 374.4ZM371.1 396.4L371.5 398.4L370.2 398.2ZM368.5 420.3L369 422.2L367.7 422.1ZM340.8 321.2L341.9 322.8L340.7 323.2ZM347.2 344.3L348.3 346L347 346.3ZM352.7 367.6L353.7 369.4L352.5 369.6ZM357.4 391.2L358.4 392.9L357.1 393.2ZM361.2 414.9L362.1 416.7L360.8 416.9ZM393 317.3L393 319.3L391.8 318.9ZM386 340.3L386.2 342.3L384.9 342ZM380.1 363.5L380.4 365.5L379.1 365.2ZM375.1 387L375.4 389L374.1 388.7ZM371 410.6L371.4 412.6L370.1 412.4ZM333.8 323.3L335.1 324.9L333.9 325.3ZM342.1 345.9L343.3 347.4L342.1 347.9ZM349.2 368.8L350.3 370.4L349.1 370.8ZM355.2 392L356.3 393.7L355 394ZM359.9 415.5L360.9 417.3L359.6 417.5ZM400.2 319.6L400.1 321.6L398.9 321ZM391.5 341.9L391.5 343.9L390.2 343.5ZM384 364.7L384 366.7L382.8 366.3ZM377.5 387.8L377.7 389.8L376.4 389.5ZM372.4 411.2L372.6 413.2L371.4 413ZM326.7 325.1L328.2 326.5L327 327.1ZM336.8 346.9L338.1 348.4L336.9 348.9ZM345.4 369.3L346.6 370.9L345.4 371.3ZM352.7 392.1L353.9 393.8L352.6 394.1ZM358.5 415.4L359.5 417.1L358.3 417.4ZM407.6 321.4L407.3 323.4L406.1 322.8ZM397.1 343L396.9 345L395.7 344.5ZM388 365.2L388 367.2L386.7 366.8ZM380.2 387.9L380.3 389.9L379.1 389.5ZM373.9 411.1L374.1 413.1L372.9 412.7ZM313.4 317.1L315 318.3L313.9 319ZM326 337.5L327.5 338.9L326.3 339.5ZM336.8 358.9L338.2 360.4L337 360.9ZM346.1 381L347.4 382.6L346.2 383ZM354 403.7L355.1 405.4L353.8 405.7ZM415.3 322.8L414.8 324.8L413.7 324.1ZM403 343.4L402.7 345.4L401.5 344.8ZM392.4 365L392.3 367L391.1 366.5ZM383.3 387.2L383.3 389.2L382.1 388.7ZM375.8 410L375.9 412L374.7 411.6ZM304.8 318.3L306.5 319.4L305.4 320.2ZM319 337.6L320.6 338.8L319.5 339.5ZM331.4 358.1L332.9 359.5L331.8 360.1ZM342.2 379.6L343.6 381L342.4 381.6ZM351.3 401.8L352.5 403.4L351.3 403.8ZM358.2 424.8L359.3 426.4L358 426.7ZM430.5 315.3L429.7 317.1L428.8 316.3ZM415.6 334.1L415.1 336L414 335.2ZM402.8 354.3L402.4 356.3L401.3 355.7ZM391.6 375.5L391.3 377.5L390.2 377ZM382 397.5L381.9 399.5L380.7 399.1ZM374.3 420.3L374.5 422.3L373.2 421.9ZM295.4 319.1L297.2 320L296.2 320.9ZM311.3 337L313 338.1L312 338.9ZM325.3 356.5L326.9 357.7L325.8 358.4ZM337.5 377.2L338.9 378.5L337.8 379.1ZM347.9 398.7L349.3 400.2L348.1 400.7ZM356.2 421.3L357.3 422.9L356.1 423.3ZM440.1 316.2L439.2 318L438.3 317ZM423.6 333.6L423 335.5L422 334.7ZM409.2 352.8L408.7 354.7L407.6 354ZM396.6 373.2L396.2 375.2L395.1 374.5ZM385.6 394.5L385.4 396.5L384.3 396ZM376.7 416.8L376.7 418.8L375.5 418.4Z"/>
<path class="sl2" d="M365.8 475C343.8 491.4 326.5 475.5 341 452.2M365.8 475C348.9 486 331.5 470 341 452.2M365.8 475C353 481.5 335.6 465.5 341 452.2M365.8 475C356.6 477.5 339.2 461.6 341 452.2M365.8 475C359.8 474.1 342.4 458.1 341 452.2M365.8 475C363.4 470.1 346.1 454.1 341 452.2M365.8 475C367.1 466.1 349.7 450.2 341 452.2M365.8 475C371.2 461.7 353.8 445.7 341 452.2"/><path class="sl2" d="M365.8 475C387.7 490.9 404.6 475 390 452.2M365.8 475C382.7 485.6 399.6 469.7 390 452.2M365.8 475C378.6 481.3 395.5 465.3 390 452.2M365.8 475C374.9 477.4 391.8 461.4 390 452.2M365.8 475C371.7 474 388.7 458 390 452.2M365.8 475C368.1 470.1 385 454.2 390 452.2M365.8 475C364.4 466.3 381.4 450.3 390 452.2M365.8 475C360.3 461.9 377.2 445.9 390 452.2"/><path class="sl2" d="M365.8 475C359.5 471.9 359.5 457.1 365.8 454M365.8 475C363.3 471.9 363.3 457.1 365.8 454M365.8 475C368.3 471.9 368.3 457.1 365.8 454M365.8 475C372.1 471.9 372.1 457.1 365.8 454"/><path fill="none" stroke="#000" stroke-opacity=".5" stroke-width="1" stroke-dasharray=".9 2.2" d="M350 417.5Q365.5 430 381 417.5M342.5 436Q347 439 352 436M379 436Q384 439 388.5 436"/><g fill="#0b0b0b" fill-opacity="0.8"><ellipse cx="340.3" cy="449.8" rx="1.9" ry="1.6"/><circle cx="340.3" cy="450.9" r="1.2"/><circle cx="341.8" cy="450.1" r="1.2"/><circle cx="341.3" cy="451.8" r="1.4"/><circle cx="338.5" cy="450.6" r="0.9"/><circle cx="341.1" cy="451.3" r="1.1"/><circle cx="342.7" cy="450.7" r="1"/><circle cx="340.2" cy="448.1" r="1.2"/><circle cx="340" cy="448" r="1"/><circle cx="340.6" cy="451.6" r="1"/><circle cx="339" cy="449.2" r="1.3"/><circle cx="341.7" cy="450.4" r="1"/><circle cx="338.4" cy="447.8" r="0.9"/></g><g fill="#0b0b0b" fill-opacity="0.92"><ellipse cx="365.6" cy="450.4" rx="4.6" ry="2"/><circle cx="360.5" cy="452.7" r="1.3"/><circle cx="362.4" cy="449.4" r="0.8"/><circle cx="372.1" cy="451.5" r="1.2"/><circle cx="364.8" cy="449.1" r="1.5"/><circle cx="367.7" cy="448.8" r="0.8"/><circle cx="367.5" cy="452.3" r="1.1"/><circle cx="361.4" cy="451.3" r="1.2"/><circle cx="368.6" cy="452" r="1"/><circle cx="359.2" cy="451.2" r="0.9"/><circle cx="359.6" cy="450.2" r="0.7"/><circle cx="362.5" cy="449.3" r="0.8"/><circle cx="372.5" cy="449.4" r="1.3"/><circle cx="364.4" cy="451.9" r="1.2"/><circle cx="362.1" cy="451" r="1.1"/><circle cx="372.5" cy="451.1" r="0.9"/><circle cx="363.1" cy="448.6" r="1.1"/><circle cx="361.7" cy="449.9" r="1.5"/><circle cx="366.7" cy="447.2" r="1.4"/><circle cx="359.8" cy="448.6" r="0.8"/><circle cx="366.7" cy="451.8" r="1"/><circle cx="362.1" cy="451.7" r="1.4"/><circle cx="362.7" cy="452" r="1.1"/><circle cx="369.9" cy="452.7" r="0.8"/><circle cx="372.2" cy="450.2" r="0.9"/><circle cx="372.4" cy="450.5" r="1.3"/><circle cx="364.7" cy="447.5" r="0.8"/><circle cx="363.3" cy="451.7" r="1.4"/><circle cx="362.1" cy="448.9" r="0.8"/><circle cx="363.8" cy="452.4" r="1.3"/><circle cx="361" cy="448" r="1.1"/><circle cx="370.3" cy="452.4" r="1.3"/><circle cx="359.4" cy="449.3" r="1.1"/><circle cx="360.4" cy="450.1" r="0.7"/><circle cx="368" cy="451.3" r="1.2"/><circle cx="363.4" cy="452.7" r="1.4"/><circle cx="365.6" cy="452.7" r="1.3"/><circle cx="366.1" cy="451.9" r="0.9"/><circle cx="369.4" cy="453.1" r="1.3"/><circle cx="360.9" cy="448.1" r="1.3"/><circle cx="368.3" cy="453.3" r="1.1"/></g><ellipse cx="362.3" cy="450.6" rx="3.3" ry="2.7" fill="#0b0b0b" fill-opacity=".9"/><ellipse cx="369" cy="450.3" rx="3.3" ry="2.7" fill="#0b0b0b" fill-opacity=".9"/><g fill="#0b0b0b" fill-opacity="0.8"><ellipse cx="390.4" cy="449.8" rx="1.9" ry="1.6"/><circle cx="392.3" cy="451.2" r="0.8"/><circle cx="390.5" cy="451.4" r="1.4"/><circle cx="389.2" cy="448.1" r="0.7"/><circle cx="390.2" cy="448.1" r="1.3"/><circle cx="390.4" cy="450.9" r="1.4"/><circle cx="390.8" cy="451.5" r="1"/><circle cx="393" cy="450.9" r="1.4"/><circle cx="392.5" cy="449.5" r="1.5"/><circle cx="387.9" cy="450.5" r="0.8"/><circle cx="392" cy="448.8" r="0.9"/><circle cx="392.8" cy="449.9" r="1.1"/><circle cx="388.4" cy="447.9" r="1.4"/></g><path class="sl2" d="M366.1 475.1L373.3 475.4M366.1 475.2L373.6 477.9M366 475.3L373.3 480.3M366 475.3L370.9 481.9M365.9 475.4L368.7 484.1M365.8 475.4L365.3 483.7M365.7 475.4L363.5 482.3M365.6 475.3L360.1 483.6M365.5 475.3L357.4 480.5M365.5 475.2L358.3 477.4M365.5 475.1L358.2 475M365.5 475L356.3 472.1M365.6 474.9L358.1 469.9M365.6 474.8L361.6 468.7M365.7 474.8L363.5 467.8M365.8 474.8L365.5 467.6M365.9 474.8L368.2 466.8M366 474.9L372.2 467M366 474.9L372.8 470.4M366.1 475L372.8 472.8"/><g fill="#400000" fill-opacity="0.5"><ellipse cx="365.8" cy="475.2" rx="0.8" ry="0.8"/><circle cx="366.1" cy="474.7" r="0.7"/><circle cx="365.2" cy="475.9" r="0.6"/><circle cx="365.1" cy="475.8" r="0.6"/><circle cx="365.5" cy="474" r="0.6"/></g>
</g>
<rect class="fr" x="265.5" y="304.8" width="201.7" height="183.9"/>
<line class="tk" x1="305.8" x2="305.8" y1="488.7" y2="485.5"/>
<line class="tk" x1="265.5" x2="268.7" y1="451.9" y2="451.9"/>
<line class="tk" x1="346.2" x2="346.2" y1="488.7" y2="485.5"/>
<line class="tk" x1="265.5" x2="268.7" y1="415.1" y2="415.1"/>
<line class="tk" x1="386.5" x2="386.5" y1="488.7" y2="485.5"/>
<line class="tk" x1="265.5" x2="268.7" y1="378.4" y2="378.4"/>
<line class="tk" x1="426.9" x2="426.9" y1="488.7" y2="485.5"/>
<line class="tk" x1="265.5" x2="268.7" y1="341.6" y2="341.6"/>
<line x1="265.1" x2="467.6" y1="488.8" y2="488.8" stroke="#000" stroke-opacity=".88" stroke-width="1.6"/>
<text class="t" x="47.3" y="30.6" text-anchor="middle">120</text>
<text class="t" x="66" y="30.6" text-anchor="middle">140</text>
<text class="t" x="84.7" y="30.6" text-anchor="middle">160</text>
<text class="t" x="103.3" y="30.6" text-anchor="middle">180</text>
<text class="t" x="121.3" y="30.6" text-anchor="middle">200</text>
<text class="t" x="140.3" y="30.6" text-anchor="middle">220</text>
<text class="t" x="162" y="30.6" text-anchor="middle">240</text>
<text class="t" x="181.5" y="30.6" text-anchor="middle">260</text>
<text class="t" x="197.3" y="30.6" text-anchor="middle">280</text>
<text class="t" x="216" y="30.6" text-anchor="middle">300</text>
<text class="t" x="234.7" y="30.6" text-anchor="middle">320</text>
<text class="t" x="276.5" y="30.4" text-anchor="middle">120</text>
<text class="t" x="302" y="30.4" text-anchor="middle">160</text>
<text class="t" x="331.5" y="30.4" text-anchor="middle">200</text>
<text class="t" x="361" y="30.4" text-anchor="middle">240</text>
<text class="t" x="390.5" y="30.4" text-anchor="middle">280</text>
<text class="t" x="421.5" y="30.4" text-anchor="middle">320</text>
<text class="t" x="448.4" y="30.4" text-anchor="middle">360</text>
<text class="t" x="51.2" y="296.7" text-anchor="middle">120</text>
<text class="t" x="76.5" y="296.7" text-anchor="middle">160</text>
<text class="t" x="100.7" y="296.7" text-anchor="middle">200</text>
<text class="t" x="126.8" y="296.7" text-anchor="middle">240</text>
<text class="t" x="152.2" y="296.7" text-anchor="middle">280</text>
<text class="t" x="177.5" y="296.7" text-anchor="middle">320</text>
<text class="t" x="200.7" y="296.7" text-anchor="middle">360</text>
<text class="t" x="224.7" y="296.7" text-anchor="middle">400</text>
<text class="t" x="272.3" y="296.3" text-anchor="middle">120</text>
<text class="t" x="296.2" y="296.3" text-anchor="middle">160</text>
<text class="t" x="320.1" y="296.3" text-anchor="middle">200</text>
<text class="t" x="347" y="296.3" text-anchor="middle">240</text>
<text class="t" x="372" y="296.3" text-anchor="middle">280</text>
<text class="t" x="397" y="296.3" text-anchor="middle">320</text>
<text class="t" x="422" y="296.3" text-anchor="middle">360</text>
<text class="t" x="445.9" y="296.3" text-anchor="middle">400</text>
<text class="t" x="7.3" y="19.2" font-size="8.8" letter-spacing=".22"><tspan font-style="italic">P</tspan>/KPa</text>
<text class="t" x="12.2" y="286.8" font-size="8.8" letter-spacing=".22"><tspan font-style="italic">P</tspan>/KPa</text>
<text class="t" x="31.8" y="45.7" text-anchor="end">500</text>
<text class="t" x="31.8" y="78.8" text-anchor="end">400</text>
<text class="t" x="31.8" y="117.1" text-anchor="end">300</text>
<text class="t" x="31.8" y="153.7" text-anchor="end">200</text>
<text class="t" x="31.8" y="193.5" text-anchor="end">100</text>
<text class="t" x="30.7" y="227.5" text-anchor="end">0</text>
<text class="ti" x="9.3" y="136.3" text-anchor="middle">Y</text>
<text class="t" x="39.9" y="311.8" text-anchor="end">500</text>
<text class="t" x="39.9" y="344.8" text-anchor="end">400</text>
<text class="t" x="39.9" y="382" text-anchor="end">300</text>
<text class="t" x="39.9" y="418.2" text-anchor="end">200</text>
<text class="t" x="39.9" y="456.5" text-anchor="end">100</text>
<text class="t" x="38.2" y="488.6" text-anchor="end">0</text>
<text class="ti" x="17.5" y="400.4" text-anchor="middle">Y</text>
<text class="t" x="37.5" y="237.8" text-anchor="middle">0</text>
<text class="t" x="78.1" y="237.8" text-anchor="middle">100</text>
<text class="t" x="118.1" y="237.8" text-anchor="middle">200</text>
<text class="t" x="161.2" y="237.8" text-anchor="middle">300</text>
<text class="t" x="204.6" y="237.8" text-anchor="middle">400</text>
<text class="t" x="241.7" y="237.8" text-anchor="middle">500</text>
<text class="t" x="265" y="237.6" text-anchor="middle">0</text>
<text class="t" x="306.5" y="237.6" text-anchor="middle">100</text>
<text class="t" x="346.3" y="237.6" text-anchor="middle">200</text>
<text class="t" x="389.8" y="237.6" text-anchor="middle">300</text>
<text class="t" x="432.8" y="237.6" text-anchor="middle">400</text>
<text class="t" x="469.2" y="237.6" text-anchor="middle">500</text>
<text class="t" x="43.6" y="500.5" text-anchor="middle">0</text>
<text class="t" x="84" y="500.5" text-anchor="middle">100</text>
<text class="t" x="122.8" y="500.5" text-anchor="middle">200</text>
<text class="t" x="164.6" y="500.5" text-anchor="middle">300</text>
<text class="t" x="206" y="500.5" text-anchor="middle">400</text>
<text class="t" x="241.9" y="500.5" text-anchor="middle">500</text>
<text class="t" x="268.2" y="500" text-anchor="middle">0</text>
<text class="t" x="307.5" y="500" text-anchor="middle">100</text>
<text class="t" x="346.8" y="500" text-anchor="middle">200</text>
<text class="t" x="388.6" y="500" text-anchor="middle">300</text>
<text class="t" x="430.4" y="500" text-anchor="middle">400</text>
<text class="t" x="466.4" y="500" text-anchor="middle">500</text>
<text class="ti" x="137.6" y="249.7" text-anchor="middle">X</text>
<text class="ti" x="365.4" y="249.4" text-anchor="middle">X</text>
<text class="ti" x="140.4" y="511" text-anchor="middle">X</text>
<text class="ti" x="365.2" y="511" text-anchor="middle">X</text>
<text class="cap" x="115.6" y="270.4" text-anchor="middle" letter-spacing=".2">(<tspan font-weight="bold">a</tspan>) VIII-1</text>
<text class="cap" x="366" y="270.5" text-anchor="middle" letter-spacing=".2">(<tspan font-weight="bold">b</tspan>) VIII-2</text>
<text class="cap" x="116" y="540.3" text-anchor="middle" letter-spacing=".2">(<tspan font-weight="bold">c</tspan>) VIII-3</text>
<text class="cap" x="365.6" y="540" text-anchor="middle" letter-spacing=".2">(<tspan font-weight="bold">d</tspan>) VIII-4</text>
</svg></body></html>
